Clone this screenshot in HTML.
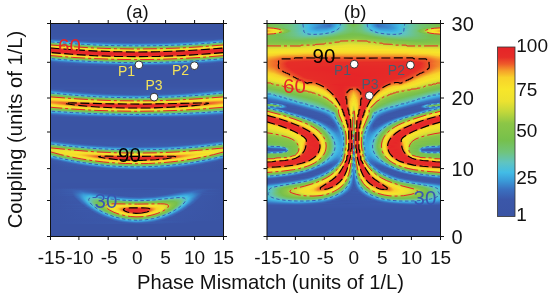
<!DOCTYPE html>
<html><head><meta charset="utf-8"><title>Coupling vs phase mismatch</title>
<style>
html,body{margin:0;padding:0;background:#fff}
body{width:550px;height:298px;position:relative;overflow:hidden;font-family:"Liberation Sans",Arial,sans-serif}
.hm{position:absolute}
.hm i{display:block;height:1px}
svg{position:absolute;left:0;top:0}
svg text{font-family:"Liberation Sans",Arial,sans-serif}
.fr{fill:none;stroke:#111;stroke-width:1}
.tk{fill:none;stroke:#111;stroke-width:1}
.tl text{font-size:20px;fill:#111}
.tl text.tlx{font-size:19px}
.ttl{font-size:18.5px;fill:#111;text-anchor:middle}
.ax{font-size:20.2px;fill:#111;text-anchor:middle}
.lb{font-size:20.5px;text-anchor:middle}
.pl{font-size:14px;text-anchor:middle}
.pa{fill:#f2e25a}
.pb{fill:#4d5a6c}
.pt{fill:#fff;stroke:#222;stroke-width:0.9}
.c9{fill:none;stroke:#000;stroke-width:1.15;stroke-dasharray:9 3.5}
.c6{fill:none;stroke:#e62328;stroke-width:1.0;stroke-dasharray:14 3 3 3}
.c3{fill:none;stroke:#3a5cb4;stroke-width:1.0;stroke-dasharray:3.5 2.5}
</style></head><body>
<div class="hm" style="left:51px;top:24px;width:172px;height:212px"><i style="background:linear-gradient(90deg,#3a54a4 0px,#3a54a4 172px)"></i><i style="background:linear-gradient(90deg,#3a54a4 0px,#3a54a4 172px)"></i><i style="background:linear-gradient(90deg,#3a54a4 0px,#3a54a4 172px)"></i><i style="background:linear-gradient(90deg,#3a54a4 0px,#3a54a4 172px)"></i><i style="background:linear-gradient(90deg,#3a54a4 0px,#3a54a4 172px)"></i><i style="background:linear-gradient(90deg,#3a54a4 0px,#3a54a4 172px)"></i><i style="background:linear-gradient(90deg,#3a54a4 0px,#3a54a4 172px)"></i><i style="background:linear-gradient(90deg,#3a54a4 0px,#3a54a4 172px)"></i><i style="background:linear-gradient(90deg,#3a54a4 0px,#3a54a4 172px)"></i><i style="background:linear-gradient(90deg,#3a54a5 0px,#3a54a5 172px)"></i><i style="background:linear-gradient(90deg,#3a55a5 0px,#3a55a5 172px)"></i><i style="background:linear-gradient(90deg,#3a55a5 0px,#3a55a5 172px)"></i><i style="background:linear-gradient(90deg,#3a55a6 0px,#3a55a6 172px)"></i><i style="background:linear-gradient(90deg,#3b56a7 0px,#3b56a7 172px)"></i><i style="background:linear-gradient(90deg,#3b57a9 0px,#3b57a9 172px)"></i><i style="background:linear-gradient(90deg,#3a68b9 0px,#3b57a8 16.5px,#3b59ab 162.5px,#3a68b8 172px)"></i><i style="background:linear-gradient(90deg,#3a8ed1 0px,#3a6cbd 9.5px,#3b57a9 29.5px,#3b5bac 150.5px,#3a77c4 166.5px,#3a8dd0 172px)"></i><i style="background:linear-gradient(90deg,#44bde3 0px,#3a76c3 18.5px,#3b57a9 43.5px,#3b5cae 135.5px,#3a78c5 154.5px,#43bce4 172px)"></i><i style="background:linear-gradient(90deg,#67c4a2 0px,#5ac2c8 5.5px,#41b9e5 13.5px,#3a70c0 36.5px,#3b58aa 76.5px,#3b62b3 121.5px,#3a79c5 139.5px,#42bce6 159.5px,#62c4b6 169.5px,#67c4a4 172px)"></i><i style="background:linear-gradient(90deg,#75c052 0px,#6cc48d 9.5px,#5bc3c6 17.5px,#41b9e5 27.5px,#3a77c4 55.5px,#3a69b9 85.5px,#3a76c3 115.5px,#40b3e2 142.5px,#44bde3 146.5px,#62c4b7 157.5px,#71c371 166.5px,#75c153 172px)"></i><i style="background:linear-gradient(90deg,#8bc646 0px,#76c04f 11.5px,#6bc492 23.5px,#5cc3c6 32.5px,#41b9e5 46.5px,#3a94d5 73.5px,#3a95d5 99.5px,#44bde3 128.5px,#61c4ba 142.5px,#72c36a 155.5px,#78c14b 162.5px,#8bc646 172px)"></i><i style="background:linear-gradient(90deg,#dbde34 0px,#8ac646 12.5px,#75c050 25.5px,#69c49b 42.5px,#5cc3c5 53.5px,#46bde1 79.5px,#4ebfd7 106.5px,#62c4b7 123.5px,#76c04d 147.5px,#92c845 161.5px,#dadd35 172px)"></i><i style="background:linear-gradient(90deg,#f7e32a 0px,#e4e032 10.5px,#8cc646 25.5px,#75c051 43.5px,#6ac497 74.5px,#69c49b 93.5px,#72c36d 118.5px,#79c14b 132.5px,#8fc745 147.5px,#ede230 163.5px,#f7e32a 172px)"></i><i style="background:linear-gradient(90deg,#f5a32a 0px,#f8d32a 5.5px,#f4e52b 15.5px,#e6e131 23.5px,#8bc646 43.5px,#76c04f 81.5px,#83c448 120.5px,#91c845 130.5px,#ede230 150.5px,#f7e22a 160.5px,#f8cf2a 167.5px,#f5a52a 172px)"></i><i style="background:linear-gradient(90deg,#e73328 0px,#ef612a 6.5px,#f6b02a 13.5px,#f8d22a 17.5px,#f5e52b 29.5px,#e3e032 41.5px,#9ecc42 66.5px,#8cc646 86.5px,#9fcc42 106.5px,#eee32f 135.5px,#f7e12a 147.5px,#f8cc2a 155.5px,#f3872a 162.5px,#ec512a 167.5px,#e73428 172px)"></i><i style="background:linear-gradient(90deg,#e62628 0px,#e62f28 11.5px,#ef642a 19.5px,#f6af2a 27.5px,#f8d42a 33.5px,#f5e52b 49.5px,#dedf33 89.5px,#f7e12a 129.5px,#f8cd2a 140.5px,#f38f2a 148.5px,#ec4f2a 155.5px,#e62d28 161.5px,#e62628 172px)"></i><i style="background:linear-gradient(90deg,#e62328 0px,#e73128 25.5px,#ef662a 35.5px,#f6ab2a 45.5px,#f8d32a 55.5px,#f7e12a 91.5px,#f8d12a 118.5px,#f4952a 130.5px,#ec4f2a 140.5px,#e62c28 148.5px,#e62328 172px)"></i><i style="background:linear-gradient(90deg,#e62828 0px,#e62828 32.5px,#e73528 44.5px,#f4922a 73.5px,#f59e2a 88.5px,#f2862a 103.5px,#e62c28 131.5px,#e62628 168.5px,#e62828 172px)"></i><i style="background:linear-gradient(90deg,#ec4c29 0px,#e62d28 5.5px,#e62428 39.5px,#e62d28 96.5px,#e62628 157.5px,#e62f28 167.5px,#eb4b29 172px)"></i><i style="background:linear-gradient(90deg,#f7c82a 0px,#ed572a 10.5px,#e62d28 17.5px,#e62428 61.5px,#e62928 149.5px,#e73028 155.5px,#ee5e2a 162.5px,#f7c62a 172px)"></i><i style="background:linear-gradient(90deg,#f3e52c 0px,#f8d32a 10.5px,#f38b2a 18.5px,#ed542a 24.5px,#e62c28 33.5px,#e62428 105.5px,#e73028 140.5px,#ef612a 149.5px,#f8cc2a 160.5px,#f5e52b 170.5px,#f4e52c 172px)"></i><i style="background:linear-gradient(90deg,#c3d83a 0px,#ede22f 7.5px,#f7e22a 16.5px,#f8cb2a 25.5px,#ed562a 41.5px,#e62c28 55.5px,#e62d28 117.5px,#ee592a 131.5px,#f8d42a 148.5px,#f4e52c 159.5px,#e5e032 166.5px,#c5d83a 172px)"></i><i style="background:linear-gradient(90deg,#83c448 0px,#93c844 5.5px,#e2df33 17.5px,#f0e32e 22.5px,#f7e02a 32.5px,#f8cb2a 43.5px,#f06c2a 64.5px,#ed542a 76.5px,#ed542a 96.5px,#f06e2a 108.5px,#f8d42a 131.5px,#f4e52b 145.5px,#e8e131 153.5px,#9ccb43 165.5px,#88c547 169.5px,#84c448 172px)"></i><i style="background:linear-gradient(90deg,#73c268 0px,#77c04c 5.5px,#91c745 17.5px,#d9dd35 30.5px,#eee32f 37.5px,#f7e02a 54.5px,#f8ce2a 90.5px,#f3e52c 128.5px,#e6e131 138.5px,#a5ce41 151.5px,#8ac547 156.5px,#76c04e 167.5px,#73c267 172px)"></i><i style="background:linear-gradient(90deg,#5fc4c1 0px,#71c376 9.5px,#78c04c 18.5px,#90c745 32.5px,#d2db37 48.5px,#ede22f 61.5px,#efe32f 107.5px,#e3e032 117.5px,#add13f 133.5px,#8bc646 141.5px,#76c050 155.5px,#6dc48b 165.5px,#60c4c0 172px)"></i><i style="background:linear-gradient(90deg,#3faee0 0px,#45bde2 4.5px,#62c4b7 13.5px,#71c372 23.5px,#77c04c 33.5px,#94c944 55.5px,#bbd53c 75.5px,#bcd53c 95.5px,#97ca44 115.5px,#85c448 126.5px,#76c04f 140.5px,#6dc488 152.5px,#5ac2c7 161.5px,#41b8e5 169.5px,#3fafe1 172px)"></i><i style="background:linear-gradient(90deg,#3a7dc8 0px,#42bce6 15.5px,#63c4b2 28.5px,#71c376 39.5px,#77c04c 55.5px,#81c349 95.5px,#76c050 119.5px,#6dc487 136.5px,#59c2c9 148.5px,#41b9e5 157.5px,#3a7ec8 172px)"></i><i style="background:linear-gradient(90deg,#3b62b3 0px,#3a7bc6 11.5px,#43bce5 30.5px,#64c4af 48.5px,#70c479 65.5px,#72c36b 88.5px,#6fc47f 109.5px,#57c2cc 132.5px,#41b7e4 143.5px,#3a6bbb 166.5px,#3b62b3 172px)"></i><i style="background:linear-gradient(90deg,#3b57a8 0px,#3a73c2 22.5px,#40b4e3 46.5px,#46bde0 53.5px,#5dc3c4 80.5px,#54c1cf 106.5px,#41b9e5 123.5px,#3a7ac6 147.5px,#3b57a9 169.5px,#3b57a8 172px)"></i><i style="background:linear-gradient(90deg,#3b56a7 0px,#3b5eaf 22.5px,#3a7fc8 44.5px,#3da5dc 68.5px,#3eaadf 95.5px,#3a8ed1 120.5px,#3a66b7 142.5px,#3b56a8 162.5px,#3b56a7 172px)"></i><i style="background:linear-gradient(90deg,#3a55a6 0px,#3b5dae 38.5px,#3a7cc7 87.5px,#3b56a8 149.5px,#3a55a6 172px)"></i><i style="background:linear-gradient(90deg,#3a55a5 0px,#3b5eb0 69.5px,#3b59ab 115.5px,#3a55a5 172px)"></i><i style="background:linear-gradient(90deg,#3a54a5 0px,#3a54a5 172px)"></i><i style="background:linear-gradient(90deg,#3a54a4 0px,#3a54a4 172px)"></i><i style="background:linear-gradient(90deg,#3a54a4 0px,#3a54a4 172px)"></i><i style="background:linear-gradient(90deg,#3a54a4 0px,#3a54a4 172px)"></i><i style="background:linear-gradient(90deg,#3a54a4 0px,#3a54a4 172px)"></i><i style="background:linear-gradient(90deg,#3a54a4 0px,#3a54a4 172px)"></i><i style="background:linear-gradient(90deg,#3a54a4 0px,#3a54a4 172px)"></i><i style="background:linear-gradient(90deg,#3a54a4 0px,#3a54a4 172px)"></i><i style="background:linear-gradient(90deg,#3a54a4 0px,#3a54a4 172px)"></i><i style="background:linear-gradient(90deg,#3a54a4 0px,#3a54a4 172px)"></i><i style="background:linear-gradient(90deg,#3a54a4 0px,#3a54a4 172px)"></i><i style="background:linear-gradient(90deg,#3a54a4 0px,#3a54a4 172px)"></i><i style="background:linear-gradient(90deg,#3a54a4 0px,#3a54a4 172px)"></i><i style="background:linear-gradient(90deg,#3a54a4 0px,#3a54a4 172px)"></i><i style="background:linear-gradient(90deg,#3a54a4 0px,#3a54a4 172px)"></i><i style="background:linear-gradient(90deg,#3a54a4 0px,#3a54a4 172px)"></i><i style="background:linear-gradient(90deg,#3a54a4 0px,#3a54a4 172px)"></i><i style="background:linear-gradient(90deg,#3a54a5 0px,#3a54a5 172px)"></i><i style="background:linear-gradient(90deg,#3a55a5 0px,#3a55a5 172px)"></i><i style="background:linear-gradient(90deg,#3a55a6 0px,#3a55a5 172px)"></i><i style="background:linear-gradient(90deg,#3a55a6 0px,#3a55a6 172px)"></i><i style="background:linear-gradient(90deg,#3b56a7 0px,#3b56a7 172px)"></i><i style="background:linear-gradient(90deg,#3b57a8 0px,#3b57a8 172px)"></i><i style="background:linear-gradient(90deg,#3b5fb0 0px,#3b56a7 15.5px,#3b59ab 168.5px,#3b5eb0 172px)"></i><i style="background:linear-gradient(90deg,#3a6fbf 0px,#3b57a8 17.5px,#3b59ab 159.5px,#3a6fbf 172px)"></i><i style="background:linear-gradient(90deg,#3a97d6 0px,#3a6dbd 10.5px,#3b57a8 27.5px,#3b5aac 150.5px,#3a7ac5 165.5px,#3a96d6 172px)"></i><i style="background:linear-gradient(90deg,#44bde3 0px,#3a75c3 17.5px,#3b57a9 38.5px,#3b5bac 139.5px,#3a78c5 155.5px,#44bce4 172px)"></i><i style="background:linear-gradient(90deg,#63c4b4 0px,#42bce5 10.5px,#3a6ebe 31.5px,#3b57a9 56.5px,#3b5cae 126.5px,#3a79c5 144.5px,#42bce6 161.5px,#62c4b6 172px)"></i><i style="background:linear-gradient(90deg,#72c36b 0px,#6ac494 6.5px,#5bc3c7 13.5px,#41b8e4 22.5px,#3a6fbf 45.5px,#3b59ab 81.5px,#3a67b8 119.5px,#3a7bc6 131.5px,#44bde3 151.5px,#62c4b7 161.5px,#71c372 170.5px,#72c36c 172px)"></i><i style="background:linear-gradient(90deg,#7ec24a 0px,#76c050 5.5px,#6cc48e 16.5px,#5cc3c5 24.5px,#41b8e4 35.5px,#3a78c4 62.5px,#3a6bbc 87.5px,#3a78c4 109.5px,#41b8e4 136.5px,#53c1d0 144.5px,#63c4b5 150.5px,#72c370 160.5px,#78c14b 168.5px,#7dc24a 172px)"></i><i style="background:linear-gradient(90deg,#99ca43 0px,#89c547 4.5px,#76c04e 16.5px,#6dc48a 28.5px,#5dc3c4 38.5px,#42bae5 52.5px,#3a99d8 76.5px,#3a9cd9 99.5px,#45bde2 122.5px,#62c4b7 136.5px,#72c370 148.5px,#78c14b 157.5px,#92c845 170.5px,#98ca43 172px)"></i><i style="background:linear-gradient(90deg,#d6dc36 0px,#8ac547 15.5px,#75c051 30.5px,#69c499 47.5px,#5cc3c5 59.5px,#4abedc 83.5px,#56c1cd 107.5px,#63c4b4 118.5px,#73c262 137.5px,#78c14b 144.5px,#8fc745 158.5px,#d5dc36 172px)"></i><i style="background:linear-gradient(90deg,#f3e42c 0px,#e4e032 9.5px,#8ac547 29.5px,#75c153 48.5px,#6bc48f 77.5px,#6bc490 94.5px,#75c153 123.5px,#83c448 137.5px,#93c845 145.5px,#ece230 164.5px,#f2e42d 172px)"></i><i style="background:linear-gradient(90deg,#f8dc2a 0px,#f2e42d 14.5px,#e5e032 23.5px,#8ac646 47.5px,#77c04c 86.5px,#8bc646 125.5px,#ede22f 151.5px,#f7e12a 167.5px,#f8dc2a 172px)"></i><i style="background:linear-gradient(90deg,#f7bf2a 0px,#f8d62a 11.5px,#f4e52c 28.5px,#e5e032 41.5px,#9fcc42 69.5px,#92c845 89.5px,#acd03f 109.5px,#eee32f 135.5px,#f7e12a 151.5px,#f8ca2a 167.5px,#f7bf2a 172px)"></i><i style="background:linear-gradient(90deg,#f4982a 0px,#f5a02a 10.5px,#f8d42a 28.5px,#f4e52b 49.5px,#e2df33 91.5px,#f7e12a 131.5px,#f8cc2a 147.5px,#f59c2a 163.5px,#f4982a 172px)"></i><i style="background:linear-gradient(90deg,#f4922a 0px,#f0702a 9.5px,#f0712a 20.5px,#f8d42a 52.5px,#f7e12a 92.5px,#f8cc2a 123.5px,#f0722a 151.5px,#f0702a 162.5px,#f3902a 172px)"></i><i style="background:linear-gradient(90deg,#f6b22a 0px,#ee5f2a 13.5px,#eb4a29 25.5px,#ee592a 44.5px,#f59f2a 74.5px,#f5a12a 95.5px,#f1732a 117.5px,#ec512a 133.5px,#ec4d29 150.5px,#ef622a 159.5px,#f6b12a 172px)"></i><i style="background:linear-gradient(90deg,#f8d72a 0px,#f7c92a 4.5px,#ed562a 20.5px,#e73328 34.5px,#e73028 57.5px,#e93c29 93.5px,#e62e28 132.5px,#eb4829 147.5px,#ef662a 154.5px,#f8d32a 169.5px,#f8d72a 172px)"></i><i style="background:linear-gradient(90deg,#f6e52b 0px,#f8cf2a 12.5px,#ee572a 28.5px,#e62d28 41.5px,#e62d28 130.5px,#ee5b2a 144.5px,#f8d32a 160.5px,#f6e62b 172px)"></i><i style="background:linear-gradient(90deg,#e4e032 0px,#f6e62b 10.5px,#f8d22a 22.5px,#ed562a 40.5px,#e62d28 54.5px,#e62d28 118.5px,#ee5f2a 133.5px,#f8d02a 149.5px,#f5e52b 162.5px,#e5e032 172px)"></i><i style="background:linear-gradient(90deg,#abd03f 0px,#ede230 13.5px,#f7e02a 26.5px,#f8cd2a 36.5px,#ee582a 57.5px,#e73528 76.5px,#e83628 96.5px,#ee5b2a 115.5px,#f8d32a 137.5px,#f4e52c 152.5px,#e7e131 160.5px,#acd03f 172px)"></i><i style="background:linear-gradient(90deg,#82c349 0px,#92c845 7.5px,#e3e032 23.5px,#f2e42d 32.5px,#f8dc2a 45.5px,#f8ca2a 56.5px,#f4962a 75.5px,#f38c2a 89.5px,#f6af2a 107.5px,#f8d42a 119.5px,#f3e52c 138.5px,#e8e131 147.5px,#99ca43 163.5px,#88c547 168.5px,#83c349 172px)"></i><i style="background:linear-gradient(90deg,#74c15c 0px,#79c14b 6.5px,#91c845 20.5px,#dbde34 37.5px,#eee32f 45.5px,#f7e02a 70.5px,#f7e22a 105.5px,#e9e131 130.5px,#a6ce40 147.5px,#89c547 154.5px,#76c04e 168.5px,#74c15c 172px)"></i><i style="background:linear-gradient(90deg,#68c49e 0px,#71c371 8.5px,#77c04c 18.5px,#92c845 37.5px,#d0db37 57.5px,#ece230 79.5px,#e5e032 102.5px,#b9d53c 123.5px,#89c547 138.5px,#76c050 155.5px,#6dc489 168.5px,#68c49c 172px)"></i><i style="background:linear-gradient(90deg,#4dbfd8 0px,#63c4b4 10.5px,#71c375 22.5px,#77c04c 36.5px,#99ca43 71.5px,#a1cd42 92.5px,#76c04d 137.5px,#6ec485 153.5px,#5cc3c5 165.5px,#4dbfd8 172px)"></i><i style="background:linear-gradient(90deg,#3ca2db 0px,#45bde2 11.5px,#63c4b2 27.5px,#71c375 42.5px,#77c04c 65.5px,#76c04f 110.5px,#6fc481 133.5px,#5ac2c7 150.5px,#41b8e4 163.5px,#3ca2db 172px)"></i><i style="background:linear-gradient(90deg,#3a79c5 0px,#42bbe6 27.5px,#65c4ac 54.5px,#6ec484 76.5px,#6ec485 96.5px,#64c4ae 118.5px,#42bce6 144.5px,#3a79c5 172px)"></i><i style="background:linear-gradient(90deg,#3b63b4 0px,#3a7ec8 19.5px,#41b9e5 52.5px,#51c0d3 89.5px,#41b7e4 121.5px,#3a7ac6 154.5px,#3b63b4 172px)"></i><i style="background:linear-gradient(90deg,#3b57a9 0px,#3a7bc6 41.5px,#3b9ed9 75.5px,#3a97d6 107.5px,#3a64b5 152.5px,#3b57a9 172px)"></i><i style="background:linear-gradient(90deg,#3b56a7 0px,#3b60b1 38.5px,#3a6fbf 93.5px,#3b56a8 164.5px,#3b56a7 172px)"></i><i style="background:linear-gradient(90deg,#3a55a6 0px,#3b58aa 114.5px,#3a55a6 172px)"></i><i style="background:linear-gradient(90deg,#3a55a6 0px,#3a55a6 172px)"></i><i style="background:linear-gradient(90deg,#3a55a5 0px,#3a55a5 172px)"></i><i style="background:linear-gradient(90deg,#3a54a5 0px,#3a54a5 172px)"></i><i style="background:linear-gradient(90deg,#3a54a4 0px,#3a54a4 172px)"></i><i style="background:linear-gradient(90deg,#3a54a4 0px,#3a54a4 172px)"></i><i style="background:linear-gradient(90deg,#3a54a4 0px,#3a54a4 172px)"></i><i style="background:linear-gradient(90deg,#3a54a4 0px,#3a54a4 172px)"></i><i style="background:linear-gradient(90deg,#3a54a4 0px,#3a54a4 172px)"></i><i style="background:linear-gradient(90deg,#3a54a4 0px,#3a54a4 172px)"></i><i style="background:linear-gradient(90deg,#3a54a4 0px,#3a54a4 172px)"></i><i style="background:linear-gradient(90deg,#3a54a4 0px,#3a54a4 172px)"></i><i style="background:linear-gradient(90deg,#3a54a4 0px,#3a54a4 172px)"></i><i style="background:linear-gradient(90deg,#3a54a4 0px,#3a54a4 172px)"></i><i style="background:linear-gradient(90deg,#3a54a4 0px,#3a54a4 172px)"></i><i style="background:linear-gradient(90deg,#3a54a4 0px,#3a54a4 172px)"></i><i style="background:linear-gradient(90deg,#3a54a4 0px,#3a54a4 172px)"></i><i style="background:linear-gradient(90deg,#3a54a4 0px,#3a54a4 172px)"></i><i style="background:linear-gradient(90deg,#3a54a4 0px,#3a54a4 172px)"></i><i style="background:linear-gradient(90deg,#3a54a5 0px,#3a54a5 172px)"></i><i style="background:linear-gradient(90deg,#3a55a5 0px,#3a55a5 172px)"></i><i style="background:linear-gradient(90deg,#3a55a6 0px,#3a55a6 172px)"></i><i style="background:linear-gradient(90deg,#3b56a7 0px,#3b56a7 172px)"></i><i style="background:linear-gradient(90deg,#3b57a9 0px,#3b57a9 172px)"></i><i style="background:linear-gradient(90deg,#3a68b9 0px,#3b57a8 10.5px,#3b57a9 164.5px,#3a68b8 172px)"></i><i style="background:linear-gradient(90deg,#3a8ed1 0px,#3a6cbd 6.5px,#3b57a9 18.5px,#3b58aa 156.5px,#3a79c5 168.5px,#3a8dd0 172px)"></i><i style="background:linear-gradient(90deg,#43bce5 0px,#3a6fbf 13.5px,#3b57a9 28.5px,#3b5aac 148.5px,#3a78c5 160.5px,#42bce6 172px)"></i><i style="background:linear-gradient(90deg,#64c4ad 0px,#53c1d0 4.5px,#42bae5 8.5px,#3a6dbd 23.5px,#3b57a9 40.5px,#3b5cad 138.5px,#3a77c4 151.5px,#44bde3 164.5px,#61c4bc 170.5px,#64c4b0 172px)"></i><i style="background:linear-gradient(90deg,#73c263 0px,#6cc48f 5.5px,#5dc3c4 10.5px,#42bce6 16.5px,#3a6fbf 33.5px,#3b57a9 56.5px,#3b5cae 125.5px,#3a78c5 141.5px,#42bbe6 155.5px,#60c4bf 162.5px,#71c373 169.5px,#73c264 172px)"></i><i style="background:linear-gradient(90deg,#80c349 0px,#76c04f 5.5px,#6cc48d 13.5px,#5bc3c6 19.5px,#42bae5 26.5px,#3a70c0 46.5px,#3b59ab 79.5px,#3a65b6 116.5px,#3a7ac6 129.5px,#43bce4 146.5px,#62c4b9 154.5px,#71c373 161.5px,#77c04c 167.5px,#80c349 172px)"></i><i style="background:linear-gradient(90deg,#9ccb43 0px,#87c547 5.5px,#76c04c 13.5px,#6cc48b 22.5px,#5cc3c5 29.5px,#41b8e5 38.5px,#3a7ac5 61.5px,#3a6bbb 81.5px,#3a76c3 108.5px,#3fb1e1 131.5px,#44bde3 135.5px,#61c4bb 144.5px,#72c36e 153.5px,#78c04c 159.5px,#95c944 170.5px,#9bcb43 172px)"></i><i style="background:linear-gradient(90deg,#c9d939 0px,#9dcb42 9.5px,#87c547 14.5px,#76c04f 23.5px,#6cc48d 33.5px,#5dc3c4 41.5px,#42bae5 53.5px,#3a97d6 75.5px,#3a98d7 97.5px,#44bde3 120.5px,#61c4bb 132.5px,#72c36d 143.5px,#79c14b 150.5px,#8ec746 160.5px,#c6d83a 170.5px,#c8d939 172px)"></i><i style="background:linear-gradient(90deg,#e0df33 0px,#d6dc36 8.5px,#a9cf40 17.5px,#8bc646 22.5px,#76c04e 34.5px,#6ac494 48.5px,#5ec3c3 58.5px,#47bddf 79.5px,#4ebfd7 102.5px,#62c4b9 116.5px,#76c04f 137.5px,#94c844 151.5px,#d2db37 162.5px,#e1df33 170.5px,#e0df33 172px)"></i><i style="background:linear-gradient(90deg,#e1df33 0px,#ede22f 4.5px,#e8e131 15.5px,#afd13f 27.5px,#8ac547 34.5px,#75c050 49.5px,#69c499 76.5px,#68c49d 92.5px,#71c370 112.5px,#78c14b 125.5px,#8fc745 139.5px,#dcde34 153.5px,#ede22f 160.5px,#e8e131 170.5px,#e3e032 172px)"></i><i style="background:linear-gradient(90deg,#cdda38 0px,#ece230 4.5px,#f1e42e 21.5px,#e3e032 29.5px,#8bc646 48.5px,#75c052 80.5px,#7fc349 112.5px,#91c845 125.5px,#ece230 145.5px,#f1e42e 164.5px,#e8e131 168.5px,#cfdb37 172px)"></i><i style="background:linear-gradient(90deg,#a4ce41 0px,#dfdf33 5.5px,#efe32e 8.5px,#f7e52a 25.5px,#e6e032 43.5px,#96c944 68.5px,#8ac547 82.5px,#92c845 101.5px,#d3dc36 123.5px,#eee32f 132.5px,#f7e62a 157.5px,#eae131 165.5px,#b5d33d 170.5px,#a7cf40 172px)"></i><i style="background:linear-gradient(90deg,#83c448 0px,#8cc646 2.5px,#dade34 8.5px,#efe32f 11.5px,#f7e12a 18.5px,#f8db2a 33.5px,#f3e42c 51.5px,#e2df33 68.5px,#d3dc36 88.5px,#f4e52c 122.5px,#f8db2a 149.5px,#f1e42d 159.5px,#e6e131 162.5px,#acd03f 167.5px,#8ec746 169.5px,#84c448 172px)"></i><i style="background:linear-gradient(90deg,#74c15a 0px,#76c04c 1.5px,#8dc646 6.5px,#dcde34 12.5px,#efe32e 15.5px,#f7e02a 21.5px,#f7c22a 36.5px,#f7dc2a 59.5px,#f6e62b 90.5px,#f8d02a 126.5px,#f7c22a 136.5px,#f4e52c 154.5px,#e9e131 158.5px,#9fcc42 164.5px,#89c547 166.5px,#77c04c 170.5px,#75c157 172px)"></i><i style="background:linear-gradient(90deg,#68c49f 0px,#73c268 3.5px,#76c04c 5.5px,#8cc646 10.5px,#dbde34 16.5px,#efe32e 19.5px,#f7df2a 25.5px,#f8d02a 30.5px,#f5a12a 37.5px,#f38b2a 45.5px,#f49b2a 57.5px,#f7c02a 80.5px,#f7b92a 98.5px,#f38b2a 125.5px,#f59c2a 133.5px,#f7c62a 140.5px,#f8d82a 144.5px,#f4e52c 150.5px,#e8e131 154.5px,#9ccb42 160.5px,#88c547 162.5px,#77c04c 166.5px,#6ec484 170.5px,#69c49b 172px)"></i><i style="background:linear-gradient(90deg,#48bede 0px,#62c4b7 3.5px,#71c478 6.5px,#76c050 9.5px,#93c844 15.5px,#e0df33 21.5px,#f0e42e 24.5px,#f7e02a 29.5px,#f8cd2a 34.5px,#f06f2a 44.5px,#ed552a 50.5px,#ec4d29 66.5px,#ec502a 98.5px,#ec512a 119.5px,#ef672a 126.5px,#f7c02a 136.5px,#f8d62a 139.5px,#f5e52b 145.5px,#ece230 149.5px,#a5ce41 155.5px,#8bc646 157.5px,#76c04d 162.5px,#6dc487 166.5px,#5dc3c4 169.5px,#4abedc 172px)"></i><i style="background:linear-gradient(90deg,#3a96d6 0px,#41b8e4 3.5px,#61c4bb 7.5px,#70c47d 10.5px,#77c04c 14.5px,#8bc646 19.5px,#ebe230 27.5px,#f7e32a 33.5px,#f8cc2a 39.5px,#ee5d2a 49.5px,#e73228 59.5px,#e62b28 97.5px,#e73228 112.5px,#ee5b2a 122.5px,#f8d32a 133.5px,#f5e52b 140.5px,#ece230 144.5px,#a7cf40 150.5px,#8cc646 152.5px,#78c04c 157.5px,#70c47a 161.5px,#5bc3c7 165.5px,#42bae5 168.5px,#3a99d7 172px)"></i><i style="background:linear-gradient(90deg,#3a6cbc 0px,#40b5e3 7.5px,#4dbfd8 9.5px,#64c4b1 12.5px,#70c478 15.5px,#78c04c 19.5px,#8bc646 24.5px,#e6e032 32.5px,#f7e22a 39.5px,#f8cb2a 45.5px,#ed542a 56.5px,#e62d28 65.5px,#e62d28 107.5px,#ee592a 116.5px,#f8d32a 127.5px,#f4e52c 135.5px,#e8e131 139.5px,#8bc646 147.5px,#75c051 153.5px,#6ec485 157.5px,#60c4c0 160.5px,#47bde0 163.5px,#3eace0 165.5px,#3a6dbd 172px)"></i><i style="background:linear-gradient(90deg,#3b59ab 0px,#3a7bc6 6.5px,#42bae5 12.5px,#60c4c0 16.5px,#71c478 20.5px,#77c04c 24.5px,#8cc646 30.5px,#e4e032 38.5px,#f2e42d 42.5px,#f7dc2a 48.5px,#f8d12a 52.5px,#ee5b2a 64.5px,#e73128 75.5px,#e62f28 95.5px,#ee5a2a 107.5px,#f8d42a 120.5px,#f4e52b 128.5px,#e6e032 133.5px,#9bcb43 140.5px,#89c547 142.5px,#77c04c 147.5px,#6ec484 152.5px,#5ac2c8 156.5px,#42bce6 159.5px,#3a6cbc 167.5px,#3b5aac 172px)"></i><i style="background:linear-gradient(90deg,#3b56a8 0px,#3b61b2 6.5px,#3a76c4 10.5px,#42bce6 17.5px,#60c4c1 21.5px,#70c47c 25.5px,#78c04c 30.5px,#8bc646 36.5px,#e2e032 45.5px,#f2e42d 50.5px,#f7de2a 56.5px,#f7c92a 63.5px,#f17a2a 76.5px,#ef662a 85.5px,#f1762a 94.5px,#f7c12a 107.5px,#f8d52a 111.5px,#f4e52b 120.5px,#ebe230 125.5px,#a2cd41 133.5px,#8cc646 135.5px,#76c04f 142.5px,#6dc489 147.5px,#61c4bd 150.5px,#44bce4 154.5px,#3a78c5 161.5px,#3b57a9 168.5px,#3b56a8 172px)"></i><i style="background:linear-gradient(90deg,#3a55a6 0px,#3b5bad 9.5px,#3a79c5 15.5px,#42bbe5 22.5px,#62c4b9 27.5px,#71c371 32.5px,#76c04c 36.5px,#92c845 44.5px,#ddde34 53.5px,#eee32f 57.5px,#f7e02a 68.5px,#f8d42a 89.5px,#f2e42d 111.5px,#e4e032 117.5px,#a7cf40 125.5px,#89c547 129.5px,#75c152 136.5px,#6ec486 141.5px,#5dc3c3 145.5px,#42bce6 149.5px,#3a6cbd 158.5px,#3b57a8 165.5px,#3a55a6 172px)"></i><i style="background:linear-gradient(90deg,#3a55a5 0px,#3b5dae 14.5px,#3a79c5 20.5px,#43bce4 28.5px,#61c4bb 33.5px,#71c477 38.5px,#76c04d 43.5px,#93c845 53.5px,#d3dc36 63.5px,#ede32f 71.5px,#eee32f 99.5px,#e1df33 105.5px,#abd03f 115.5px,#8ac547 120.5px,#76c04c 128.5px,#6fc47f 134.5px,#5dc3c3 139.5px,#44bde3 143.5px,#3a84cb 150.5px,#3a69b9 154.5px,#3b56a8 161.5px,#3a55a5 172px)"></i><i style="background:linear-gradient(90deg,#3a55a5 0px,#3b5dae 19.5px,#3a76c3 25.5px,#42bce6 34.5px,#61c4ba 40.5px,#71c375 46.5px,#76c04c 52.5px,#95c944 66.5px,#bdd63b 78.5px,#c2d73a 90.5px,#a3cd41 102.5px,#89c547 109.5px,#75c051 120.5px,#6ec486 127.5px,#59c2c9 133.5px,#43bce5 137.5px,#3a77c4 146.5px,#3b57a9 155.5px,#3a55a5 172px)"></i><i style="background:linear-gradient(90deg,#3a54a5 0px,#3b5cad 24.5px,#3a76c4 31.5px,#42bbe6 41.5px,#63c4b1 49.5px,#71c373 56.5px,#77c04c 65.5px,#85c448 89.5px,#76c050 108.5px,#6dc488 118.5px,#5ac2c8 125.5px,#42bce5 130.5px,#3a6dbd 142.5px,#3b57a8 151.5px,#3a54a5 172px)"></i><i style="background:linear-gradient(90deg,#3a54a4 0px,#3b5cae 30.5px,#3a79c5 38.5px,#41b9e5 49.5px,#62c4b8 59.5px,#70c47a 69.5px,#73c261 83.5px,#72c36d 97.5px,#6dc488 105.5px,#57c2cc 116.5px,#42bae5 122.5px,#3a6cbc 136.5px,#3b57a8 145.5px,#3a54a4 172px)"></i><i style="background:linear-gradient(90deg,#3a54a4 0px,#3b5bad 36.5px,#3a7ac6 46.5px,#41b9e5 60.5px,#62c4b9 79.5px,#62c4b6 90.5px,#4dbfd8 106.5px,#41b7e4 112.5px,#3a76c3 126.5px,#3b57a8 139.5px,#3a54a4 172px)"></i><i style="background:linear-gradient(90deg,#3a54a4 0px,#3b5aac 43.5px,#3a7bc6 56.5px,#3ea9de 71.5px,#41b7e4 88.5px,#3b9eda 105.5px,#3a67b8 122.5px,#3b57a8 133.5px,#3a54a4 172px)"></i><i style="background:linear-gradient(90deg,#3a54a4 0px,#3b5cae 53.5px,#3a88ce 83.5px,#3a7ac6 100.5px,#3b57a8 125.5px,#3a54a4 172px)"></i><i style="background:linear-gradient(90deg,#3a54a5 0px,#3b5cae 66.5px,#3a65b6 93.5px,#3b56a7 122.5px,#3a54a5 172px)"></i><i style="background:linear-gradient(90deg,#3a54a5 0px,#3a54a5 172px)"></i><i style="background:linear-gradient(90deg,#3a54a5 0px,#3a54a5 172px)"></i><i style="background:linear-gradient(90deg,#3a55a5 0px,#3a55a5 172px)"></i><i style="background:linear-gradient(90deg,#3a55a5 0px,#3a55a5 172px)"></i><i style="background:linear-gradient(90deg,#3a55a5 0px,#3a55a5 172px)"></i><i style="background:linear-gradient(90deg,#3a55a5 0px,#3a55a5 172px)"></i><i style="background:linear-gradient(90deg,#3a55a5 0px,#3a55a5 172px)"></i><i style="background:linear-gradient(90deg,#3a55a5 0px,#3a55a5 172px)"></i><i style="background:linear-gradient(90deg,#3a55a5 0px,#3a55a5 172px)"></i><i style="background:linear-gradient(90deg,#3a55a5 0px,#3a55a5 172px)"></i><i style="background:linear-gradient(90deg,#3a55a5 0px,#3a55a5 172px)"></i><i style="background:linear-gradient(90deg,#3a55a5 0px,#3a55a5 172px)"></i><i style="background:linear-gradient(90deg,#3a55a5 0px,#3a55a5 172px)"></i><i style="background:linear-gradient(90deg,#3a54a5 0px,#3a54a5 172px)"></i><i style="background:linear-gradient(90deg,#3a54a5 0px,#3a54a5 172px)"></i><i style="background:linear-gradient(90deg,#3a54a5 0px,#3a54a5 172px)"></i><i style="background:linear-gradient(90deg,#3a54a4 0px,#3a54a4 172px)"></i><i style="background:linear-gradient(90deg,#3a54a4 0px,#3a54a4 172px)"></i><i style="background:linear-gradient(90deg,#3a54a4 0px,#3b57a9 29.5px,#3b57a9 142.5px,#3a54a4 172px)"></i><i style="background:linear-gradient(90deg,#3a54a4 0px,#3b5dae 21.5px,#3b5bad 31.5px,#3a54a4 95.5px,#3b5bad 140.5px,#3b5daf 150.5px,#3a54a4 172px)"></i><i style="background:linear-gradient(90deg,#3a54a4 0px,#3b5cad 20.5px,#3a66b7 29.5px,#3b56a8 43.5px,#3b58aa 134.5px,#3a66b6 146.5px,#3b56a7 157.5px,#3a54a4 172px)"></i><i style="background:linear-gradient(90deg,#3a54a4 0px,#3b5cad 20.5px,#3a6dbe 29.5px,#3b56a8 46.5px,#3b57a9 129.5px,#3a6dbe 142.5px,#3b56a7 156.5px,#3a54a4 172px)"></i><i style="background:linear-gradient(90deg,#3a54a4 0px,#3b5aac 20.5px,#3a7ac6 31.5px,#3b57a8 49.5px,#3b58aa 125.5px,#3a7ac6 140.5px,#3b5bad 151.5px,#3a54a4 172px)"></i><i style="background:linear-gradient(90deg,#3a54a4 0px,#3b5dae 21.5px,#3a8acf 32.5px,#3a7ec8 39.5px,#3b57a9 52.5px,#3b58aa 120.5px,#3a81ca 133.5px,#3a89ce 140.5px,#3b57a9 152.5px,#3a54a4 172px)"></i><i style="background:linear-gradient(90deg,#3a54a4 0px,#3b5aab 21.5px,#3a98d7 32.5px,#3a98d7 39.5px,#3a66b7 51.5px,#3b57a8 60.5px,#3b59ab 115.5px,#3a77c4 125.5px,#3a9cd9 134.5px,#3a95d5 140.5px,#3b5bac 150.5px,#3a54a4 172px)"></i><i style="background:linear-gradient(90deg,#3a54a4 0px,#3b5bad 22.5px,#3a7bc6 27.5px,#3ca1db 32.5px,#3faee0 38.5px,#3a99d7 46.5px,#3a6bbc 55.5px,#3b57a8 67.5px,#3b5bac 109.5px,#3a76c3 119.5px,#3da7dd 129.5px,#3eacdf 136.5px,#3a8fd2 142.5px,#3a67b8 147.5px,#3b57a8 151.5px,#3a54a4 172px)"></i><i style="background:linear-gradient(90deg,#3a54a4 0px,#3b57a9 22.5px,#3a76c4 27.5px,#3da6dd 32.5px,#43bce4 37.5px,#40b5e3 46.5px,#3a6bbb 62.5px,#3b57a9 78.5px,#3b5daf 102.5px,#3a78c5 113.5px,#41b8e4 126.5px,#42bbe6 135.5px,#3a99d7 141.5px,#3a69b9 146.5px,#3b57a8 150.5px,#3a54a4 172px)"></i><i style="background:linear-gradient(90deg,#3a54a4 0px,#3b58aa 23.5px,#3a7cc7 28.5px,#3fb0e1 33.5px,#49bede 36.5px,#56c1cd 43.5px,#41b8e4 53.5px,#3a6fbf 69.5px,#3b61b2 88.5px,#3a74c2 104.5px,#42bce6 119.5px,#56c1cd 128.5px,#49bedd 135.5px,#40b2e2 138.5px,#3a6bbb 145.5px,#3b57a9 149.5px,#3a54a4 172px)"></i><i style="background:linear-gradient(90deg,#3a54a4 0px,#3b58aa 24.5px,#3a73c2 28.5px,#3fb0e1 33.5px,#47bde0 35.5px,#61c4bb 41.5px,#64c4b0 46.5px,#53c1d0 55.5px,#41b8e4 61.5px,#3a7fc9 77.5px,#3a78c4 89.5px,#3a93d4 101.5px,#45bde2 112.5px,#63c4b5 123.5px,#63c4b2 128.5px,#54c1d0 134.5px,#42bbe6 137.5px,#3a75c3 143.5px,#3b57a9 148.5px,#3a54a4 172px)"></i><i style="background:linear-gradient(90deg,#3a54a4 0px,#3b58aa 25.5px,#3a75c3 29.5px,#41b7e4 34.5px,#61c4bb 39.5px,#6cc48d 44.5px,#6ec484 49.5px,#67c4a2 56.5px,#57c2cb 63.5px,#41bae5 71.5px,#3ca3dc 84.5px,#3fb1e1 97.5px,#45bde2 102.5px,#62c4b9 112.5px,#6dc489 120.5px,#6ec485 125.5px,#67c4a2 130.5px,#50c0d5 135.5px,#41b9e5 137.5px,#3a6dbd 143.5px,#3b57a9 147.5px,#3a54a4 172px)"></i><i style="background:linear-gradient(90deg,#3a54a4 0px,#3b58aa 26.5px,#3a77c4 30.5px,#43bce5 35.5px,#62c4b6 39.5px,#70c47c 43.5px,#73c263 49.5px,#72c36d 57.5px,#6cc48f 64.5px,#5ec3c3 73.5px,#50c0d4 86.5px,#60c4c1 99.5px,#71c374 112.5px,#73c262 121.5px,#71c374 127.5px,#6bc493 130.5px,#56c1cd 134.5px,#44bde3 136.5px,#3a89ce 140.5px,#3a66b7 143.5px,#3b57a9 146.5px,#3a54a4 172px)"></i><i style="background:linear-gradient(90deg,#3a54a4 0px,#3b57a9 27.5px,#3a77c4 31.5px,#40b3e2 35.5px,#46bde1 36.5px,#62c4b9 39.5px,#6fc47f 42.5px,#76c04f 48.5px,#76c04f 62.5px,#6cc48c 83.5px,#6ec485 92.5px,#78c04c 112.5px,#76c04e 123.5px,#70c47c 129.5px,#5bc3c6 133.5px,#41b6e4 136.5px,#3a6dbe 141.5px,#3b57a8 145.5px,#3a54a4 172px)"></i><i style="background:linear-gradient(90deg,#3a54a4 0px,#3b57a9 28.5px,#3a76c4 32.5px,#40b5e3 36.5px,#53c0d1 38.5px,#64c4ae 40.5px,#6fc481 42.5px,#75c051 46.5px,#86c448 58.5px,#77c04c 91.5px,#84c448 117.5px,#76c04f 125.5px,#70c47d 129.5px,#5fc4c1 132.5px,#41b8e4 135.5px,#3a6dbd 140.5px,#3b57a8 144.5px,#3a54a4 172px)"></i><i style="background:linear-gradient(90deg,#3a54a4 0px,#3b57a9 29.5px,#3a74c2 33.5px,#41b6e3 37.5px,#54c1cf 39.5px,#60c4c0 40.5px,#71c478 43.5px,#76c04e 46.5px,#a7cf40 61.5px,#91c845 75.5px,#8dc646 94.5px,#a7cf40 110.5px,#90c745 117.5px,#76c04c 125.5px,#6dc488 129.5px,#61c4bb 131.5px,#41b9e5 134.5px,#3a6cbc 139.5px,#3b57a8 143.5px,#3a54a4 172px)"></i><i style="background:linear-gradient(90deg,#3a54a4 0px,#3b5aac 31.5px,#3a71c1 34.5px,#40b5e3 38.5px,#48bede 39.5px,#60c4be 41.5px,#71c373 44.5px,#75c153 46.5px,#85c448 50.5px,#9acb43 53.5px,#c5d83a 58.5px,#d9dd35 66.5px,#d0db37 91.5px,#d8dd35 107.5px,#c0d73b 114.5px,#8ac547 120.5px,#75c050 125.5px,#6fc482 128.5px,#62c4b9 130.5px,#4bbedb 132.5px,#41b8e4 133.5px,#3a74c2 137.5px,#3b57a9 141.5px,#3a54a4 172px)"></i><i style="background:linear-gradient(90deg,#3a54a4 0px,#3b58aa 32.5px,#3a6ebe 35.5px,#40b2e2 39.5px,#47bde0 40.5px,#60c4c0 42.5px,#6ec486 44.5px,#76c04e 47.5px,#93c845 52.5px,#d2db37 57.5px,#ede230 61.5px,#f3e52c 100.5px,#eae230 111.5px,#c0d73b 116.5px,#8ac646 120.5px,#76c04c 124.5px,#6fc480 127.5px,#61c4ba 129.5px,#49bedd 131.5px,#40b5e3 132.5px,#3a70c0 136.5px,#3b57a9 140.5px,#3a54a4 172px)"></i><i style="background:linear-gradient(90deg,#3a54a4 0px,#3b57a9 33.5px,#3a78c5 37.5px,#43bce4 41.5px,#5dc3c3 43.5px,#71c371 46.5px,#76c04d 48.5px,#8cc646 52.5px,#ceda38 56.5px,#ede22f 59.5px,#f7e22a 66.5px,#f8d42a 85.5px,#f7df2a 104.5px,#f0e32e 111.5px,#dcde34 114.5px,#a1cd41 118.5px,#8fc745 119.5px,#77c04c 123.5px,#6ec483 126.5px,#60c4c0 128.5px,#46bde1 130.5px,#3ba0da 132.5px,#3a6dbe 135.5px,#3b57a9 138.5px,#3a54a4 172px)"></i><i style="background:linear-gradient(90deg,#3a54a4 0px,#3b5aac 35.5px,#3a71c1 38.5px,#41b8e4 42.5px,#59c2c9 44.5px,#71c376 47.5px,#76c04f 49.5px,#8fc745 53.5px,#d8dd35 57.5px,#eee32f 59.5px,#f7e32a 63.5px,#f8d22a 68.5px,#f4952a 75.5px,#f1762a 82.5px,#f1782a 90.5px,#f59b2a 97.5px,#f8d42a 104.5px,#f4e52c 110.5px,#e9e131 113.5px,#a7cf40 117.5px,#88c547 119.5px,#76c04c 122.5px,#6dc48b 125.5px,#5cc3c5 127.5px,#42bbe6 129.5px,#3a75c3 133.5px,#3b57a9 137.5px,#3a54a4 172px)"></i><i style="background:linear-gradient(90deg,#3a54a4 0px,#3b57a9 36.5px,#3a6dbd 39.5px,#3fb0e1 43.5px,#46bde1 44.5px,#61c4bd 46.5px,#70c47d 48.5px,#75c155 50.5px,#80c349 52.5px,#8cc646 54.5px,#dbde34 58.5px,#ebe230 59.5px,#f7e22a 63.5px,#f8d42a 66.5px,#ed572a 74.5px,#e73128 81.5px,#e73028 90.5px,#ed552a 97.5px,#f3912a 101.5px,#f8d32a 105.5px,#f3e52c 110.5px,#ede230 112.5px,#a7cf40 116.5px,#91c845 117.5px,#75c051 121.5px,#70c479 123.5px,#62c4b7 125.5px,#49bedd 127.5px,#40b4e3 128.5px,#3a6ebf 132.5px,#3b57a8 136.5px,#3a54a4 172px)"></i><i style="background:linear-gradient(90deg,#3a54a4 0px,#3b5aac 38.5px,#3a71c1 41.5px,#41b8e4 45.5px,#5ac2c8 47.5px,#71c373 50.5px,#76c04c 52.5px,#8ac547 55.5px,#e9e131 60.5px,#f7e62a 63.5px,#f7c92a 67.5px,#ee592a 72.5px,#e62d28 76.5px,#e62a28 93.5px,#e73428 96.5px,#ed562a 99.5px,#f7c52a 104.5px,#f8d42a 105.5px,#f4e52c 109.5px,#ece230 111.5px,#8bc646 116.5px,#78c04c 119.5px,#6dc488 122.5px,#5cc3c5 124.5px,#42bce6 126.5px,#3a75c3 130.5px,#3b57a9 134.5px,#3a54a4 172px)"></i><i style="background:linear-gradient(90deg,#3a54a4 0px,#3b57a9 39.5px,#3a78c5 43.5px,#44bce4 47.5px,#5ec4c2 49.5px,#6ec483 51.5px,#74c158 53.5px,#79c14b 54.5px,#8dc646 57.5px,#e1df33 61.5px,#f1e42d 63.5px,#f7dc2a 66.5px,#f8cb2a 68.5px,#ec522a 73.5px,#e62d28 76.5px,#e62728 91.5px,#e73328 96.5px,#ef602a 99.5px,#f7c62a 103.5px,#f8db2a 105.5px,#f2e42d 108.5px,#e4e032 110.5px,#91c845 114.5px,#7ac14b 117.5px,#75c154 118.5px,#70c47d 120.5px,#61c4bd 122.5px,#46bde1 124.5px,#3ba0da 126.5px,#3a6dbd 129.5px,#3b57a8 133.5px,#3a54a4 172px)"></i><i style="background:linear-gradient(90deg,#3a54a4 0px,#3b58aa 41.5px,#3a6ebe 44.5px,#3fb1e1 48.5px,#47bde0 49.5px,#61c4bd 51.5px,#70c47d 53.5px,#75c155 55.5px,#80c349 57.5px,#90c745 59.5px,#e3e032 63.5px,#f6e62b 66.5px,#f8d52a 69.5px,#f6b02a 71.5px,#ef622a 74.5px,#e73528 77.5px,#e62a28 80.5px,#e62c28 93.5px,#ec4d29 96.5px,#f1772a 98.5px,#f7c32a 101.5px,#f8d42a 102.5px,#f6e62a 105.5px,#e6e131 108.5px,#94c944 112.5px,#75c051 116.5px,#70c479 118.5px,#62c4b7 120.5px,#49bedd 122.5px,#40b4e3 123.5px,#3a70c0 127.5px,#3b57a9 131.5px,#3a54a4 172px)"></i><i style="background:linear-gradient(90deg,#3a54a4 0px,#3b57a9 42.5px,#3a70c0 46.5px,#40b3e2 50.5px,#48bedf 51.5px,#61c4bc 53.5px,#70c47d 55.5px,#75c156 57.5px,#80c349 59.5px,#8dc646 61.5px,#dedf33 65.5px,#ede230 66.5px,#f7e42a 69.5px,#f8d32a 72.5px,#ee572a 78.5px,#e63028 83.5px,#e62f28 88.5px,#ed552a 93.5px,#f8d22a 99.5px,#f5e52b 103.5px,#eee32f 105.5px,#bdd63b 108.5px,#91c845 110.5px,#75c052 114.5px,#70c479 116.5px,#62c4b5 118.5px,#4abedb 120.5px,#41b6e4 121.5px,#3a73c1 125.5px,#3b57a9 129.5px,#3a54a4 172px)"></i><i style="background:linear-gradient(90deg,#3a54a4 0px,#3b57a9 44.5px,#3a71c0 48.5px,#40b3e2 52.5px,#47bde0 53.5px,#60c4bf 55.5px,#6ec483 57.5px,#77c04c 60.5px,#89c547 63.5px,#e2e032 68.5px,#f1e42d 70.5px,#f7e02a 73.5px,#f8d32a 76.5px,#f2842a 82.5px,#f1732a 85.5px,#f17a2a 88.5px,#f6b32a 93.5px,#f8d12a 95.5px,#f5e52b 100.5px,#e5e032 103.5px,#8bc646 108.5px,#79c14b 111.5px,#70c47d 114.5px,#62c4b9 116.5px,#4abedc 118.5px,#41b6e3 119.5px,#3a74c2 123.5px,#3b57a9 127.5px,#3a54a4 172px)"></i><i style="background:linear-gradient(90deg,#3a54a4 0px,#3b57a9 46.5px,#3a70c0 50.5px,#3fb0e1 54.5px,#44bde3 55.5px,#5cc3c5 57.5px,#71c476 60.5px,#75c153 62.5px,#8ac547 66.5px,#e8e131 72.5px,#f7e12a 78.5px,#f8d52a 87.5px,#f1e42d 97.5px,#ebe230 99.5px,#afd13e 103.5px,#8bc646 105.5px,#76c04f 109.5px,#6dc489 112.5px,#5fc4c1 114.5px,#47bde0 116.5px,#3ca4dc 118.5px,#3a73c2 121.5px,#3b57a9 125.5px,#3a54a4 172px)"></i><i style="background:linear-gradient(90deg,#3a54a4 0px,#3b57a9 48.5px,#3a6fbf 52.5px,#41b9e5 57.5px,#61c4bd 60.5px,#71c373 63.5px,#75c152 65.5px,#8ec746 70.5px,#d3dc36 75.5px,#ece230 78.5px,#f1e42d 90.5px,#e8e131 94.5px,#b0d23e 99.5px,#89c547 102.5px,#76c04f 106.5px,#6fc482 109.5px,#62c4b7 111.5px,#42bce6 114.5px,#3a70c0 119.5px,#3b57a8 124.5px,#3a54a4 172px)"></i><i style="background:linear-gradient(90deg,#3a54a4 0px,#3b57a9 50.5px,#3a76c4 55.5px,#43bce5 60.5px,#61c4bb 63.5px,#71c476 66.5px,#76c04c 69.5px,#8fc745 75.5px,#c3d83a 81.5px,#cdda38 87.5px,#b8d43d 92.5px,#8ac646 97.5px,#77c04c 102.5px,#6ec486 106.5px,#5ac2c8 109.5px,#45bde2 111.5px,#3a88ce 115.5px,#3a67b8 118.5px,#3b57a8 122.5px,#3a54a4 172px)"></i><i style="background:linear-gradient(90deg,#3a54a4 0px,#3b58aa 53.5px,#3a6fbf 57.5px,#42bce5 63.5px,#5ec4c2 66.5px,#71c476 70.5px,#76c04c 74.5px,#8ac547 86.5px,#77c04c 97.5px,#6fc482 102.5px,#60c4c0 105.5px,#44bde3 108.5px,#3a8cd0 112.5px,#3a6abb 115.5px,#3b57a9 119.5px,#3a54a4 172px)"></i><i style="background:linear-gradient(90deg,#3a54a4 0px,#3b57a9 55.5px,#3a70c0 60.5px,#41b6e4 66.5px,#55c1cd 69.5px,#70c47a 75.5px,#75c152 82.5px,#76c04f 88.5px,#71c371 95.5px,#6bc493 98.5px,#57c2cb 102.5px,#41b9e5 105.5px,#3a6bbc 112.5px,#3b57a8 117.5px,#3a54a4 172px)"></i><i style="background:linear-gradient(90deg,#3a54a4 0px,#3b57a9 58.5px,#3a78c5 64.5px,#42bce6 71.5px,#64c4b1 78.5px,#6bc492 83.5px,#6bc492 88.5px,#64c4af 93.5px,#43bce4 100.5px,#3a85cc 106.5px,#3a6abb 109.5px,#3b57a9 114.5px,#3a54a4 172px)"></i><i style="background:linear-gradient(90deg,#3a54a4 0px,#3b57a9 61.5px,#3a78c5 68.5px,#3faee0 75.5px,#46bde1 79.5px,#50c0d5 87.5px,#41bae5 94.5px,#3a83cb 102.5px,#3a68b8 106.5px,#3b57a9 111.5px,#3a54a4 172px)"></i><i style="background:linear-gradient(90deg,#3a54a4 0px,#3b58a9 65.5px,#3a7dc7 74.5px,#3b9fda 82.5px,#3b9dd9 90.5px,#3b5cad 105.5px,#3a54a4 145.5px,#3a54a4 172px)"></i><i style="background:linear-gradient(90deg,#3a54a4 0px,#3b59ab 70.5px,#3a76c3 85.5px,#3b5cae 100.5px,#3a54a4 142.5px,#3a54a4 172px)"></i><i style="background:linear-gradient(90deg,#3a54a4 0px,#3b5aab 77.5px,#3b5eaf 91.5px,#3a54a5 118.5px,#3a54a4 172px)"></i><i style="background:linear-gradient(90deg,#3a54a4 0px,#3a54a4 172px)"></i><i style="background:linear-gradient(90deg,#3a54a4 0px,#3a54a4 172px)"></i><i style="background:linear-gradient(90deg,#3a54a4 0px,#3a54a4 172px)"></i><i style="background:linear-gradient(90deg,#3a54a4 0px,#3a54a4 172px)"></i><i style="background:linear-gradient(90deg,#3a54a4 0px,#3a54a4 172px)"></i><i style="background:linear-gradient(90deg,#3a54a4 0px,#3a54a4 172px)"></i><i style="background:linear-gradient(90deg,#3a54a4 0px,#3a54a4 172px)"></i><i style="background:linear-gradient(90deg,#3a54a4 0px,#3a54a4 172px)"></i><i style="background:linear-gradient(90deg,#3a54a4 0px,#3a54a4 172px)"></i><i style="background:linear-gradient(90deg,#3a54a4 0px,#3a54a4 172px)"></i><i style="background:linear-gradient(90deg,#3a54a4 0px,#3a54a4 172px)"></i><i style="background:linear-gradient(90deg,#3a54a4 0px,#3a54a4 172px)"></i></div>
<div class="hm" style="left:267px;top:24px;width:174px;height:212px"><i style="background:linear-gradient(90deg,#77c04c 0px,#72c36b 16.5px,#6dc48a 24.5px,#58c2cb 35.5px,#42bce6 41.5px,#3a80c9 56.5px,#3a78c4 63.5px,#42bce6 70.5px,#65c4ab 76.5px,#71c372 81.5px,#76c04f 86.5px,#70c47c 93.5px,#5bc3c6 99.5px,#41b8e4 103.5px,#3a75c3 110.5px,#3a91d3 122.5px,#44bce4 132.5px,#63c4b3 142.5px,#71c476 153.5px,#76c04c 171.5px,#77c04c 174px)"></i><i style="background:linear-gradient(90deg,#78c04c 0px,#73c265 14.5px,#6dc489 24.5px,#54c1cf 36.5px,#42bce6 41.5px,#3a80c9 55.5px,#3a6ebe 62.5px,#3a8cd0 65.5px,#42bce6 70.5px,#65c4ab 76.5px,#71c372 81.5px,#76c04f 86.5px,#70c47c 93.5px,#5bc3c6 99.5px,#41b9e5 103.5px,#3a6fbf 110.5px,#3a8ed1 122.5px,#44bce4 132.5px,#63c4b2 142.5px,#71c375 153.5px,#77c04c 171.5px,#78c04c 174px)"></i><i style="background:linear-gradient(90deg,#78c04c 0px,#74c25f 12.5px,#6dc487 24.5px,#55c1ce 36.5px,#42bce6 41.5px,#3a83cb 53.5px,#3a72c1 62.5px,#41b8e4 69.5px,#5ec3c2 74.5px,#71c375 81.5px,#74c15a 86.5px,#71c478 92.5px,#56c1cd 100.5px,#43bce5 103.5px,#3a84cc 109.5px,#3a72c1 111.5px,#3a8acf 122.5px,#43bce4 132.5px,#65c4aa 143.5px,#71c374 153.5px,#77c04c 171.5px,#78c14b 174px)"></i><i style="background:linear-gradient(90deg,#8dc646 0px,#77c04c 10.5px,#73c261 13.5px,#6ec486 24.5px,#55c1cd 36.5px,#42bbe6 41.5px,#3a8acf 50.5px,#3a81ca 58.5px,#3a85cc 62.5px,#44bce4 69.5px,#63c4b4 75.5px,#71c477 81.5px,#73c261 86.5px,#70c479 92.5px,#58c2ca 100.5px,#42bbe6 104.5px,#3a84cb 111.5px,#3a84cb 119.5px,#3a9ad8 126.5px,#43bce4 132.5px,#66c4a8 143.5px,#71c477 152.5px,#74c159 161.5px,#78c14b 163.5px,#8ec746 174px)"></i><i style="background:linear-gradient(90deg,#ede22f 0px,#dbde34 4.5px,#a7cf40 9.5px,#8cc646 11.5px,#77c04c 16.5px,#71c371 19.5px,#6ac496 27.5px,#52c0d2 37.5px,#42bbe6 41.5px,#3a91d3 49.5px,#3a8ed1 59.5px,#3ca2db 64.5px,#44bde3 68.5px,#62c4b8 74.5px,#71c476 81.5px,#73c265 87.5px,#6fc47e 93.5px,#57c2cb 101.5px,#42bce6 105.5px,#3a91d3 112.5px,#3a8ed1 120.5px,#3a9bd8 126.5px,#43bce4 132.5px,#65c4ad 142.5px,#71c376 152.5px,#72c36d 154.5px,#79c14b 157.5px,#91c845 162.5px,#ceda38 167.5px,#ede230 172.5px,#eee32f 174px)"></i><i style="background:linear-gradient(90deg,#f8d82a 0px,#f4e52c 6.5px,#eae131 9.5px,#9dcc42 14.5px,#8cc646 15.5px,#77c04c 19.5px,#71c476 22.5px,#57c2cc 36.5px,#42bbe6 41.5px,#3b9dd9 48.5px,#3b9dd9 59.5px,#40b5e3 65.5px,#46bde0 67.5px,#62c4b8 73.5px,#70c478 80.5px,#73c265 87.5px,#6fc481 94.5px,#58c2ca 102.5px,#41b9e5 107.5px,#3b9eda 113.5px,#3a9cd9 124.5px,#41b7e4 131.5px,#62c4b9 140.5px,#72c370 151.5px,#75c051 153.5px,#93c845 158.5px,#e2e032 163.5px,#f0e32e 165.5px,#f7e22a 169.5px,#f8d82a 174px)"></i><i style="background:linear-gradient(90deg,#f5a22a 0px,#f8d32a 4.5px,#f4e52c 9.5px,#ede230 11.5px,#add13f 15.5px,#8ac547 17.5px,#75c051 21.5px,#6fc480 24.5px,#57c2cb 36.5px,#43bce5 41.5px,#3ca4dc 50.5px,#3eade0 60.5px,#43bce5 64.5px,#63c4b3 72.5px,#71c478 79.5px,#73c263 86.5px,#70c479 94.5px,#5bc3c7 103.5px,#42bbe5 109.5px,#3da5dd 117.5px,#3eabdf 127.5px,#45bde3 132.5px,#66c4a8 142.5px,#70c47b 149.5px,#77c04c 152.5px,#8dc646 156.5px,#e7e131 161.5px,#f7e42a 165.5px,#f8d02a 169.5px,#f59e2a 174px)"></i><i style="background:linear-gradient(90deg,#f5a22a 0px,#f8d32a 4.5px,#f4e52c 9.5px,#ede230 11.5px,#add13f 15.5px,#8ac547 17.5px,#75c051 21.5px,#6fc47e 24.5px,#58c2ca 36.5px,#42bae5 43.5px,#3fb0e1 53.5px,#44bde4 61.5px,#61c4bd 69.5px,#70c479 77.5px,#74c15e 86.5px,#71c476 95.5px,#5bc3c6 105.5px,#42bae5 113.5px,#3fb0e1 124.5px,#44bde3 131.5px,#61c4ba 139.5px,#70c47b 149.5px,#77c04c 152.5px,#8dc646 156.5px,#e7e131 161.5px,#f7e42a 165.5px,#f8d02a 169.5px,#f59e2a 174px)"></i><i style="background:linear-gradient(90deg,#f8d82a 0px,#f4e52c 6.5px,#eae131 9.5px,#9dcc42 14.5px,#8cc646 15.5px,#77c04c 19.5px,#71c376 22.5px,#63c4b2 33.5px,#53c1d0 38.5px,#43bce5 48.5px,#4dbfd8 60.5px,#62c4b8 67.5px,#71c478 75.5px,#75c158 85.5px,#73c265 93.5px,#6dc488 100.5px,#5bc3c7 108.5px,#44bde4 119.5px,#48bede 130.5px,#60c4c0 138.5px,#6ec485 147.5px,#72c370 151.5px,#75c051 153.5px,#93c845 158.5px,#e2e032 163.5px,#f0e32e 165.5px,#f7e22a 169.5px,#f8d82a 174px)"></i><i style="background:linear-gradient(90deg,#ede22f 0px,#dbde34 4.5px,#a7cf40 9.5px,#8cc646 11.5px,#77c04c 16.5px,#72c36b 19.5px,#6bc490 28.5px,#5ac2c8 37.5px,#4cbfd9 48.5px,#5ac2c8 60.5px,#64c4ae 65.5px,#71c374 73.5px,#76c050 84.5px,#75c157 92.5px,#6fc481 102.5px,#5ec3c3 111.5px,#4dbfd9 123.5px,#56c1cc 134.5px,#63c4b5 139.5px,#71c476 150.5px,#72c269 154.5px,#79c14b 157.5px,#91c845 162.5px,#ceda38 167.5px,#ede230 172.5px,#eee32f 174px)"></i><i style="background:linear-gradient(90deg,#8dc646 0px,#77c04c 10.5px,#6ec484 26.5px,#5ec3c3 38.5px,#58c2ca 50.5px,#61c4ba 58.5px,#72c36e 71.5px,#76c04c 81.5px,#75c051 94.5px,#6ec485 106.5px,#60c4c0 116.5px,#57c2cb 129.5px,#61c4ba 137.5px,#71c375 150.5px,#7bc14b 164.5px,#8ec746 174px)"></i><i style="background:linear-gradient(90deg,#7cc24a 0px,#75c052 11.5px,#6ec483 26.5px,#62c4b6 39.5px,#62c4b8 49.5px,#6ac496 59.5px,#75c155 73.5px,#7ac14b 80.5px,#76c04f 98.5px,#6cc48e 112.5px,#63c4b5 122.5px,#62c4b9 132.5px,#6ac494 143.5px,#73c260 156.5px,#78c04c 166.5px,#7cc24a 174px)"></i><i style="background:linear-gradient(90deg,#7dc24a 0px,#75c153 12.5px,#68c4a0 38.5px,#68c49c 48.5px,#77c04c 72.5px,#7fc24a 92.5px,#75c051 103.5px,#68c49d 125.5px,#68c49f 135.5px,#77c04c 164.5px,#7dc24a 174px)"></i><i style="background:linear-gradient(90deg,#7ec24a 0px,#75c153 12.5px,#6ec484 34.5px,#6ec484 45.5px,#75c156 63.5px,#7ac14b 69.5px,#85c448 91.5px,#75c050 108.5px,#6fc47e 125.5px,#6dc487 136.5px,#74c25f 156.5px,#78c14b 166.5px,#7ec24a 174px)"></i><i style="background:linear-gradient(90deg,#7ec24a 0px,#75c152 12.5px,#71c372 30.5px,#72c36b 47.5px,#78c14b 62.5px,#8cc646 88.5px,#76c04f 114.5px,#71c371 131.5px,#72c36a 149.5px,#78c14b 166.5px,#7ec24a 174px)"></i><i style="background:linear-gradient(90deg,#7dc24a 0px,#75c052 14.5px,#73c264 32.5px,#75c152 49.5px,#9acb43 83.5px,#a5ce41 87.5px,#94c944 95.5px,#75c153 124.5px,#73c264 142.5px,#76c04f 160.5px,#7dc24a 174px)"></i><i style="background:linear-gradient(90deg,#7ec24a 0px,#75c051 33.5px,#8cc646 67.5px,#98ca43 71.5px,#a7cf40 74.5px,#b0d23e 88.5px,#a5ce41 100.5px,#8fc745 104.5px,#76c04e 136.5px,#75c051 152.5px,#7ec24a 174px)"></i><i style="background:linear-gradient(90deg,#80c349 0px,#7cc24a 36.5px,#90c745 62.5px,#a3cd41 66.5px,#b2d23e 72.5px,#bdd63b 78.5px,#b9d53c 99.5px,#a5ce41 105.5px,#99ca43 109.5px,#8bc646 114.5px,#79c14b 150.5px,#81c349 174px)"></i><i style="background:linear-gradient(90deg,#84c448 0px,#83c448 36.5px,#91c845 55.5px,#a4ce41 59.5px,#afd13f 64.5px,#cada38 79.5px,#c5d83a 99.5px,#b2d23e 108.5px,#a5ce41 113.5px,#9bcb43 116.5px,#8cc646 120.5px,#7fc349 157.5px,#84c448 174px)"></i><i style="background:linear-gradient(90deg,#89c547 0px,#8ac646 35.5px,#90c745 45.5px,#a2cd41 49.5px,#abd03f 56.5px,#bbd53c 60.5px,#c2d73a 65.5px,#d7dd35 81.5px,#d2db37 99.5px,#b5d33d 115.5px,#a6ce41 119.5px,#a0cc42 125.5px,#8dc646 129.5px,#87c547 164.5px,#89c547 174px)"></i><i style="background:linear-gradient(90deg,#93c844 0px,#8fc745 30.5px,#a4ce41 35.5px,#a9cf40 46.5px,#bbd53c 51.5px,#c5d83a 58.5px,#e4e032 81.5px,#dbde34 101.5px,#c3d83a 115.5px,#b3d23e 125.5px,#a6ce40 129.5px,#a2cd41 139.5px,#90c745 142.5px,#92c845 169.5px,#93c844 174px)"></i><i style="background:linear-gradient(90deg,#aad040 0px,#aad03f 32.5px,#bdd63c 36.5px,#bfd63b 47.5px,#ceda38 52.5px,#ede230 79.5px,#e6e032 104.5px,#c8d939 124.5px,#bed63b 128.5px,#bad53c 138.5px,#a8cf40 142.5px,#aad040 174px)"></i><i style="background:linear-gradient(90deg,#bfd63b 0px,#c1d73b 33.5px,#d2db37 38.5px,#dbde34 49.5px,#eee32f 69.5px,#e9e131 113.5px,#d3dc36 131.5px,#cbda38 138.5px,#c0d73b 142.5px,#bfd63b 174px)"></i><i style="background:linear-gradient(90deg,#cedb37 0px,#d9dd35 33.5px,#e6e032 42.5px,#f2e42c 96.5px,#e3e032 136.5px,#d4dc36 146.5px,#ceda38 174px)"></i><i style="background:linear-gradient(90deg,#ddde34 0px,#f5e52b 71.5px,#e9e131 143.5px,#ddde34 174px)"></i><i style="background:linear-gradient(90deg,#ece230 0px,#f6e62a 112.5px,#ece230 174px)"></i><i style="background:linear-gradient(90deg,#f0e32e 0px,#f7e22a 117.5px,#f0e32e 174px)"></i><i style="background:linear-gradient(90deg,#f3e52c 0px,#f8db2a 114.5px,#f3e52c 174px)"></i><i style="background:linear-gradient(90deg,#f7e62a 0px,#f8d62a 50.5px,#f8db2a 143.5px,#f7e62a 174px)"></i><i style="background:linear-gradient(90deg,#f7e02a 0px,#f8d42a 27.5px,#f8cd2a 33.5px,#f7c92a 50.5px,#f8ca2a 139.5px,#f8d52a 144.5px,#f7de2a 170.5px,#f7e02a 174px)"></i><i style="background:linear-gradient(90deg,#f8da2a 0px,#f8d02a 11.5px,#f7c32a 16.5px,#f7c22a 32.5px,#f6b22a 36.5px,#f6b42a 138.5px,#f7c22a 142.5px,#f7c72a 160.5px,#f8d42a 164.5px,#f8da2a 174px)"></i><i style="background:linear-gradient(90deg,#f8d52a 0px,#f8ca2a 7.5px,#f6ae2a 15.5px,#f5a12a 34.5px,#f59d2a 65.5px,#f59f2a 138.5px,#f6ac2a 152.5px,#f6b62a 161.5px,#f8d32a 169.5px,#f8d52a 174px)"></i><i style="background:linear-gradient(90deg,#f7c92a 0px,#f4942a 16.5px,#f38f2a 26.5px,#f27f2a 42.5px,#f2842a 139.5px,#f4942a 153.5px,#f59d2a 160.5px,#f8ca2a 174px)"></i><i style="background:linear-gradient(90deg,#f6b72a 0px,#f4992a 9.5px,#f17b2a 15.5px,#f1742a 26.5px,#ef672a 29.5px,#ef682a 145.5px,#f17a2a 149.5px,#f27f2a 159.5px,#f6ab2a 168.5px,#f6b82a 174px)"></i><i style="background:linear-gradient(90deg,#f5a82a 0px,#f38a2a 8.5px,#ef632a 15.5px,#ee5e2a 26.5px,#ed522a 31.5px,#ed562a 145.5px,#ef632a 151.5px,#ef692a 159.5px,#f5a22a 170.5px,#f6a92a 174px)"></i><i style="background:linear-gradient(90deg,#f49b2a 0px,#f1752a 9.5px,#ee5d2a 13.5px,#ec502a 22.5px,#ea4329 36.5px,#eb4a29 83.5px,#eb4629 144.5px,#ee5b2a 159.5px,#ef682a 162.5px,#f38f2a 169.5px,#f59c2a 174px)"></i><i style="background:linear-gradient(90deg,#f3902a 0px,#f06b2a 9.5px,#ed562a 13.5px,#e93e29 24.5px,#e83728 39.5px,#ea4129 78.5px,#e93f29 89.5px,#e93c29 125.5px,#e83829 144.5px,#ec4d29 157.5px,#ef602a 162.5px,#f3882a 170.5px,#f3912a 174px)"></i><i style="background:linear-gradient(90deg,#f38a2a 0px,#ef612a 10.5px,#e73528 21.5px,#e62d28 39.5px,#e83929 76.5px,#e83628 90.5px,#e73328 123.5px,#e63028 148.5px,#eb4629 157.5px,#f2852a 171.5px,#f38b2a 174px)"></i><i style="background:linear-gradient(90deg,#f38a2a 0px,#ef622a 10.5px,#e62e28 20.5px,#e62c28 130.5px,#e62f28 153.5px,#f17a2a 168.5px,#f38b2a 174px)"></i><i style="background:linear-gradient(90deg,#f38b2a 0px,#ef632a 10.5px,#e62d28 19.5px,#e62e28 154.5px,#f1742a 166.5px,#f38c2a 174px)"></i><i style="background:linear-gradient(90deg,#f38b2a 0px,#ef612a 10.5px,#e62d28 19.5px,#e62c28 153.5px,#f27f2a 169.5px,#f38c2a 174px)"></i><i style="background:linear-gradient(90deg,#f38e2a 0px,#ef602a 10.5px,#e62c28 20.5px,#e62b28 152.5px,#ea4129 157.5px,#f3892a 171.5px,#f38f2a 174px)"></i><i style="background:linear-gradient(90deg,#f4932a 0px,#ef672a 9.5px,#e62d28 20.5px,#e62928 60.5px,#e62b28 151.5px,#e83828 155.5px,#f4912a 172.5px,#f4942a 174px)"></i><i style="background:linear-gradient(90deg,#f59b2a 0px,#f0722a 8.5px,#ed522a 13.5px,#e62d28 21.5px,#e62828 55.5px,#e62b28 149.5px,#e73128 153.5px,#ef642a 163.5px,#f3912a 170.5px,#f59c2a 174px)"></i><i style="background:linear-gradient(90deg,#f5a42a 0px,#f2802a 7.5px,#ee592a 12.5px,#e62c28 23.5px,#e62728 56.5px,#e62a28 147.5px,#e73128 152.5px,#ef682a 163.5px,#f49b2a 170.5px,#f5a52a 174px)"></i><i style="background:linear-gradient(90deg,#f6ae2a 0px,#f4922a 6.5px,#ee592a 13.5px,#e62c28 24.5px,#e62728 55.5px,#e62a28 145.5px,#e73328 151.5px,#ef622a 161.5px,#f5a12a 169.5px,#f6af2a 174px)"></i><i style="background:linear-gradient(90deg,#f7ba2a 0px,#f4982a 7.5px,#ed572a 15.5px,#e62c28 25.5px,#e62628 59.5px,#e62a28 144.5px,#e73528 150.5px,#ef662a 160.5px,#f5a72a 168.5px,#f7bb2a 174px)"></i><i style="background:linear-gradient(90deg,#f7c72a 0px,#f5a02a 8.5px,#ef5f2a 15.5px,#e62c28 27.5px,#e62628 68.5px,#e62a28 143.5px,#e73228 148.5px,#f06a2a 159.5px,#f6a82a 166.5px,#f7c92a 174px)"></i><i style="background:linear-gradient(90deg,#f8d32a 0px,#f6b42a 7.5px,#f2832a 13.5px,#ee592a 18.5px,#e62d28 28.5px,#e62528 73.5px,#e62b28 142.5px,#e73528 147.5px,#f06a2a 157.5px,#f6b02a 165.5px,#f8d32a 172.5px,#f8d42a 174px)"></i><i style="background:linear-gradient(90deg,#f8d72a 0px,#f8cb2a 6.5px,#f38f2a 14.5px,#ee5b2a 20.5px,#e62c28 30.5px,#e62528 83.5px,#e62b28 141.5px,#e83929 146.5px,#f06c2a 155.5px,#f6b32a 163.5px,#f8d32a 169.5px,#f8d82a 174px)"></i><i style="background:linear-gradient(90deg,#f8dc2a 0px,#f8d02a 8.5px,#f3892a 17.5px,#ed552a 23.5px,#e62c28 32.5px,#e62528 89.5px,#e62d28 141.5px,#ef652a 152.5px,#f6b02a 160.5px,#f8d42a 166.5px,#f7dc2a 174px)"></i><i style="background:linear-gradient(90deg,#f7e12a 0px,#f8d02a 11.5px,#f38d2a 19.5px,#ee582a 24.5px,#e62c28 34.5px,#e62528 92.5px,#e62d28 139.5px,#ee5c2a 149.5px,#f6ad2a 157.5px,#f8d42a 163.5px,#f7e22a 174px)"></i><i style="background:linear-gradient(90deg,#f7e52a 0px,#f8cf2a 14.5px,#f3912a 21.5px,#ee572a 26.5px,#e62c28 36.5px,#e62528 93.5px,#e62d28 137.5px,#ee5b2a 147.5px,#f6a92a 154.5px,#f8d22a 159.5px,#f7e62a 174px)"></i><i style="background:linear-gradient(90deg,#f5e52b 0px,#f8d72a 14.5px,#f8cd2a 17.5px,#f4932a 23.5px,#ef612a 27.5px,#e62e28 37.5px,#e62528 80.5px,#e62c28 134.5px,#ed542a 144.5px,#f0712a 147.5px,#f6ad2a 152.5px,#f8d42a 157.5px,#f5e52b 172.5px,#f5e52b 174px)"></i><i style="background:linear-gradient(90deg,#f1e42d 0px,#f7df2a 13.5px,#f8d22a 19.5px,#f4962a 25.5px,#ee5d2a 29.5px,#e62d28 40.5px,#e62528 83.5px,#e62c28 131.5px,#eb4b29 140.5px,#ef612a 144.5px,#f5a72a 149.5px,#f8d32a 154.5px,#f6e52b 166.5px,#f1e42d 174px)"></i><i style="background:linear-gradient(90deg,#ede230 0px,#f7e22a 14.5px,#f8cf2a 22.5px,#f4982a 27.5px,#ef682a 30.5px,#eb4a29 35.5px,#e62c28 46.5px,#e62528 86.5px,#e62c28 126.5px,#eb4729 137.5px,#ef622a 142.5px,#f17b2a 144.5px,#f6aa2a 147.5px,#f8d22a 151.5px,#f5e52b 163.5px,#ece230 174px)"></i><i style="background:linear-gradient(90deg,#dcde34 0px,#eee32f 6.5px,#f7e02a 18.5px,#f8d32a 24.5px,#f4982a 29.5px,#f06c2a 32.5px,#ec4f2a 36.5px,#e62c28 50.5px,#e62628 87.5px,#e62b28 122.5px,#ec512a 137.5px,#f06e2a 141.5px,#f6b82a 146.5px,#f8d42a 149.5px,#f5e52b 159.5px,#e6e131 170.5px,#dade34 174px)"></i><i style="background:linear-gradient(90deg,#c9d939 0px,#ede22f 9.5px,#f7e32a 20.5px,#f8cf2a 27.5px,#f2842a 33.5px,#ee592a 36.5px,#eb4a29 43.5px,#e62b28 53.5px,#e62628 89.5px,#e62b28 120.5px,#e93d29 125.5px,#ed562a 136.5px,#f17a2a 139.5px,#f8d22a 146.5px,#f5e52b 156.5px,#e6e032 166.5px,#c5d83a 174px)"></i><i style="background:linear-gradient(90deg,#b9d43c 0px,#eee32f 14.5px,#f7e02a 24.5px,#f8d32a 29.5px,#f49b2a 34.5px,#f0692a 37.5px,#ed572a 39.5px,#ee582a 45.5px,#e62c28 54.5px,#e62628 79.5px,#e62a28 117.5px,#e83628 121.5px,#ee592a 128.5px,#ee582a 134.5px,#f06d2a 136.5px,#f6ad2a 140.5px,#f8d42a 144.5px,#f5e52b 153.5px,#e5e032 162.5px,#b6d33d 174px)"></i><i style="background:linear-gradient(90deg,#a8cf40 0px,#add13f 3.5px,#bfd63b 6.5px,#ede22f 17.5px,#f7e22a 26.5px,#f8d32a 32.5px,#f4912a 37.5px,#f06d2a 39.5px,#ee5f2a 40.5px,#f1782a 43.5px,#f06a2a 47.5px,#e62d28 55.5px,#e62628 76.5px,#e62a28 115.5px,#e83728 119.5px,#f1772a 128.5px,#f0702a 131.5px,#ef5f2a 132.5px,#f0712a 134.5px,#f5a82a 137.5px,#f8d42a 141.5px,#f4e52b 150.5px,#e5e032 158.5px,#bbd53c 168.5px,#aad040 171.5px,#a7cf40 174px)"></i><i style="background:linear-gradient(90deg,#90c745 0px,#acd03f 7.5px,#bed63b 10.5px,#d0db37 14.5px,#eee32f 21.5px,#f7e02a 30.5px,#f8d32a 35.5px,#f59e2a 39.5px,#f2872a 40.5px,#f59e2a 43.5px,#f38d2a 47.5px,#e73228 56.5px,#e62528 67.5px,#e62a28 114.5px,#e62d28 116.5px,#f0722a 123.5px,#f59c2a 128.5px,#f4962a 131.5px,#f2852a 132.5px,#f8cc2a 137.5px,#f5e52b 146.5px,#e8e131 154.5px,#bfd63b 162.5px,#bbd53c 164.5px,#a9cf40 167.5px,#8fc745 174px)"></i><i style="background:linear-gradient(90deg,#87c547 0px,#95c944 6.5px,#ede32f 24.5px,#f7e12a 33.5px,#f8d32a 38.5px,#f7c02a 40.5px,#f7ba2a 45.5px,#f59e2a 49.5px,#ec4d29 55.5px,#e62e28 58.5px,#e62528 73.5px,#e62828 94.5px,#e62a28 112.5px,#e73228 115.5px,#f06b2a 120.5px,#f5a22a 124.5px,#f7be2a 129.5px,#f7c42a 133.5px,#f8d72a 136.5px,#f5e52b 143.5px,#e5e032 151.5px,#a9cf40 163.5px,#8ac547 170.5px,#87c547 174px)"></i><i style="background:linear-gradient(90deg,#81c349 0px,#95c944 10.5px,#bfd63b 18.5px,#ede32f 28.5px,#f7e32a 36.5px,#f8ce2a 47.5px,#f4992a 52.5px,#eb4a29 57.5px,#e62c28 60.5px,#e62628 75.5px,#e73228 87.5px,#e62528 106.5px,#e62d28 113.5px,#ee5a2a 117.5px,#f6ab2a 122.5px,#f8d12a 126.5px,#f4e52c 140.5px,#e7e131 147.5px,#b1d23e 157.5px,#89c547 166.5px,#80c349 174px)"></i><i style="background:linear-gradient(90deg,#7ac14b 0px,#90c745 13.5px,#b7d43d 20.5px,#ede22f 32.5px,#f7e12a 42.5px,#f8d12a 50.5px,#f59b2a 54.5px,#ec502a 58.5px,#e62d28 61.5px,#e62628 75.5px,#e62d28 81.5px,#ea4629 86.5px,#e62a28 94.5px,#e62828 109.5px,#e62f28 112.5px,#ef672a 116.5px,#f6b02a 120.5px,#f8d32a 123.5px,#f4e52c 136.5px,#e3e032 143.5px,#bcd53c 152.5px,#a9cf40 155.5px,#89c547 162.5px,#7ac14b 174px)"></i><i style="background:linear-gradient(90deg,#75c152 0px,#90c745 17.5px,#c0d73b 26.5px,#ceda38 30.5px,#eee32f 37.5px,#f7e22a 47.5px,#f8d32a 52.5px,#f4982a 56.5px,#ed562a 59.5px,#e62d28 62.5px,#e62628 74.5px,#e62f28 80.5px,#ec4e29 83.5px,#ed542a 87.5px,#ec4d29 90.5px,#e62d28 93.5px,#e62728 107.5px,#e73128 111.5px,#ee5d2a 114.5px,#f5a12a 117.5px,#f8cf2a 120.5px,#f5e52b 129.5px,#eae230 137.5px,#c3d83a 145.5px,#b6d43d 149.5px,#8bc646 157.5px,#75c050 172.5px,#75c154 174px)"></i><i style="background:linear-gradient(90deg,#73c266 0px,#79c14b 8.5px,#92c845 21.5px,#a8cf40 25.5px,#b2d23e 29.5px,#c4d83a 33.5px,#c8d939 35.5px,#e3e032 39.5px,#f4e52b 47.5px,#f8d82a 53.5px,#f7c92a 55.5px,#f38f2a 58.5px,#ee5c2a 60.5px,#e62d28 63.5px,#e62628 74.5px,#e62e28 79.5px,#ee572a 82.5px,#f06d2a 86.5px,#ed542a 91.5px,#e62c28 94.5px,#e62728 106.5px,#e73228 110.5px,#ef662a 113.5px,#f6ad2a 116.5px,#f8d02a 118.5px,#f5e52b 125.5px,#e6e032 133.5px,#c5d83a 139.5px,#b7d43d 143.5px,#9ecc42 150.5px,#89c547 154.5px,#76c04f 167.5px,#73c268 174px)"></i><i style="background:linear-gradient(90deg,#70c47a 0px,#78c14b 12.5px,#97ca44 27.5px,#a9cf40 31.5px,#aed13f 35.5px,#c4d83a 38.5px,#d1db37 41.5px,#ede22f 46.5px,#f7e42a 52.5px,#f8d32a 56.5px,#f59b2a 59.5px,#ef622a 61.5px,#e62d28 64.5px,#e62628 74.5px,#e62c28 78.5px,#ee572a 81.5px,#f2862a 86.5px,#ed542a 92.5px,#e73328 94.5px,#e62528 100.5px,#e62c28 108.5px,#ea4329 110.5px,#f06d2a 112.5px,#f6b92a 115.5px,#f8cd2a 116.5px,#f5e52b 122.5px,#e7e131 128.5px,#c5d83a 134.5px,#bfd63b 136.5px,#add13f 138.5px,#a0cc42 144.5px,#87c547 152.5px,#75c050 163.5px,#70c47c 174px)"></i><i style="background:linear-gradient(90deg,#69c49a 0px,#72c36b 8.5px,#79c14b 16.5px,#98ca43 33.5px,#bbd53c 41.5px,#d0db37 45.5px,#efe32e 50.5px,#f7e02a 55.5px,#f8d12a 58.5px,#f5a42a 60.5px,#ec4e29 63.5px,#e62d28 65.5px,#e62628 74.5px,#e73128 78.5px,#ed572a 80.5px,#f2802a 84.5px,#f59f2a 86.5px,#ee5c2a 92.5px,#ed532a 93.5px,#e62c28 95.5px,#e62728 105.5px,#e73128 108.5px,#ed562a 110.5px,#f6ad2a 113.5px,#f8d42a 115.5px,#f4e52b 120.5px,#e4e032 125.5px,#c6d83a 129.5px,#abd03f 135.5px,#89c547 146.5px,#75c051 159.5px,#6cc48e 171.5px,#68c49d 174px)"></i><i style="background:linear-gradient(90deg,#61c4ba 0px,#71c375 10.5px,#77c04c 19.5px,#92c845 36.5px,#bbd53c 45.5px,#e0df33 50.5px,#f3e42c 54.5px,#f7df2a 57.5px,#f8d42a 59.5px,#f6ab2a 61.5px,#ec4e29 64.5px,#e62c28 66.5px,#e62728 75.5px,#e62b28 77.5px,#e83728 78.5px,#ec512a 79.5px,#f38f2a 84.5px,#f6ae2a 86.5px,#f4992a 88.5px,#ef622a 92.5px,#ee5b2a 93.5px,#e62e28 95.5px,#e62528 103.5px,#e62f28 107.5px,#ed572a 109.5px,#f6b52a 112.5px,#f8ce2a 113.5px,#f7e62a 117.5px,#e5e032 122.5px,#b0d23e 129.5px,#8ac547 140.5px,#76c04f 155.5px,#6bc490 167.5px,#60c4c0 174px)"></i><i style="background:linear-gradient(90deg,#59c2c9 0px,#61c4bb 4.5px,#72c36b 16.5px,#78c04c 23.5px,#92c845 40.5px,#c5d83a 50.5px,#ede22f 54.5px,#f7e32a 58.5px,#f8cc2a 61.5px,#f38f2a 63.5px,#ec4c29 65.5px,#e83728 66.5px,#e62928 68.5px,#e62928 76.5px,#e62c28 77.5px,#ef622a 80.5px,#f7bb2a 86.5px,#f5a62a 88.5px,#eb4b29 94.5px,#e73328 95.5px,#e62528 99.5px,#e62d28 106.5px,#ed562a 108.5px,#f59e2a 110.5px,#f8d32a 112.5px,#f4e52c 116.5px,#ece230 119.5px,#c4d83a 123.5px,#8bc646 134.5px,#76c04e 151.5px,#69c499 164.5px,#5dc3c4 170.5px,#57c2cb 174px)"></i><i style="background:linear-gradient(90deg,#4dbfd8 0px,#51c0d3 3.5px,#5cc3c5 6.5px,#69c49a 13.5px,#72c36e 19.5px,#78c04c 27.5px,#93c844 44.5px,#c3d83a 52.5px,#ede230 56.5px,#f7e62a 59.5px,#f8d22a 62.5px,#f38f2a 64.5px,#ef662a 65.5px,#e73228 67.5px,#e62528 72.5px,#e62c28 77.5px,#ee572a 79.5px,#f7c72a 86.5px,#f6b12a 88.5px,#ed532a 94.5px,#e83a29 95.5px,#e62b28 96.5px,#e62728 103.5px,#e62c28 105.5px,#ed532a 107.5px,#f5a02a 109.5px,#f8d52a 111.5px,#f5e52b 114.5px,#dfdf33 118.5px,#b0d23e 123.5px,#8ac646 131.5px,#76c04e 147.5px,#6ec483 157.5px,#64c4af 163.5px,#5dc3c4 166.5px,#54c1cf 169.5px,#4dbfd9 174px)"></i><i style="background:linear-gradient(90deg,#40b4e3 0px,#44bde3 3.5px,#5cc3c5 10.5px,#61c4ba 13.5px,#71c476 21.5px,#77c04c 31.5px,#92c845 47.5px,#c6d939 55.5px,#ede22f 58.5px,#f7e22a 61.5px,#f8d32a 63.5px,#f38d2a 65.5px,#ef612a 66.5px,#e62d28 68.5px,#e62728 75.5px,#e62d28 77.5px,#ec4e29 78.5px,#f38f2a 82.5px,#f8d22a 86.5px,#f8cc2a 87.5px,#ef642a 93.5px,#ee5b2a 94.5px,#e62b28 96.5px,#e62628 102.5px,#e62b28 104.5px,#e73528 105.5px,#ec4e29 106.5px,#f7c12a 109.5px,#f8d62a 110.5px,#f7e62a 112.5px,#eae131 115.5px,#c4d83a 118.5px,#8bc646 127.5px,#76c04e 143.5px,#6dc487 154.5px,#60c4c0 160.5px,#5ac2c7 164.5px,#43bce5 170.5px,#40b3e2 174px)"></i><i style="background:linear-gradient(90deg,#3ba0db 0px,#43bce5 7.5px,#61c4bc 16.5px,#71c375 25.5px,#77c04c 35.5px,#8dc646 49.5px,#add13f 54.5px,#c5d83a 57.5px,#efe32f 60.5px,#f7e42a 62.5px,#f8d32a 64.5px,#f3872a 66.5px,#ee592a 67.5px,#e93d29 68.5px,#e62c28 69.5px,#e62628 75.5px,#e62d28 77.5px,#ec4e29 78.5px,#f8cd2a 85.5px,#f8d32a 87.5px,#f38e2a 91.5px,#ee5d2a 94.5px,#e93e29 95.5px,#e62b28 96.5px,#e62728 102.5px,#e62e28 104.5px,#f06a2a 106.5px,#f49b2a 107.5px,#f7c12a 108.5px,#f8d62a 109.5px,#f6e62a 111.5px,#ede230 113.5px,#c2d73a 116.5px,#acd03f 119.5px,#8ac547 125.5px,#76c04f 139.5px,#6ec484 150.5px,#5cc3c5 158.5px,#42bbe6 166.5px,#3b9fda 174px)"></i><i style="background:linear-gradient(90deg,#3a8bd0 0px,#42bce6 11.5px,#61c4be 19.5px,#71c373 29.5px,#77c04c 39.5px,#90c745 52.5px,#bdd63c 58.5px,#dadd35 60.5px,#ede22f 61.5px,#f7e52a 63.5px,#f8d32a 65.5px,#f6ae2a 66.5px,#ec512a 68.5px,#e73428 69.5px,#e62628 72.5px,#e62c28 77.5px,#ec4d29 78.5px,#f8d42a 85.5px,#f8d62a 87.5px,#f8d12a 88.5px,#f06b2a 93.5px,#ee5d2a 94.5px,#e93c29 95.5px,#e62a28 96.5px,#e62928 102.5px,#e62c28 103.5px,#e93f29 104.5px,#ef602a 105.5px,#f7be2a 107.5px,#f8d72a 108.5px,#f5e52b 110.5px,#e8e131 112.5px,#d0db37 113.5px,#afd13e 116.5px,#8ac646 122.5px,#76c04f 135.5px,#6fc481 146.5px,#5cc3c5 155.5px,#42bae5 162.5px,#3a8acf 174px)"></i><i style="background:linear-gradient(90deg,#3a78c4 0px,#40b3e2 13.5px,#48bedf 15.5px,#5cc3c5 21.5px,#63c4b3 24.5px,#71c477 32.5px,#78c04c 43.5px,#8cc646 54.5px,#bfd73b 60.5px,#ece230 62.5px,#f7e62a 64.5px,#f8d22a 66.5px,#f5a82a 67.5px,#f0712a 68.5px,#eb4729 69.5px,#e62c28 70.5px,#e62528 75.5px,#e62c28 77.5px,#eb4b29 78.5px,#f38a2a 81.5px,#f8ce2a 84.5px,#f8dc2a 86.5px,#f8d42a 88.5px,#f49a2a 91.5px,#ef662a 93.5px,#ee5c2a 94.5px,#e83929 95.5px,#e62a28 96.5px,#e62728 101.5px,#e73528 103.5px,#ed542a 104.5px,#f6b92a 106.5px,#f8d62a 107.5px,#f5e52b 109.5px,#e4e032 111.5px,#b9d43c 113.5px,#8bc646 119.5px,#75c052 132.5px,#6ec485 143.5px,#5cc3c5 151.5px,#4bbeda 157.5px,#41b7e4 159.5px,#3a79c5 172.5px,#3a76c4 174px)"></i><i style="background:linear-gradient(90deg,#3a6bbc 0px,#3a82ca 8.5px,#41b7e4 17.5px,#60c4be 26.5px,#71c476 36.5px,#77c04c 46.5px,#8bc646 56.5px,#bed63b 61.5px,#e8e131 63.5px,#f6e62a 65.5px,#f8cc2a 67.5px,#f59d2a 68.5px,#ef602a 69.5px,#e83b29 70.5px,#e62b28 71.5px,#e62728 76.5px,#e62a28 77.5px,#f06e2a 80.5px,#f7bf2a 83.5px,#f8d32a 84.5px,#f7df2a 86.5px,#f8ce2a 89.5px,#f2802a 92.5px,#ef632a 93.5px,#ec512a 94.5px,#e73028 95.5px,#e62528 99.5px,#e62c28 102.5px,#eb4829 103.5px,#f6b02a 105.5px,#f8d52a 106.5px,#f4e52c 108.5px,#e0df33 110.5px,#b8d43d 112.5px,#8ac646 117.5px,#76c04f 128.5px,#6dc48a 140.5px,#5cc3c5 148.5px,#43bce5 155.5px,#3a7cc7 166.5px,#3a6bbb 174px)"></i><i style="background:linear-gradient(90deg,#3a64b5 0px,#3a75c3 10.5px,#41b7e4 21.5px,#62c4b6 30.5px,#71c370 41.5px,#77c04c 49.5px,#8cc646 58.5px,#c8d939 63.5px,#f0e32e 65.5px,#f7e62a 66.5px,#f8da2a 67.5px,#f7c22a 68.5px,#ec502a 70.5px,#e62d28 71.5px,#e62628 76.5px,#e73228 78.5px,#f7c62a 83.5px,#f7dc2a 85.5px,#f7e02a 87.5px,#f8d32a 89.5px,#f5a22a 91.5px,#e62c28 95.5px,#e62728 100.5px,#e62a28 101.5px,#e83a29 102.5px,#ef632a 103.5px,#f5a42a 104.5px,#f8d32a 105.5px,#f4e52c 107.5px,#ede22f 108.5px,#d3dc36 109.5px,#a9cf40 112.5px,#8bc646 115.5px,#76c04f 125.5px,#6bc48f 137.5px,#5cc3c5 145.5px,#43bce5 151.5px,#3a73c2 163.5px,#3a64b5 174px)"></i><i style="background:linear-gradient(90deg,#3b5eb0 0px,#3a72c1 14.5px,#40b5e3 24.5px,#4ebfd7 27.5px,#64c4ae 35.5px,#72c36d 45.5px,#78c04c 52.5px,#8fc745 60.5px,#c2d73a 64.5px,#f0e32e 66.5px,#f7e52a 67.5px,#f8d82a 68.5px,#f6b42a 69.5px,#f0732a 70.5px,#e94029 71.5px,#e62b28 72.5px,#e62828 77.5px,#e62d28 78.5px,#f6b12a 82.5px,#f8cd2a 83.5px,#f7e62a 86.5px,#f8d52a 89.5px,#f5a62a 91.5px,#e93f29 94.5px,#e62b28 95.5px,#e62828 100.5px,#e62d28 101.5px,#ec502a 102.5px,#f8ca2a 104.5px,#f7dd2a 105.5px,#f5e52b 106.5px,#ede22f 107.5px,#bad53c 109.5px,#8cc646 113.5px,#76c04f 122.5px,#6ac495 134.5px,#5bc3c6 142.5px,#49bedd 147.5px,#42bbe6 148.5px,#3a70c0 159.5px,#3b5eaf 174px)"></i><i style="background:linear-gradient(90deg,#3a6fbf 0px,#3b5cad 4.5px,#3a70c0 18.5px,#40b3e2 27.5px,#49bedd 29.5px,#5bc3c7 34.5px,#66c4a5 40.5px,#72c36e 48.5px,#79c14b 55.5px,#8bc646 61.5px,#c2d73a 65.5px,#dfdf33 66.5px,#f1e42d 67.5px,#f7e32a 68.5px,#f8d52a 69.5px,#f5a22a 70.5px,#ee582a 71.5px,#e62e28 72.5px,#e62528 76.5px,#e62c28 78.5px,#f8d22a 83.5px,#f5e52b 86.5px,#f7df2a 88.5px,#f7c72a 90.5px,#ef642a 93.5px,#e83b29 94.5px,#e62a28 95.5px,#e62628 99.5px,#e62a28 100.5px,#e93e29 101.5px,#f1742a 102.5px,#f7b92a 103.5px,#f8da2a 104.5px,#f6e52b 105.5px,#eee32f 106.5px,#bad53c 108.5px,#90c745 111.5px,#75c153 120.5px,#6bc491 130.5px,#5bc3c6 138.5px,#59c2c9 140.5px,#41b9e5 145.5px,#3a73c2 154.5px,#3b5cae 167.5px,#3b61b2 170.5px,#3a74c2 174px)"></i><i style="background:linear-gradient(90deg,#60c4bf 0px,#46bde1 3.5px,#3ea9de 5.5px,#3a70c0 9.5px,#3b5bad 12.5px,#3a74c3 23.5px,#40b4e3 31.5px,#4abedc 33.5px,#5bc3c6 38.5px,#64c4af 42.5px,#73c262 53.5px,#78c14b 57.5px,#93c845 63.5px,#c2d73a 66.5px,#e1df33 67.5px,#f2e42d 68.5px,#f7e02a 69.5px,#f8cb2a 70.5px,#ea4429 72.5px,#e62a28 73.5px,#e62728 77.5px,#e62b28 78.5px,#f6b72a 82.5px,#f8d42a 83.5px,#f7e62a 85.5px,#f7e22a 88.5px,#f8cc2a 90.5px,#ef632a 93.5px,#e83728 94.5px,#e62928 95.5px,#e62828 99.5px,#e62d28 100.5px,#ed562a 101.5px,#f5a52a 102.5px,#f8d62a 103.5px,#f7e62a 104.5px,#eee32f 105.5px,#bad53c 107.5px,#8cc646 110.5px,#76c050 117.5px,#67c4a2 129.5px,#5cc3c6 134.5px,#50c0d4 138.5px,#42bae5 141.5px,#3a6dbe 151.5px,#3b5dae 161.5px,#3a76c3 164.5px,#42bae5 169.5px,#62c4b7 174px)"></i><i style="background:linear-gradient(90deg,#76c04f 0px,#71c375 5.5px,#64c4b0 8.5px,#43bce5 11.5px,#3a7cc7 14.5px,#3b5eaf 16.5px,#3b5eaf 20.5px,#3a77c4 27.5px,#43bce4 35.5px,#63c4b2 45.5px,#76c04e 58.5px,#90c745 64.5px,#c3d83a 67.5px,#e4e032 68.5px,#f3e52c 69.5px,#f8dc2a 70.5px,#f6b42a 71.5px,#ef602a 72.5px,#e62d28 73.5px,#e62628 77.5px,#e62a28 78.5px,#f06d2a 80.5px,#f6b92a 82.5px,#f8d52a 83.5px,#f5e52b 85.5px,#f2e42d 87.5px,#f7e52a 88.5px,#f8d02a 90.5px,#ef622a 93.5px,#e73228 94.5px,#e62528 96.5px,#e62a28 99.5px,#e93f29 100.5px,#f8d02a 102.5px,#f7e22a 103.5px,#f0e32e 104.5px,#bad53c 106.5px,#8bc646 109.5px,#75c052 115.5px,#5ec3c3 130.5px,#41b8e4 138.5px,#3a6ebe 147.5px,#3b58aa 156.5px,#3a6ebe 158.5px,#40b1e2 161.5px,#48bede 162.5px,#60c4bf 164.5px,#70c47c 167.5px,#75c052 172.5px,#76c04d 174px)"></i><i style="background:linear-gradient(90deg,#74c15d 0px,#76c04d 5.5px,#73c263 9.5px,#6fc480 11.5px,#5fc4c2 13.5px,#4cbfd9 14.5px,#3fb0e1 15.5px,#3a73c2 17.5px,#3b57a9 19.5px,#3a65b6 27.5px,#3a78c5 31.5px,#40b2e2 38.5px,#49bedd 40.5px,#5bc3c6 45.5px,#64c4ae 49.5px,#76c04d 60.5px,#8dc646 65.5px,#c4d83a 68.5px,#e8e131 69.5px,#f5e52b 70.5px,#f8d62a 71.5px,#f4932a 72.5px,#ea4429 73.5px,#e62a28 74.5px,#e62928 78.5px,#e83b29 79.5px,#ee5b2a 80.5px,#f6b82a 82.5px,#f8d62a 83.5px,#f3e52c 85.5px,#efe32e 87.5px,#f6e62b 88.5px,#f8d22a 90.5px,#f1752a 92.5px,#e62c28 94.5px,#e62728 98.5px,#e62c28 99.5px,#ee5a2a 100.5px,#f6b52a 101.5px,#f7de2a 102.5px,#f1e42d 103.5px,#bbd53c 105.5px,#8ac646 108.5px,#75c051 113.5px,#5fc4c2 126.5px,#50c0d4 131.5px,#41b9e5 134.5px,#3a6ebf 143.5px,#3b57a9 152.5px,#3b5bad 154.5px,#3a80c9 156.5px,#42bae5 158.5px,#63c4b4 160.5px,#71c478 162.5px,#75c157 165.5px,#76c04e 169.5px,#74c260 174px)"></i><i style="background:linear-gradient(90deg,#4bbedb 0px,#65c4a9 4.5px,#6ec483 7.5px,#70c47c 10.5px,#6ac494 12.5px,#5bc3c6 14.5px,#4bbeda 15.5px,#3fafe1 16.5px,#3a75c3 18.5px,#3b57a9 20.5px,#3b5cae 28.5px,#3a73c2 34.5px,#43bce5 42.5px,#62c4b6 51.5px,#73c260 60.5px,#77c04c 62.5px,#8cc646 66.5px,#c6d83a 69.5px,#ede230 70.5px,#f7e32a 71.5px,#f7c32a 72.5px,#ef642a 73.5px,#e62d28 74.5px,#e62528 77.5px,#e62d28 79.5px,#ec4f29 80.5px,#f6b72a 82.5px,#f8d72a 83.5px,#f7e32a 84.5px,#e2e032 86.5px,#f4e52b 88.5px,#f8d22a 90.5px,#f5a52a 91.5px,#f06b2a 92.5px,#e94029 93.5px,#e62a28 94.5px,#e62928 98.5px,#e93e29 99.5px,#f8d72a 101.5px,#f4e52c 102.5px,#bcd53c 104.5px,#89c547 107.5px,#76c04d 111.5px,#63c4b2 121.5px,#5bc3c6 124.5px,#41b7e4 131.5px,#3a6cbc 140.5px,#3b57a9 148.5px,#3b5cae 153.5px,#3a6aba 154.5px,#41bae5 157.5px,#61c4bd 159.5px,#6cc48d 161.5px,#70c47b 163.5px,#6dc487 166.5px,#58c2ca 171.5px,#47bddf 174px)"></i><i style="background:linear-gradient(90deg,#40b4e3 0px,#3a7fc9 4.5px,#3fafe0 9.5px,#41b7e4 12.5px,#3ba0db 15.5px,#3a6abb 18.5px,#3b57a9 20.5px,#3b5cae 32.5px,#3a75c3 38.5px,#40b2e2 45.5px,#49bedd 47.5px,#61c4bc 54.5px,#6bc491 58.5px,#76c04e 63.5px,#8bc646 67.5px,#c9d939 70.5px,#f0e42e 71.5px,#f8da2a 72.5px,#f4982a 73.5px,#ea4129 74.5px,#e62928 75.5px,#e62728 78.5px,#e62b28 79.5px,#eb4b29 80.5px,#f6b52a 82.5px,#f8d72a 83.5px,#f7e52a 84.5px,#efe32e 85.5px,#d6dc36 86.5px,#f3e42c 88.5px,#f8d22a 90.5px,#e83929 93.5px,#e62928 94.5px,#e62628 97.5px,#e62b28 98.5px,#ee592a 99.5px,#f7bc2a 100.5px,#f7e32a 101.5px,#e4e032 102.5px,#bdd63b 103.5px,#89c547 106.5px,#78c14b 109.5px,#65c4ac 117.5px,#5cc3c5 120.5px,#59c2c9 122.5px,#4abedc 125.5px,#41b9e5 127.5px,#3a6dbd 136.5px,#3b57a8 144.5px,#3b59ab 153.5px,#3a6fbf 155.5px,#3da5dd 158.5px,#41b7e4 161.5px,#3ca4dc 165.5px,#3a85cc 168.5px,#3a83cb 169.5px,#41b9e5 174px)"></i><i style="background:linear-gradient(90deg,#64c4ae 0px,#54c1d0 2.5px,#42bbe5 4.5px,#3a76c3 9.5px,#3b60b1 12.5px,#3b56a7 25.5px,#3b5daf 36.5px,#3a7ac5 42.5px,#40b3e2 49.5px,#49bedd 51.5px,#5fc4c2 57.5px,#75c155 64.5px,#7ec24a 66.5px,#8bc646 68.5px,#b0d23e 70.5px,#e0df33 71.5px,#f7e52a 72.5px,#f7c42a 73.5px,#ef612a 74.5px,#e62c28 75.5px,#e62628 78.5px,#e62a28 79.5px,#eb4929 80.5px,#f6b12a 82.5px,#f8d82a 83.5px,#f7e62a 84.5px,#eee32f 85.5px,#cad939 86.5px,#f1e42d 88.5px,#f7e02a 89.5px,#f8d22a 90.5px,#e73428 93.5px,#e62528 95.5px,#e62828 97.5px,#e83b29 98.5px,#f8d72a 100.5px,#f2e42d 101.5px,#c9d939 102.5px,#97ca44 104.5px,#82c349 106.5px,#76c04c 108.5px,#65c4aa 114.5px,#61c4bc 115.5px,#52c0d2 119.5px,#41bae5 123.5px,#3a6abb 133.5px,#3b57a9 140.5px,#3b59ab 156.5px,#3b60b2 161.5px,#3a86cd 165.5px,#40b3e2 168.5px,#45bde3 169.5px,#61c4bb 172.5px,#66c4a5 174px)"></i><i style="background:linear-gradient(90deg,#74c15a 0px,#6cc48b 3.5px,#58c2ca 6.5px,#43bce5 8.5px,#3a95d5 11.5px,#3a72c1 13.5px,#3b57a9 16.5px,#3b5bac 39.5px,#3a74c2 45.5px,#41b6e3 53.5px,#59c2c8 58.5px,#62c4b6 60.5px,#72c36c 64.5px,#77c04c 66.5px,#8cc646 69.5px,#c5d83a 71.5px,#f1e42d 72.5px,#f8d82a 73.5px,#f4972a 74.5px,#eb4c29 75.5px,#e62928 76.5px,#e62928 79.5px,#ef672a 81.5px,#f5a52a 82.5px,#f8d72a 83.5px,#f6e62b 84.5px,#ebe230 85.5px,#bdd63c 86.5px,#d0db37 87.5px,#f0e32e 88.5px,#f7e12a 89.5px,#f8cd2a 90.5px,#f2852a 91.5px,#ef602a 92.5px,#e62f28 93.5px,#e62628 96.5px,#e62c28 97.5px,#ef612a 98.5px,#f6b92a 99.5px,#f7e22a 100.5px,#e3e032 101.5px,#b7d43d 102.5px,#89c547 104.5px,#75c051 107.5px,#65c4aa 112.5px,#60c4be 113.5px,#42bce6 119.5px,#3a6cbc 129.5px,#3b57a9 136.5px,#3b57a8 156.5px,#3a78c4 160.5px,#3ea9de 163.5px,#47bde0 165.5px,#64c4b0 168.5px,#71c371 171.5px,#75c155 174px)"></i><i style="background:linear-gradient(90deg,#86c448 0px,#78c14b 3.5px,#71c372 6.5px,#5ac2c8 10.5px,#43bce5 12.5px,#3a8dd0 15.5px,#3a6bbc 17.5px,#3b56a8 20.5px,#3b5cae 43.5px,#3a78c4 49.5px,#41b6e4 56.5px,#5dc3c4 61.5px,#76c04d 67.5px,#87c547 69.5px,#99ca43 70.5px,#b7d43d 71.5px,#ede22f 72.5px,#f7e02a 73.5px,#f7b92a 74.5px,#e62c28 76.5px,#e62528 78.5px,#e62828 79.5px,#e83628 80.5px,#ed542a 81.5px,#f49b2a 82.5px,#f8d72a 83.5px,#f5e52b 84.5px,#e4e032 85.5px,#aed13f 86.5px,#c6d83a 87.5px,#efe32f 88.5px,#f7e22a 89.5px,#f7c82a 90.5px,#f1752a 91.5px,#e62b28 93.5px,#e62728 96.5px,#ea4129 97.5px,#f8d32a 99.5px,#f6e52b 100.5px,#8cc646 103.5px,#7bc14b 105.5px,#70c47a 108.5px,#61c4bd 111.5px,#43bce5 116.5px,#3a74c2 124.5px,#3b57a9 132.5px,#3b57a9 153.5px,#3a6ebe 156.5px,#40b4e3 160.5px,#47bddf 161.5px,#5ec3c3 163.5px,#70c47c 166.5px,#76c04e 169.5px,#88c547 174px)"></i><i style="background:linear-gradient(90deg,#c0d73b 0px,#8dc646 3.5px,#75c153 8.5px,#6ec486 11.5px,#61c4bc 13.5px,#49bedd 15.5px,#40b5e3 16.5px,#3a6ebe 20.5px,#3b57a9 23.5px,#3b5bac 46.5px,#3a75c3 52.5px,#40b3e2 58.5px,#4bbedb 60.5px,#5ec3c3 63.5px,#73c268 67.5px,#77c04c 68.5px,#8fc745 70.5px,#ece230 72.5px,#f7e42a 73.5px,#f8cd2a 74.5px,#f1762a 75.5px,#ea4129 76.5px,#e62728 77.5px,#e62b28 80.5px,#ec4c29 81.5px,#f4992a 82.5px,#f8d72a 83.5px,#f5e52b 84.5px,#ddde34 85.5px,#a0cc42 86.5px,#bad53c 87.5px,#ede22f 88.5px,#f7e22a 89.5px,#f7c62a 90.5px,#f1742a 91.5px,#e93b29 92.5px,#e62928 93.5px,#e62528 95.5px,#e62b28 96.5px,#ec4f2a 97.5px,#f59e2a 98.5px,#f8d82a 99.5px,#f3e52c 100.5px,#d9dd35 101.5px,#aad040 102.5px,#88c547 103.5px,#75c156 105.5px,#61c4bb 109.5px,#4dbfd8 112.5px,#42bbe5 114.5px,#3a72c1 121.5px,#3b57a9 129.5px,#3b5aac 150.5px,#3a74c2 153.5px,#42bce6 157.5px,#63c4b2 160.5px,#70c47c 162.5px,#76c04d 165.5px,#94c944 170.5px,#c6d83a 174px)"></i><i style="background:linear-gradient(90deg,#efe32e 0px,#dfdf33 2.5px,#8ec746 7.5px,#78c14b 11.5px,#70c478 14.5px,#5bc3c7 17.5px,#42bce6 19.5px,#3a69ba 24.5px,#3b56a8 28.5px,#3b5aac 49.5px,#3a77c4 55.5px,#41b8e5 61.5px,#62c4b8 66.5px,#73c263 68.5px,#7cc24a 69.5px,#89c547 70.5px,#e5e032 72.5px,#f5e52b 73.5px,#f8d62a 74.5px,#f4922a 75.5px,#e62a28 77.5px,#e62628 79.5px,#e62a28 80.5px,#eb4829 81.5px,#f4952a 82.5px,#f8d62a 83.5px,#f4e52c 84.5px,#d6dd35 85.5px,#92c845 86.5px,#afd13e 87.5px,#ece230 88.5px,#f7e22a 89.5px,#f7c42a 90.5px,#f0722a 91.5px,#e73228 92.5px,#e62528 94.5px,#e62628 95.5px,#e93b29 96.5px,#f06c2a 97.5px,#f6b32a 98.5px,#f7dd2a 99.5px,#f1e42d 100.5px,#d2dc36 101.5px,#a0cc42 102.5px,#84c448 103.5px,#76c04c 104.5px,#71c372 105.5px,#66c4a5 106.5px,#61c4bd 107.5px,#45bde3 111.5px,#3a89ce 116.5px,#3a6cbd 119.5px,#3b57a8 126.5px,#3b58aa 146.5px,#3a6dbd 149.5px,#3fb1e2 153.5px,#47bde0 154.5px,#60c4c0 156.5px,#71c371 159.5px,#76c04f 161.5px,#8ac547 165.5px,#e5e032 171.5px,#f0e42e 174px)"></i><i style="background:linear-gradient(90deg,#f7de2a 0px,#efe32e 4.5px,#dfdf33 6.5px,#8cc646 11.5px,#76c04d 15.5px,#6dc487 18.5px,#5fc4c1 20.5px,#47bde0 22.5px,#3ca2db 24.5px,#3a70c0 27.5px,#3b57a9 31.5px,#3b5aab 52.5px,#3a72c1 57.5px,#41bae5 63.5px,#5fc4c1 67.5px,#70c47d 68.5px,#76c04d 69.5px,#85c448 70.5px,#a7cf40 71.5px,#dadd35 72.5px,#f3e42c 73.5px,#f8db2a 74.5px,#f6b22a 75.5px,#e62c28 77.5px,#e62528 79.5px,#e62928 80.5px,#ea4429 81.5px,#f8d42a 83.5px,#f4e52c 84.5px,#d2db37 85.5px,#8ac646 86.5px,#a6ce40 87.5px,#ebe230 88.5px,#f7e12a 89.5px,#f7ba2a 90.5px,#e62d28 92.5px,#e62728 95.5px,#ea4229 96.5px,#f8ce2a 98.5px,#f7e32a 99.5px,#eee32f 100.5px,#c7d939 101.5px,#91c845 102.5px,#7fc24a 103.5px,#74c25f 104.5px,#68c49f 105.5px,#5ac2c8 106.5px,#40b5e3 110.5px,#3a6fbf 116.5px,#3b57a9 122.5px,#3b57a9 142.5px,#3a76c3 146.5px,#41b8e4 150.5px,#58c2cb 152.5px,#69c499 154.5px,#70c47b 155.5px,#78c14b 158.5px,#92c845 162.5px,#e5e032 167.5px,#f7e62a 171.5px,#f7dc2a 174px)"></i><i style="background:linear-gradient(90deg,#f6b32a 0px,#f8d42a 2.5px,#f5e52b 6.5px,#eae230 9.5px,#89c547 15.5px,#78c04c 18.5px,#70c47d 21.5px,#62c4b7 23.5px,#41b9e5 26.5px,#3a6cbd 31.5px,#3b57a8 35.5px,#3b5bad 55.5px,#3a70c0 59.5px,#40b4e3 64.5px,#46bde1 65.5px,#59c2c9 67.5px,#74c15b 69.5px,#80c349 70.5px,#96c944 71.5px,#ccda38 72.5px,#efe32e 73.5px,#f7e12a 74.5px,#f7c72a 75.5px,#f1752a 76.5px,#ea4129 77.5px,#e62628 78.5px,#e62728 80.5px,#e73328 81.5px,#ef642a 82.5px,#f7c82a 83.5px,#f5e52b 84.5px,#cfdb37 85.5px,#88c547 86.5px,#9fcc42 87.5px,#ebe230 88.5px,#f7df2a 89.5px,#f59f2a 90.5px,#ec512a 91.5px,#e62b28 92.5px,#e62528 94.5px,#e62a28 95.5px,#ec4f2a 96.5px,#f49a2a 97.5px,#f8d62a 98.5px,#f6e52b 99.5px,#e8e131 100.5px,#89c547 102.5px,#7ac14b 103.5px,#72c36d 104.5px,#63c4b4 105.5px,#55c1cd 106.5px,#42bce6 108.5px,#3a6dbe 114.5px,#3b57a9 119.5px,#3b5aac 139.5px,#3a70c0 142.5px,#3fb0e1 146.5px,#44bde3 147.5px,#5cc3c5 149.5px,#71c376 152.5px,#75c052 154.5px,#8bc646 158.5px,#e2df33 163.5px,#f0e42e 165.5px,#f7e12a 168.5px,#f8d22a 171.5px,#f6ac2a 174px)"></i><i style="background:linear-gradient(90deg,#ee5c2a 0px,#f8ca2a 5.5px,#f7e52a 9.5px,#e4e032 13.5px,#8bc646 18.5px,#79c14b 21.5px,#73c266 23.5px,#6bc491 25.5px,#5cc3c5 27.5px,#45bde3 29.5px,#3a81ca 33.5px,#3b61b2 36.5px,#3b56a7 40.5px,#3b59ab 57.5px,#3a73c2 61.5px,#40b3e2 65.5px,#49bede 66.5px,#59c2c9 67.5px,#73c267 69.5px,#7bc14b 70.5px,#8ac547 71.5px,#ebe230 73.5px,#f6e62a 74.5px,#f8d52a 75.5px,#f4922a 76.5px,#e62828 78.5px,#e62b28 81.5px,#eb4b29 82.5px,#f6b82a 83.5px,#f6e62b 84.5px,#ccda38 85.5px,#85c448 86.5px,#98ca44 87.5px,#eae230 88.5px,#f7dd2a 89.5px,#f2842a 90.5px,#e83a29 91.5px,#e62928 92.5px,#e62528 94.5px,#e73028 95.5px,#f06c2a 96.5px,#f6b32a 97.5px,#f7dc2a 98.5px,#f2e42d 99.5px,#d9dd35 100.5px,#a6ce41 101.5px,#84c448 102.5px,#76c04d 103.5px,#71c477 104.5px,#63c4b3 105.5px,#52c0d2 106.5px,#43bce5 107.5px,#3a6ebf 112.5px,#3b57a9 117.5px,#3b58aa 135.5px,#3a78c4 139.5px,#41b6e4 143.5px,#55c1ce 145.5px,#60c4be 146.5px,#71c371 149.5px,#76c04d 151.5px,#8fc745 155.5px,#eae230 160.5px,#f7e32a 164.5px,#f8d32a 167.5px,#f2802a 171.5px,#ed562a 174px)"></i><i style="background:linear-gradient(90deg,#e62e28 0px,#ef612a 4.5px,#f8d02a 9.5px,#f6e62b 13.5px,#e9e131 16.5px,#8cc646 21.5px,#75c050 25.5px,#6dc48a 28.5px,#60c4c1 30.5px,#48bede 32.5px,#40b6e3 33.5px,#3a6dbd 38.5px,#3b57a9 42.5px,#3b5aab 59.5px,#3a6ebe 62.5px,#41b9e5 66.5px,#52c0d2 67.5px,#65c4ac 68.5px,#71c374 69.5px,#77c04c 70.5px,#85c448 71.5px,#a8cf40 72.5px,#dade34 73.5px,#f2e42d 74.5px,#f7dc2a 75.5px,#f6b62a 76.5px,#e62b28 78.5px,#e62628 80.5px,#e62a28 81.5px,#eb4829 82.5px,#f6b52a 83.5px,#f6e62b 84.5px,#cad939 85.5px,#83c349 86.5px,#90c745 87.5px,#e9e131 88.5px,#f8dc2a 89.5px,#f2822a 90.5px,#e73228 91.5px,#e62528 93.5px,#e62728 94.5px,#e93f29 95.5px,#f8d22a 97.5px,#f7e32a 98.5px,#eee32f 99.5px,#c8d939 100.5px,#92c845 101.5px,#7fc24a 102.5px,#74c15b 103.5px,#6dc488 104.5px,#5fc4c1 105.5px,#4abedc 106.5px,#3fb0e1 107.5px,#3a76c4 110.5px,#3b57a9 114.5px,#3b5aac 132.5px,#3a70c0 135.5px,#42bbe6 140.5px,#62c4b6 143.5px,#6fc47f 145.5px,#77c04c 148.5px,#93c844 152.5px,#dfdf33 156.5px,#ede230 157.5px,#f7e52a 160.5px,#f8d52a 163.5px,#f5a12a 166.5px,#ee592a 169.5px,#e62d28 174px)"></i><i style="background:linear-gradient(90deg,#e62928 0px,#e73228 4.5px,#ed562a 7.5px,#f7c52a 12.5px,#f8da2a 14.5px,#f3e52c 17.5px,#ebe230 19.5px,#8dc646 24.5px,#76c04e 28.5px,#6ec485 31.5px,#61c4bc 33.5px,#41b9e5 36.5px,#3a6fbf 41.5px,#3b57a9 45.5px,#3b57a9 60.5px,#3a6dbd 63.5px,#3eaadf 66.5px,#48bede 67.5px,#5ec4c2 68.5px,#6dc488 69.5px,#74c15b 70.5px,#7fc24a 71.5px,#92c845 72.5px,#c8d939 73.5px,#eee32f 74.5px,#f7e32a 75.5px,#f8d22a 76.5px,#ea4529 78.5px,#e62628 79.5px,#e62928 81.5px,#ea4529 82.5px,#f6b12a 83.5px,#f7e62a 84.5px,#c8d939 85.5px,#80c349 86.5px,#8bc646 87.5px,#e9e131 88.5px,#f8da2a 89.5px,#e62d28 91.5px,#e62528 93.5px,#e62a28 94.5px,#ee592a 95.5px,#f6aa2a 96.5px,#f8d92a 97.5px,#f4e52b 98.5px,#e4e032 99.5px,#88c547 101.5px,#79c14b 102.5px,#72c36c 103.5px,#55c1ce 105.5px,#41b9e5 106.5px,#3a75c3 109.5px,#3b57a9 113.5px,#3b57a9 128.5px,#3a73c2 132.5px,#3fb0e1 136.5px,#44bde3 137.5px,#64c4b1 140.5px,#70c47b 142.5px,#78c04c 145.5px,#89c547 148.5px,#aad040 150.5px,#ede22f 154.5px,#f7e42a 157.5px,#f8d22a 160.5px,#ef602a 165.5px,#e62e28 169.5px,#e62928 174px)"></i><i style="background:linear-gradient(90deg,#e62828 0px,#e62d28 7.5px,#ee5a2a 11.5px,#f7c02a 15.5px,#f8d32a 16.5px,#f7e62a 19.5px,#ece230 22.5px,#8ec746 27.5px,#76c04d 31.5px,#6ec483 34.5px,#62c4b9 36.5px,#42bae5 39.5px,#3a6ebf 44.5px,#3b57a8 48.5px,#3b5bad 62.5px,#3a6dbd 64.5px,#40b4e3 67.5px,#52c0d1 68.5px,#66c4a5 69.5px,#72c36e 70.5px,#79c14b 71.5px,#87c547 72.5px,#e3e032 74.5px,#f4e52b 75.5px,#f8d92a 76.5px,#f6ae2a 77.5px,#e62828 79.5px,#e62828 81.5px,#ea4229 82.5px,#f5a62a 83.5px,#f7e42a 84.5px,#c8d939 85.5px,#7ec24a 86.5px,#8ac547 87.5px,#ece230 88.5px,#f8d72a 89.5px,#f17a2a 90.5px,#e62c28 91.5px,#e62528 93.5px,#e73228 94.5px,#f2852a 95.5px,#f7c82a 96.5px,#f7e02a 97.5px,#f0e42e 98.5px,#d1db37 99.5px,#9ccb43 100.5px,#82c349 101.5px,#75c155 102.5px,#6fc47f 103.5px,#61c4bd 104.5px,#49bedd 105.5px,#3ea9de 106.5px,#3a77c4 108.5px,#3b58aa 111.5px,#3b57a9 125.5px,#3a73c2 129.5px,#40b2e2 133.5px,#45bde2 134.5px,#5cc3c5 136.5px,#70c479 139.5px,#78c14b 142.5px,#89c547 145.5px,#abd03f 147.5px,#ede32f 151.5px,#f7e32a 154.5px,#f8ce2a 157.5px,#ed542a 162.5px,#e73128 165.5px,#e62828 174px)"></i><i style="background:linear-gradient(90deg,#e62828 0px,#e62d28 11.5px,#ed562a 14.5px,#f7c02a 18.5px,#f8d32a 19.5px,#f7e62a 22.5px,#ebe230 25.5px,#8cc646 30.5px,#76c04e 34.5px,#6ec485 37.5px,#61c4bc 39.5px,#41b8e5 42.5px,#3a6cbc 47.5px,#3b57a8 51.5px,#3b5bad 63.5px,#3a6ebe 65.5px,#3ca3dc 67.5px,#45bde2 68.5px,#5ec3c3 69.5px,#6ec486 70.5px,#75c158 71.5px,#81c349 72.5px,#9acb43 73.5px,#d0db37 74.5px,#f0e32e 75.5px,#f7e02a 76.5px,#f7c42a 77.5px,#e62c28 79.5px,#e62728 81.5px,#e62f28 82.5px,#f06e2a 83.5px,#f7dc2a 84.5px,#ccda38 85.5px,#7bc14b 86.5px,#89c547 87.5px,#eee32f 88.5px,#f7bc2a 89.5px,#ed522a 90.5px,#e62a28 91.5px,#e62728 93.5px,#e94129 94.5px,#f4982a 95.5px,#f8d52a 96.5px,#f6e62a 97.5px,#ebe230 98.5px,#8ac547 100.5px,#7bc14b 101.5px,#72c269 102.5px,#53c1d0 104.5px,#40b4e3 105.5px,#3a7cc7 107.5px,#3b60b1 109.5px,#3b56a8 112.5px,#3b59ab 123.5px,#3a6fbf 126.5px,#3fafe1 130.5px,#44bce4 131.5px,#64c4b1 134.5px,#70c47b 136.5px,#78c04c 139.5px,#95c944 143.5px,#e1df33 147.5px,#f1e42d 149.5px,#f7dd2a 152.5px,#f8ce2a 154.5px,#f2812a 157.5px,#ec502a 159.5px,#e62c28 162.5px,#e62828 174px)"></i><i style="background:linear-gradient(90deg,#e62b28 0px,#e62d28 14.5px,#ed572a 17.5px,#f7c22a 21.5px,#f8d42a 22.5px,#f6e62a 25.5px,#e8e131 28.5px,#8bc646 33.5px,#75c051 37.5px,#6cc48c 40.5px,#5ec3c2 42.5px,#46bde1 44.5px,#3ca2db 46.5px,#3a70c0 49.5px,#3b57a9 53.5px,#3b5cad 64.5px,#3a72c1 66.5px,#3fade0 68.5px,#4fc0d5 69.5px,#66c4a9 70.5px,#72c36e 71.5px,#7ac14b 72.5px,#89c547 73.5px,#eae230 75.5px,#f6e62a 76.5px,#f8d52a 77.5px,#ea4629 79.5px,#e62628 80.5px,#e62a28 82.5px,#eb4a29 83.5px,#f8d72a 84.5px,#cedb37 85.5px,#79c14b 86.5px,#88c547 87.5px,#f0e32e 88.5px,#f59c2a 89.5px,#e83628 90.5px,#e62828 91.5px,#e62a28 93.5px,#ee5b2a 94.5px,#f6b12a 95.5px,#f8dc2a 96.5px,#f2e42d 97.5px,#d8dd35 98.5px,#a3cd41 99.5px,#83c349 100.5px,#75c153 101.5px,#6fc480 102.5px,#5fc4c1 103.5px,#45bde2 104.5px,#3a83cb 106.5px,#3a6cbc 107.5px,#3b58aa 109.5px,#3b57a9 120.5px,#3a77c4 124.5px,#41b8e4 128.5px,#62c4b9 131.5px,#6fc481 133.5px,#77c04c 136.5px,#91c845 140.5px,#dede34 144.5px,#ede230 145.5px,#f7e42a 148.5px,#f8d12a 151.5px,#f2822a 154.5px,#ec512a 156.5px,#e73328 158.5px,#e62728 164.5px,#e62b28 174px)"></i><i style="background:linear-gradient(90deg,#ea4129 0px,#e62c28 2.5px,#e62b28 16.5px,#e62d28 17.5px,#ee592a 20.5px,#f7c72a 24.5px,#f8dc2a 26.5px,#f2e42d 29.5px,#e3e032 31.5px,#89c547 36.5px,#78c04c 39.5px,#70c47d 42.5px,#62c4b8 44.5px,#4bbedb 46.5px,#41b8e4 47.5px,#3a6bbb 52.5px,#3b57a8 56.5px,#3b57a9 64.5px,#3a68b8 66.5px,#3a7ac6 67.5px,#41bae5 69.5px,#5bc3c7 70.5px,#6dc489 71.5px,#75c158 72.5px,#81c349 73.5px,#a0cc42 74.5px,#d6dd35 75.5px,#f2e42d 76.5px,#f8dc2a 77.5px,#f6b22a 78.5px,#e62728 80.5px,#e62828 82.5px,#ea4429 83.5px,#f8d72a 84.5px,#ccda38 85.5px,#76c04c 86.5px,#86c448 87.5px,#f0e32e 88.5px,#f59c2a 89.5px,#e62d28 90.5px,#e62628 92.5px,#e62d28 93.5px,#f3882a 94.5px,#f8ce2a 95.5px,#f7e32a 96.5px,#eee32f 97.5px,#c3d83a 98.5px,#8bc646 99.5px,#7bc14b 100.5px,#72c26a 101.5px,#66c4a5 102.5px,#50c0d5 103.5px,#3eade0 104.5px,#3a6fbf 106.5px,#3b59ab 108.5px,#3b59ab 118.5px,#3a6ebe 121.5px,#43bce4 126.5px,#5cc3c5 128.5px,#71c376 131.5px,#75c052 133.5px,#8cc646 137.5px,#eae131 142.5px,#f7e62a 145.5px,#f8d32a 148.5px,#f3872a 151.5px,#ed522a 153.5px,#e73428 155.5px,#e62828 159.5px,#e62d28 171.5px,#ea4629 174px)"></i><i style="background:linear-gradient(90deg,#f3872a 0px,#ed542a 2.5px,#e62e28 5.5px,#e62828 17.5px,#e62e28 20.5px,#ef5f2a 23.5px,#f6b62a 26.5px,#f8d02a 27.5px,#f4e52c 31.5px,#ece230 33.5px,#a2cd41 37.5px,#8dc646 38.5px,#75c052 42.5px,#71c477 44.5px,#5ac2c8 47.5px,#42bbe5 49.5px,#3a6cbd 54.5px,#3b57a8 58.5px,#3b57a9 65.5px,#3a6bbc 67.5px,#3da6dd 69.5px,#4bbedb 70.5px,#64c4af 71.5px,#72c370 72.5px,#7ac14b 73.5px,#8ac547 74.5px,#c1d73b 75.5px,#eee32f 76.5px,#f7e22a 77.5px,#f7c62a 78.5px,#e62928 80.5px,#e62828 82.5px,#ea4129 83.5px,#f8d72a 84.5px,#c7d939 85.5px,#75c154 86.5px,#83c448 87.5px,#efe32e 88.5px,#f59d2a 89.5px,#e62c28 90.5px,#e62628 92.5px,#e83628 93.5px,#f4992a 94.5px,#f8d72a 95.5px,#f5e52b 96.5px,#e0df33 97.5px,#a9cf40 98.5px,#83c448 99.5px,#75c154 100.5px,#6ec485 101.5px,#5cc3c6 102.5px,#42bae5 103.5px,#3a78c5 105.5px,#3b5bad 107.5px,#3b57a9 115.5px,#3a6fbf 119.5px,#3fb1e1 123.5px,#46bde1 124.5px,#5fc4c1 126.5px,#72c370 129.5px,#77c04c 131.5px,#89c547 134.5px,#abd03f 136.5px,#e3e032 139.5px,#f6e52b 142.5px,#f8d52a 145.5px,#f6ac2a 147.5px,#ed562a 150.5px,#e62c28 153.5px,#e62928 165.5px,#e73228 168.5px,#ee5b2a 171.5px,#f4942a 174px)"></i><i style="background:linear-gradient(90deg,#f8d52a 0px,#f4912a 3.5px,#ee5c2a 5.5px,#e63028 8.5px,#e62628 18.5px,#e73128 23.5px,#ed522a 25.5px,#f7c22a 29.5px,#f8d42a 30.5px,#f6e62b 33.5px,#e4e032 36.5px,#94c944 40.5px,#76c04e 44.5px,#71c375 46.5px,#5ac3c7 49.5px,#42bbe6 51.5px,#3a6cbc 56.5px,#3b57a8 60.5px,#3b58aa 66.5px,#3a71c0 68.5px,#40b4e3 70.5px,#57c2cc 71.5px,#6bc48f 72.5px,#74c159 73.5px,#82c349 74.5px,#a6ce40 75.5px,#e0df33 76.5px,#f5e52b 77.5px,#f8d42a 78.5px,#f17b2a 79.5px,#e93e29 80.5px,#e62728 81.5px,#e62728 82.5px,#e94029 83.5px,#f8d72a 84.5px,#c2d73a 85.5px,#74c15e 86.5px,#81c349 87.5px,#eee32f 88.5px,#f59e2a 89.5px,#e62c28 90.5px,#e62a28 92.5px,#ec4e29 93.5px,#f5a72a 94.5px,#f7dc2a 95.5px,#f1e42e 96.5px,#cbda38 97.5px,#8dc646 98.5px,#7bc14b 99.5px,#72c36c 100.5px,#65c4ac 101.5px,#4cbfda 102.5px,#3da6dd 103.5px,#3a6bbb 105.5px,#3b57a9 107.5px,#3b5aac 114.5px,#3a6fbf 117.5px,#3fb1e2 121.5px,#46bde1 122.5px,#60c4c0 124.5px,#6ec484 126.5px,#78c04c 129.5px,#8ac646 132.5px,#ebe230 137.5px,#f7e52a 140.5px,#f8d22a 143.5px,#f27e2a 146.5px,#ee5f2a 147.5px,#e62d28 150.5px,#e62828 161.5px,#e62c28 164.5px,#ed522a 167.5px,#f27f2a 169.5px,#f6b42a 171.5px,#f8d92a 174px)"></i><i style="background:linear-gradient(90deg,#f7e52a 0px,#f8d62a 3.5px,#f5a22a 6.5px,#ef652a 8.5px,#e73128 11.5px,#e62628 19.5px,#e62d28 25.5px,#ee5e2a 28.5px,#f6b72a 31.5px,#f8d02a 32.5px,#f7e52a 35.5px,#eae131 38.5px,#97ca44 42.5px,#82c349 44.5px,#76c04f 46.5px,#71c476 48.5px,#59c2c9 51.5px,#41b8e5 53.5px,#3a75c3 57.5px,#3b57a9 61.5px,#3b5dae 67.5px,#3a68b9 68.5px,#3a7ec8 69.5px,#3ca1db 70.5px,#47bde0 71.5px,#62c4b7 72.5px,#71c373 73.5px,#7ac14b 74.5px,#8bc646 75.5px,#cbda38 76.5px,#f1e42d 77.5px,#f8da2a 78.5px,#e62728 81.5px,#e62728 82.5px,#e93d29 83.5px,#f8d82a 84.5px,#bed63b 85.5px,#73c266 86.5px,#7fc24a 87.5px,#eee32f 88.5px,#f59f2a 89.5px,#e62b28 90.5px,#e62628 91.5px,#e62d28 92.5px,#f0702a 93.5px,#f7bf2a 94.5px,#f7e32a 95.5px,#ece230 96.5px,#b1d23e 97.5px,#84c448 98.5px,#75c156 99.5px,#6cc48c 100.5px,#58c2ca 101.5px,#40b5e3 102.5px,#3a71c1 104.5px,#3b59ab 106.5px,#3b59ab 112.5px,#3a6ebe 115.5px,#3fafe0 119.5px,#44bde3 120.5px,#5ec4c2 122.5px,#72c36e 125.5px,#78c04c 127.5px,#8bc646 130.5px,#dfdf33 134.5px,#ede22f 135.5px,#f7e22a 138.5px,#f8d52a 140.5px,#f6ad2a 142.5px,#ed552a 145.5px,#e73328 147.5px,#e62628 153.5px,#e62c28 161.5px,#ed572a 164.5px,#f6a92a 167.5px,#f8d02a 169.5px,#f6e62a 174px)"></i><i style="background:linear-gradient(90deg,#f4e52c 0px,#f7dc2a 6.5px,#f8d42a 7.5px,#f4922a 10.5px,#ed532a 12.5px,#e62e28 14.5px,#e62628 23.5px,#e62c28 27.5px,#ea4429 29.5px,#f0712a 31.5px,#f7c72a 34.5px,#f7dc2a 36.5px,#f0e42e 39.5px,#ece230 40.5px,#96c944 44.5px,#7bc14b 47.5px,#75c152 48.5px,#70c47b 50.5px,#61c4ba 52.5px,#48bede 54.5px,#40b3e2 55.5px,#3a70c0 59.5px,#3b57a8 64.5px,#3b59ab 67.5px,#3a6fbf 69.5px,#3fafe1 71.5px,#53c1d1 72.5px,#69c49a 73.5px,#74c15d 74.5px,#83c349 75.5px,#b0d23e 76.5px,#ece230 77.5px,#f7e22a 78.5px,#f7bf2a 79.5px,#e62828 81.5px,#e62628 82.5px,#e73428 83.5px,#f8d72a 84.5px,#bfd63b 85.5px,#72c36d 86.5px,#7ec24a 87.5px,#eee32f 88.5px,#f59d2a 89.5px,#e62928 90.5px,#e62d28 92.5px,#f3902a 93.5px,#f8d52a 94.5px,#f4e52c 95.5px,#d6dd35 96.5px,#94c944 97.5px,#7bc14b 98.5px,#71c372 99.5px,#62c4b6 100.5px,#48bede 101.5px,#3ca2db 102.5px,#3a80c9 103.5px,#3a6aba 104.5px,#3b57a9 106.5px,#3b5eaf 111.5px,#3a76c4 114.5px,#41bae5 118.5px,#5ac2c7 120.5px,#71c373 123.5px,#77c04c 125.5px,#8bc646 128.5px,#e0df33 132.5px,#f2e42d 134.5px,#f7e02a 136.5px,#f8d32a 138.5px,#f5a32a 140.5px,#ef652a 142.5px,#e62e28 145.5px,#e62628 155.5px,#e62c28 158.5px,#eb4729 160.5px,#ee5c2a 161.5px,#f59d2a 163.5px,#f8d82a 166.5px,#f4e52c 172.5px,#f4e52c 174px)"></i><i style="background:linear-gradient(90deg,#f1e42d 0px,#f7df2a 8.5px,#f8d22a 11.5px,#f4932a 13.5px,#ec4d29 15.5px,#e62c28 17.5px,#e62828 27.5px,#e62f28 30.5px,#ef672a 33.5px,#f7c02a 36.5px,#f8d42a 37.5px,#f5e52b 40.5px,#eae230 42.5px,#90c745 46.5px,#79c14b 49.5px,#72c36e 51.5px,#5dc3c4 54.5px,#42bce6 56.5px,#3a6dbd 61.5px,#3b57a9 66.5px,#3a69ba 69.5px,#3a7ec8 70.5px,#43bce4 72.5px,#5bc3c6 73.5px,#70c47b 74.5px,#7ac14b 75.5px,#94c844 76.5px,#d9dd35 77.5px,#f5e52b 78.5px,#f8d32a 79.5px,#f1782a 80.5px,#e62a28 81.5px,#e62d28 83.5px,#f8d22a 84.5px,#cad939 85.5px,#71c370 86.5px,#7ec24a 87.5px,#f2e42d 88.5px,#f4942a 89.5px,#e62728 90.5px,#e62728 91.5px,#e83828 92.5px,#f5a22a 93.5px,#f8db2a 94.5px,#f0e32e 95.5px,#86c448 97.5px,#75c158 98.5px,#67c4a0 99.5px,#52c0d2 100.5px,#3fb1e2 101.5px,#3a72c1 103.5px,#3b58aa 106.5px,#3b5dae 109.5px,#3a70c0 112.5px,#40b2e2 116.5px,#47bddf 117.5px,#61c4bb 119.5px,#70c47b 121.5px,#75c051 123.5px,#89c547 126.5px,#dfdf33 130.5px,#ede32f 131.5px,#f6e62a 133.5px,#f8d12a 136.5px,#ee5b2a 140.5px,#e62c28 143.5px,#e62728 153.5px,#e62d28 156.5px,#ed562a 158.5px,#f5a02a 160.5px,#f8d62a 162.5px,#f4e52b 167.5px,#f1e42d 174px)"></i><i style="background:linear-gradient(90deg,#efe32f 0px,#f7e32a 11.5px,#f8cf2a 14.5px,#ee5f2a 17.5px,#e73128 19.5px,#e62528 25.5px,#e62d28 32.5px,#ef5f2a 35.5px,#f7bf2a 38.5px,#f8d52a 39.5px,#f4e52c 42.5px,#e6e032 44.5px,#8bc646 48.5px,#76c04e 51.5px,#70c479 53.5px,#61c4ba 55.5px,#47bddf 57.5px,#3ca2db 59.5px,#3a71c1 62.5px,#3b5dae 66.5px,#3a67b8 69.5px,#3a73c2 70.5px,#3fafe1 72.5px,#4fbfd6 73.5px,#67c4a1 74.5px,#74c159 75.5px,#86c448 76.5px,#c4d83a 77.5px,#f1e42d 78.5px,#f8d82a 79.5px,#f27f2a 80.5px,#e93e29 81.5px,#e62728 82.5px,#e62d28 83.5px,#f4942a 84.5px,#e9e131 85.5px,#71c371 86.5px,#82c349 87.5px,#f7dd2a 88.5px,#f1742a 89.5px,#e62828 90.5px,#e62a28 91.5px,#ec4e29 92.5px,#f6ae2a 93.5px,#f7e12a 94.5px,#eae131 95.5px,#a5ce41 96.5px,#7ec24a 97.5px,#71c372 98.5px,#60c4c0 99.5px,#46bde1 100.5px,#3ca3dc 101.5px,#3a6dbd 103.5px,#3b5dae 106.5px,#3a6dbd 110.5px,#41b9e5 115.5px,#5ac2c7 117.5px,#71c371 120.5px,#78c14b 122.5px,#91c845 125.5px,#d9dd35 128.5px,#ece230 129.5px,#f7e12a 132.5px,#f8d12a 134.5px,#ed552a 138.5px,#e73428 140.5px,#e62728 144.5px,#e62c28 153.5px,#ec4e29 155.5px,#f8d62a 159.5px,#f5e52b 163.5px,#eee32f 174px)"></i><i style="background:linear-gradient(90deg,#ece230 0px,#f7e22a 14.5px,#f8d92a 16.5px,#f7c92a 17.5px,#ed542a 20.5px,#e83a29 21.5px,#e62b28 22.5px,#e62728 31.5px,#e62c28 34.5px,#eb4829 36.5px,#ee5e2a 37.5px,#f7c42a 40.5px,#f8d62a 41.5px,#f7e62a 43.5px,#ede32f 45.5px,#aed13f 48.5px,#93c844 49.5px,#78c14b 52.5px,#71c372 54.5px,#59c2c9 57.5px,#41b7e4 59.5px,#3a6ebe 64.5px,#3a64b5 68.5px,#3a6fbf 70.5px,#3da6dd 72.5px,#4dbfd8 73.5px,#5fc4c1 74.5px,#71c375 75.5px,#7ec24a 76.5px,#aad040 77.5px,#ede230 78.5px,#f7de2a 79.5px,#e62828 82.5px,#e62b28 83.5px,#ec512a 84.5px,#f1e42d 85.5px,#71c373 86.5px,#84c448 87.5px,#f7c72a 88.5px,#ea4529 89.5px,#e62728 90.5px,#e62d28 91.5px,#f0712a 92.5px,#f7c82a 93.5px,#f6e62b 94.5px,#d6dc36 95.5px,#8bc646 96.5px,#76c04d 97.5px,#69c49b 98.5px,#5ac2c7 99.5px,#42bbe6 100.5px,#3a7cc7 102.5px,#3a6cbc 103.5px,#3b63b4 106.5px,#3a70c0 109.5px,#44bce4 114.5px,#5ec4c2 116.5px,#6fc480 118.5px,#75c153 120.5px,#8ac547 123.5px,#e6e032 127.5px,#f7e32a 130.5px,#f8d32a 132.5px,#f4982a 134.5px,#ed542a 136.5px,#e63028 138.5px,#e62528 148.5px,#e62d28 151.5px,#ef642a 153.5px,#f8d52a 156.5px,#f5e52b 160.5px,#ebe230 174px)"></i><i style="background:linear-gradient(90deg,#e0df33 0px,#f5e52b 15.5px,#f8d82a 19.5px,#f7c12a 20.5px,#f0692a 22.5px,#ea4629 23.5px,#e62d28 24.5px,#e62628 32.5px,#e62c28 36.5px,#eb4b29 38.5px,#ef652a 39.5px,#f8ce2a 42.5px,#f5e52b 45.5px,#e7e131 47.5px,#89c547 51.5px,#7ac14b 53.5px,#75c157 54.5px,#6dc487 56.5px,#5cc3c6 58.5px,#42bbe6 60.5px,#3a73c1 65.5px,#3a69b9 68.5px,#3a6fbf 70.5px,#3a80c9 71.5px,#44bde3 73.5px,#53c1d0 74.5px,#6bc492 75.5px,#77c04c 76.5px,#91c845 77.5px,#ddde34 78.5px,#f7e62a 79.5px,#f7c42a 80.5px,#e62828 82.5px,#e62828 83.5px,#ea4529 84.5px,#f1e42d 85.5px,#70c478 86.5px,#83c448 87.5px,#f7c72a 88.5px,#e62d28 89.5px,#e62728 90.5px,#e62d28 91.5px,#f4932a 92.5px,#f8d72a 93.5px,#f1e42d 94.5px,#c2d73b 95.5px,#84c448 96.5px,#73c263 97.5px,#61c4ba 98.5px,#50c0d4 99.5px,#3fb0e1 100.5px,#3a77c4 102.5px,#3a6aba 104.5px,#3a6ebe 107.5px,#3ca2db 111.5px,#46bde1 113.5px,#61c4bd 115.5px,#70c47a 117.5px,#76c04e 119.5px,#8cc646 122.5px,#dadd35 125.5px,#ede230 126.5px,#f7e62a 128.5px,#f8d62a 130.5px,#f7c12a 131.5px,#ee582a 134.5px,#e63028 136.5px,#e62528 145.5px,#e62b28 148.5px,#e73528 149.5px,#ed522a 150.5px,#f8d32a 153.5px,#f6e62b 157.5px,#e2df33 172.5px,#dfdf33 174px)"></i><i style="background:linear-gradient(90deg,#d4dc36 0px,#f0e42e 13.5px,#f7e02a 20.5px,#f8d72a 22.5px,#f6b52a 23.5px,#ec502a 25.5px,#e73428 26.5px,#e62628 29.5px,#e62c28 38.5px,#ed522a 40.5px,#f7bd2a 43.5px,#f8d52a 44.5px,#f7e62a 46.5px,#ede230 48.5px,#8bc646 52.5px,#75c153 55.5px,#6ec483 57.5px,#5dc3c4 59.5px,#43bce5 61.5px,#3a79c5 66.5px,#3a6fbf 69.5px,#3a7cc7 71.5px,#3fb0e1 73.5px,#4fc0d5 74.5px,#66c4a5 75.5px,#74c15c 76.5px,#87c547 77.5px,#cada38 78.5px,#f4e52c 79.5px,#f8d42a 80.5px,#f1782a 81.5px,#e62828 82.5px,#e62828 83.5px,#ea4229 84.5px,#f0e42e 85.5px,#6fc481 86.5px,#82c349 87.5px,#f7c82a 88.5px,#e62c28 89.5px,#e62728 90.5px,#e62d28 91.5px,#f5a32a 92.5px,#f7dd2a 93.5px,#eee32f 94.5px,#abd03f 95.5px,#7ec24a 96.5px,#71c375 97.5px,#5fc4c1 98.5px,#47bde0 99.5px,#3a88ce 101.5px,#3a77c4 102.5px,#3a6fbf 105.5px,#3a89ce 108.5px,#40b3e2 111.5px,#48bedf 112.5px,#61c4ba 114.5px,#71c478 116.5px,#77c04c 118.5px,#92c845 121.5px,#e1df33 124.5px,#f4e52c 126.5px,#f8d12a 129.5px,#ef632a 132.5px,#e73428 134.5px,#e62728 137.5px,#e62928 145.5px,#e62c28 146.5px,#e93f29 147.5px,#ee5f2a 148.5px,#f8ce2a 150.5px,#f6e62b 154.5px,#e5e032 166.5px,#d3dc36 174px)"></i><i style="background:linear-gradient(90deg,#c8d939 0px,#efe32e 15.5px,#f7e62a 22.5px,#f8d92a 24.5px,#f7bd2a 25.5px,#ed552a 27.5px,#e83628 28.5px,#e62828 30.5px,#e62b28 39.5px,#e73128 40.5px,#ee5f2a 42.5px,#f8d12a 45.5px,#f7e32a 47.5px,#eee32f 49.5px,#c4d83a 51.5px,#8bc646 53.5px,#75c153 56.5px,#6ec483 58.5px,#5dc3c3 60.5px,#43bce4 62.5px,#3a7fc9 67.5px,#3a77c4 69.5px,#3a7fc8 71.5px,#3a8ed1 72.5px,#3da8de 73.5px,#4ebfd7 74.5px,#5fc4c1 75.5px,#71c374 76.5px,#80c349 77.5px,#f1e42e 79.5px,#f8d72a 80.5px,#e62828 82.5px,#e62828 83.5px,#ea4129 84.5px,#f0e32e 85.5px,#6cc48c 86.5px,#80c349 87.5px,#f8ca2a 88.5px,#e62c28 89.5px,#e62728 90.5px,#e62d28 91.5px,#f6aa2a 92.5px,#f7e12a 93.5px,#e4e032 94.5px,#94c944 95.5px,#77c04c 96.5px,#69c49c 97.5px,#5ac2c7 98.5px,#42bce6 99.5px,#3a86cc 101.5px,#3a77c4 104.5px,#3a8dd0 107.5px,#40b5e3 110.5px,#48bede 111.5px,#62c4b9 113.5px,#71c477 115.5px,#77c04c 117.5px,#96c944 120.5px,#e6e131 123.5px,#f5e52b 125.5px,#f8d72a 127.5px,#f7c32a 128.5px,#ed532a 131.5px,#e62c28 133.5px,#e62728 142.5px,#e62c28 144.5px,#ea4229 145.5px,#ef682a 146.5px,#f8d32a 148.5px,#f6e62b 151.5px,#e6e131 162.5px,#c7d939 174px)"></i><i style="background:linear-gradient(90deg,#b9d43c 0px,#efe32e 18.5px,#f7e62a 24.5px,#f8d92a 26.5px,#f7bf2a 27.5px,#ed552a 29.5px,#e83628 30.5px,#e62828 32.5px,#e62a28 40.5px,#e62c28 41.5px,#ed532a 43.5px,#f7c62a 46.5px,#f7e12a 48.5px,#efe32f 50.5px,#c6d83a 52.5px,#8bc646 54.5px,#75c154 57.5px,#6ec485 59.5px,#5cc3c5 61.5px,#43bce4 63.5px,#3a85cc 68.5px,#3a83cb 71.5px,#3a8acf 72.5px,#46bde2 74.5px,#54c1d0 75.5px,#7ac14b 77.5px,#a4ce41 78.5px,#eee32f 79.5px,#f8da2a 80.5px,#e62828 82.5px,#e62828 83.5px,#e94029 84.5px,#efe32e 85.5px,#6ac495 86.5px,#7fc24a 87.5px,#f8cb2a 88.5px,#e62c28 89.5px,#e62728 90.5px,#e62e28 91.5px,#f6b02a 92.5px,#f7e52a 93.5px,#d6dd35 94.5px,#89c547 95.5px,#74c15d 96.5px,#62c4b9 97.5px,#51c0d4 98.5px,#40b2e2 99.5px,#3a97d6 100.5px,#3a86cc 101.5px,#3a82ca 104.5px,#3da7dd 108.5px,#48bedf 110.5px,#61c4bc 112.5px,#70c479 114.5px,#77c04c 116.5px,#96c944 119.5px,#e9e131 122.5px,#f6e62a 124.5px,#f8d42a 126.5px,#f4922a 128.5px,#ef662a 129.5px,#e73328 131.5px,#e62628 135.5px,#e62c28 142.5px,#ea4229 143.5px,#ef692a 144.5px,#f8d32a 146.5px,#f6e62a 149.5px,#e4e032 159.5px,#b8d43d 174px)"></i><i style="background:linear-gradient(90deg,#a9cf40 0px,#dbde34 15.5px,#efe32e 21.5px,#f7e62a 26.5px,#f8d92a 28.5px,#f7bf2a 29.5px,#ed542a 31.5px,#e73428 32.5px,#e62728 34.5px,#e62b28 42.5px,#e73428 43.5px,#f06b2a 45.5px,#f7bf2a 47.5px,#f8d72a 48.5px,#f5e52b 50.5px,#efe32f 51.5px,#c5d83a 53.5px,#8bc646 55.5px,#7ac14b 57.5px,#75c158 58.5px,#6dc48b 60.5px,#5bc3c7 62.5px,#42bce6 64.5px,#3a89ce 69.5px,#3a8bcf 72.5px,#40b4e3 74.5px,#50c0d4 75.5px,#67c4a1 76.5px,#75c052 77.5px,#91c845 78.5px,#e9e131 79.5px,#f8dc2a 80.5px,#e62828 82.5px,#e62828 83.5px,#e94029 84.5px,#efe32f 85.5px,#69c499 86.5px,#7ec24a 87.5px,#f8cc2a 88.5px,#e62c28 89.5px,#e62728 90.5px,#e62e28 91.5px,#f6b62a 92.5px,#f6e62b 93.5px,#cad939 94.5px,#83c448 95.5px,#72c36f 96.5px,#60c4c0 97.5px,#48bedf 98.5px,#3a93d4 100.5px,#3a87cd 102.5px,#3a93d4 105.5px,#40b4e3 108.5px,#47bde0 109.5px,#60c4c0 111.5px,#70c47c 113.5px,#76c04e 115.5px,#93c844 118.5px,#e9e131 121.5px,#f7e62a 123.5px,#f8d32a 125.5px,#f2862a 127.5px,#ee5a2a 128.5px,#e62d28 130.5px,#e62628 138.5px,#e62c28 140.5px,#e94029 141.5px,#ef682a 142.5px,#f8d32a 144.5px,#f6e62a 147.5px,#e8e131 155.5px,#acd03f 171.5px,#a8cf40 174px)"></i><i style="background:linear-gradient(90deg,#99ca43 0px,#bed63b 12.5px,#ede32f 22.5px,#f7e62a 28.5px,#f8d92a 30.5px,#f7be2a 31.5px,#ec4e29 33.5px,#e62d28 34.5px,#e62528 40.5px,#e62e28 44.5px,#ef632a 46.5px,#f7bc2a 48.5px,#f8d62a 49.5px,#f4e52b 51.5px,#eee32f 52.5px,#c0d73b 54.5px,#89c547 56.5px,#78c14b 58.5px,#71c374 60.5px,#63c4b4 62.5px,#4cbfda 64.5px,#42bae5 65.5px,#3a92d3 69.5px,#3a8dd0 72.5px,#3fade0 74.5px,#4ebfd6 75.5px,#5fc4c1 76.5px,#72c26a 77.5px,#88c547 78.5px,#dfdf33 79.5px,#f7de2a 80.5px,#e62828 82.5px,#e62728 83.5px,#e93d29 84.5px,#eee32f 85.5px,#68c49e 86.5px,#7dc24a 87.5px,#f8cd2a 88.5px,#e62b28 89.5px,#e62628 90.5px,#e62e28 91.5px,#f7ba2a 92.5px,#f4e52b 93.5px,#7dc24a 95.5px,#6ac494 96.5px,#5ac2c7 97.5px,#44bde3 98.5px,#3a92d3 100.5px,#3a8bcf 102.5px,#3da7dd 106.5px,#45bde2 108.5px,#5dc3c4 110.5px,#72c36b 113.5px,#75c153 114.5px,#8dc646 117.5px,#e6e032 120.5px,#f7e62a 122.5px,#f8d22a 124.5px,#ed542a 127.5px,#e83b29 128.5px,#e62c28 129.5px,#e62728 137.5px,#e62a28 138.5px,#e83829 139.5px,#ef602a 140.5px,#f8d32a 142.5px,#f6e62a 145.5px,#e3e032 153.5px,#a2cd41 168.5px,#98ca43 174px)"></i><i style="background:linear-gradient(90deg,#8bc646 0px,#9ccb42 8.5px,#cfdb37 19.5px,#efe32e 25.5px,#f7e62a 30.5px,#f8d92a 32.5px,#f6b52a 33.5px,#f06b2a 34.5px,#e93c29 35.5px,#e62a28 36.5px,#e62728 43.5px,#e62c28 45.5px,#ee5f2a 47.5px,#f7bc2a 49.5px,#f8d72a 50.5px,#f3e52c 52.5px,#ede22f 53.5px,#98ca43 56.5px,#7ec24a 58.5px,#76c04c 59.5px,#70c47b 61.5px,#61c4bd 63.5px,#49bedd 65.5px,#41b7e4 66.5px,#3a92d4 70.5px,#3a90d2 72.5px,#3a96d6 73.5px,#47bddf 75.5px,#54c1d0 76.5px,#70c47a 77.5px,#84c448 78.5px,#d7dd35 79.5px,#f7e02a 80.5px,#e62828 82.5px,#e62628 83.5px,#e73328 84.5px,#eee32f 85.5px,#67c4a3 86.5px,#7cc24a 87.5px,#f8cf2a 88.5px,#e62928 89.5px,#e62628 90.5px,#e62e28 91.5px,#f7be2a 92.5px,#f3e52c 93.5px,#b1d23e 94.5px,#78c14b 95.5px,#63c4b2 96.5px,#51c0d3 97.5px,#41b7e4 98.5px,#3a92d3 100.5px,#3a95d5 103.5px,#42bce5 107.5px,#59c2c8 109.5px,#6bc490 111.5px,#74c15b 113.5px,#79c14b 114.5px,#8ac547 116.5px,#e1df33 119.5px,#f6e62b 121.5px,#f8d32a 123.5px,#ec512a 126.5px,#e83728 127.5px,#e62928 129.5px,#e62828 136.5px,#e62c28 137.5px,#eb4b29 138.5px,#f8d12a 140.5px,#f6e62a 143.5px,#e6e131 150.5px,#a5ce41 162.5px,#8bc646 171.5px,#8bc646 174px)"></i><i style="background:linear-gradient(90deg,#86c448 0px,#93c844 11.5px,#bdd63c 19.5px,#ede22f 26.5px,#f7e62a 32.5px,#f7de2a 33.5px,#f7c92a 34.5px,#ec4e29 36.5px,#e62c28 37.5px,#e62628 43.5px,#e62c28 46.5px,#e94029 47.5px,#ef5f2a 48.5px,#f7c12a 50.5px,#f8d92a 51.5px,#f7e42a 52.5px,#e9e131 54.5px,#8dc646 57.5px,#7bc14b 59.5px,#75c155 60.5px,#6dc488 62.5px,#5cc3c5 64.5px,#45bde2 66.5px,#3a93d4 71.5px,#3a96d6 73.5px,#41b9e5 75.5px,#51c0d3 76.5px,#6fc47f 77.5px,#82c349 78.5px,#d2db37 79.5px,#f7e12a 80.5px,#e62928 82.5px,#e62d28 84.5px,#eee32f 85.5px,#66c4a7 86.5px,#7bc14b 87.5px,#f8d02a 88.5px,#e62728 89.5px,#e62728 90.5px,#e73528 91.5px,#f7c02a 92.5px,#f2e42d 93.5px,#aad040 94.5px,#77c04c 95.5px,#63c4b3 96.5px,#4abedc 97.5px,#3fafe1 98.5px,#3a94d5 100.5px,#3a9cd9 103.5px,#41b9e5 106.5px,#55c1ce 108.5px,#61c4bc 109.5px,#70c47a 111.5px,#76c04c 113.5px,#87c547 115.5px,#9aca43 116.5px,#d8dd35 118.5px,#eee32f 119.5px,#f7df2a 121.5px,#f8d42a 122.5px,#f6b02a 123.5px,#ec512a 125.5px,#e83628 126.5px,#e62828 128.5px,#e62a28 135.5px,#e83628 136.5px,#ef632a 137.5px,#f5a62a 138.5px,#f8d62a 139.5px,#f6e62a 141.5px,#e5e032 148.5px,#9ccb42 159.5px,#88c547 168.5px,#86c448 174px)"></i><i style="background:linear-gradient(90deg,#81c349 0px,#8ec746 15.5px,#d8dd35 25.5px,#eee32f 28.5px,#f6e62a 33.5px,#f8d92a 35.5px,#f6b22a 36.5px,#ee5c2a 37.5px,#e62d28 38.5px,#e62528 44.5px,#e62c28 47.5px,#ea4229 48.5px,#ef652a 49.5px,#f59e2a 50.5px,#f8cb2a 51.5px,#f6e62a 53.5px,#f0e32e 54.5px,#dfdf33 55.5px,#a0cc42 57.5px,#88c547 58.5px,#77c04c 60.5px,#71c477 62.5px,#62c4b7 64.5px,#42bce6 67.5px,#3a9ad8 71.5px,#3a99d7 73.5px,#40b4e3 75.5px,#50c0d4 76.5px,#6fc482 77.5px,#81c349 78.5px,#cfdb37 79.5px,#f7e22a 80.5px,#e62b28 82.5px,#e62728 83.5px,#e62d28 84.5px,#ede32f 85.5px,#65c4ac 86.5px,#7ac14b 87.5px,#f8d12a 88.5px,#e62728 89.5px,#e62828 90.5px,#e93f29 91.5px,#f7c22a 92.5px,#f2e42d 93.5px,#a6ce41 94.5px,#76c04d 95.5px,#63c4b4 96.5px,#48bddf 97.5px,#3b9dd9 99.5px,#3a9bd9 102.5px,#46bde1 106.5px,#5cc3c5 108.5px,#75c157 112.5px,#83c448 114.5px,#8cc646 115.5px,#eae230 118.5px,#f7e32a 120.5px,#f8d72a 121.5px,#f6b92a 122.5px,#ed542a 124.5px,#e83728 125.5px,#e62828 127.5px,#e62a28 134.5px,#e93e29 135.5px,#f27f2a 136.5px,#f8d02a 137.5px,#f7e42a 139.5px,#e7e131 146.5px,#98ca44 156.5px,#8ac547 160.5px,#81c349 174px)"></i><i style="background:linear-gradient(90deg,#7ec24a 0px,#8bc646 18.5px,#bcd53c 24.5px,#ede230 29.5px,#f7e62a 35.5px,#f7de2a 36.5px,#f7b92a 37.5px,#ee592a 38.5px,#e62c28 39.5px,#e62528 45.5px,#e62d28 48.5px,#eb4729 49.5px,#f0712a 50.5px,#f6ab2a 51.5px,#f8d42a 52.5px,#f4e52c 54.5px,#ede230 55.5px,#90c745 58.5px,#75c155 61.5px,#6ec486 63.5px,#5dc3c3 65.5px,#47bde0 67.5px,#3eacdf 69.5px,#3a9bd8 72.5px,#3ca1db 74.5px,#40b2e2 75.5px,#4fc0d5 76.5px,#6ec484 77.5px,#80c349 78.5px,#cdda38 79.5px,#f7e22a 80.5px,#e62c28 82.5px,#e62728 83.5px,#e62d28 84.5px,#ede22f 85.5px,#64c4b1 86.5px,#79c14b 87.5px,#f8d22a 88.5px,#e62728 89.5px,#e62828 90.5px,#ea4229 91.5px,#f7c32a 92.5px,#f1e42d 93.5px,#a3cd41 94.5px,#76c04f 95.5px,#63c4b4 96.5px,#46bde1 97.5px,#3b9dd9 99.5px,#3ba0da 102.5px,#42bbe6 105.5px,#61c4ba 108.5px,#70c47a 110.5px,#76c04c 112.5px,#88c547 114.5px,#9dcb42 115.5px,#ddde34 117.5px,#efe32e 118.5px,#f6e62a 119.5px,#f7c72a 121.5px,#ee5b2a 123.5px,#e83a29 124.5px,#e62b28 125.5px,#e62728 132.5px,#e62a28 133.5px,#e83929 134.5px,#f2802a 135.5px,#f8d42a 136.5px,#f7e22a 137.5px,#ece230 144.5px,#95c944 153.5px,#84c448 159.5px,#7ec24a 174px)"></i><i style="background:linear-gradient(90deg,#7cc24a 0px,#89c547 20.5px,#99ca43 23.5px,#ede230 30.5px,#f7e62a 36.5px,#f7de2a 37.5px,#f5a22a 38.5px,#ea4329 39.5px,#e62b28 40.5px,#e62728 47.5px,#e62f28 49.5px,#ec502a 50.5px,#f7bd2a 52.5px,#f8d92a 53.5px,#f7e62a 54.5px,#e0df33 56.5px,#9ecc42 58.5px,#88c547 59.5px,#77c04c 61.5px,#70c479 63.5px,#62c4b9 65.5px,#42bce6 68.5px,#3b9eda 72.5px,#3ca1db 74.5px,#3fb1e2 75.5px,#4fbfd5 76.5px,#6ec485 77.5px,#80c349 78.5px,#ccda38 79.5px,#f7e22a 80.5px,#e62c28 82.5px,#e62728 83.5px,#e62d28 84.5px,#ede230 85.5px,#62c4b6 86.5px,#79c14b 87.5px,#f8d22a 88.5px,#e62728 89.5px,#e62828 90.5px,#ea4329 91.5px,#f7c32a 92.5px,#f1e42d 93.5px,#a1cd41 94.5px,#75c050 95.5px,#63c4b4 96.5px,#46bde1 97.5px,#3b9fda 99.5px,#3ca4dc 102.5px,#46bde1 105.5px,#5cc3c6 107.5px,#74c159 111.5px,#7ac14b 112.5px,#8bc646 114.5px,#ece230 117.5px,#f7e12a 119.5px,#f8d42a 120.5px,#f6a92a 121.5px,#f06d2a 122.5px,#ea4229 123.5px,#e62c28 124.5px,#e62628 131.5px,#e62d28 133.5px,#ee5a2a 134.5px,#f8d02a 135.5px,#f7e22a 136.5px,#eae131 143.5px,#8cc646 151.5px,#7ec24a 166.5px,#7cc24a 174px)"></i><i style="background:linear-gradient(90deg,#79c14b 0px,#88c547 23.5px,#8cc646 24.5px,#ede22f 31.5px,#f7e12a 36.5px,#f7de2a 37.5px,#f6b12a 38.5px,#ed522a 39.5px,#e62d28 40.5px,#e62528 47.5px,#e62a28 49.5px,#e83929 50.5px,#ef612a 51.5px,#f5a32a 52.5px,#f8d32a 53.5px,#f3e52c 55.5px,#ece230 56.5px,#8bc646 59.5px,#7ac14b 61.5px,#71c371 63.5px,#5bc3c6 66.5px,#46bde1 68.5px,#3ca2db 72.5px,#3ca3dc 74.5px,#40b2e2 75.5px,#4fbfd5 76.5px,#6ec486 77.5px,#80c349 78.5px,#cbda38 79.5px,#f7e32a 80.5px,#e62c28 82.5px,#e62728 83.5px,#e62d28 84.5px,#ede230 85.5px,#62c4b9 86.5px,#78c14b 87.5px,#f8d22a 88.5px,#e62728 89.5px,#e62828 90.5px,#ea4329 91.5px,#f7c42a 92.5px,#f1e42d 93.5px,#a0cd42 94.5px,#75c051 95.5px,#63c4b5 96.5px,#46bde1 97.5px,#3eaadf 98.5px,#3ca1db 100.5px,#3fb1e1 103.5px,#42bbe5 104.5px,#60c4bf 107.5px,#6fc480 109.5px,#75c050 111.5px,#86c448 113.5px,#97c944 114.5px,#dadd35 116.5px,#efe32e 117.5px,#f6e62a 118.5px,#f8db2a 119.5px,#f7c22a 120.5px,#ec4f2a 122.5px,#e62d28 123.5px,#e62628 130.5px,#e62a28 132.5px,#e83828 133.5px,#f0722a 134.5px,#f8d42a 135.5px,#f7e22a 137.5px,#ebe230 142.5px,#8bc646 149.5px,#7cc24a 165.5px,#79c14b 174px)"></i><i style="background:linear-gradient(90deg,#77c04c 0px,#85c448 24.5px,#92c845 26.5px,#e8e131 31.5px,#f7e12a 35.5px,#f8d32a 37.5px,#f59d2a 38.5px,#ed552a 39.5px,#e73128 40.5px,#e62528 45.5px,#e62c28 50.5px,#eb4a29 51.5px,#f7c02a 53.5px,#f8db2a 54.5px,#f6e62b 55.5px,#eee32f 56.5px,#b7d43d 58.5px,#94c844 59.5px,#75c153 62.5px,#6ec483 64.5px,#5fc4c1 66.5px,#42bbe5 69.5px,#3da5dc 72.5px,#3ca5dc 74.5px,#40b2e2 75.5px,#4fbfd6 76.5px,#6ec486 77.5px,#80c349 78.5px,#cada38 79.5px,#f7e32a 80.5px,#e62c28 82.5px,#e62728 83.5px,#e62d28 84.5px,#ece230 85.5px,#61c4bb 86.5px,#78c04c 87.5px,#f8d22a 88.5px,#e62728 89.5px,#e62828 90.5px,#ea4329 91.5px,#f7c42a 92.5px,#f1e42d 93.5px,#a0cc42 94.5px,#75c052 95.5px,#63c4b5 96.5px,#45bde2 97.5px,#3eabdf 98.5px,#3ca3dc 100.5px,#44bde3 104.5px,#62c4b6 107.5px,#71c478 109.5px,#77c04c 111.5px,#88c547 113.5px,#a2cd41 114.5px,#e4e032 116.5px,#f7e32a 118.5px,#f8d62a 119.5px,#f6ab2a 120.5px,#ef682a 121.5px,#e83b29 122.5px,#e62a28 123.5px,#e62828 131.5px,#e62b28 132.5px,#e93e29 133.5px,#f06e2a 134.5px,#f6b62a 135.5px,#f8d62a 136.5px,#f5e52b 139.5px,#ede32f 141.5px,#8cc646 147.5px,#7fc24a 155.5px,#77c04c 174px)"></i><i style="background:linear-gradient(90deg,#75c050 0px,#83c448 25.5px,#8dc646 27.5px,#dfdf33 31.5px,#f2e42d 33.5px,#f7df2a 35.5px,#f8d62a 36.5px,#f7be2a 37.5px,#ed542a 39.5px,#e73528 40.5px,#e62828 42.5px,#e62a28 50.5px,#e83a29 51.5px,#ef692a 52.5px,#f6ad2a 53.5px,#f8d72a 54.5px,#f7e42a 55.5px,#f1e42e 56.5px,#e0df33 57.5px,#9ccb43 59.5px,#87c547 60.5px,#76c04d 62.5px,#70c47b 64.5px,#61c4ba 66.5px,#44bce4 69.5px,#3da5dc 73.5px,#3da6dd 74.5px,#3fb1e2 75.5px,#4fbfd6 76.5px,#6dc487 77.5px,#7fc349 78.5px,#cada38 79.5px,#f7e32a 80.5px,#e62c28 82.5px,#e62728 83.5px,#e62d28 84.5px,#ece230 85.5px,#61c4bc 86.5px,#77c04c 87.5px,#f8d22a 88.5px,#e62728 89.5px,#e62828 90.5px,#ea4329 91.5px,#f7c32a 92.5px,#f1e42d 93.5px,#9fcc42 94.5px,#75c152 95.5px,#62c4b6 96.5px,#45bde2 97.5px,#3eabdf 98.5px,#3da5dd 100.5px,#41b8e4 103.5px,#50c0d4 105.5px,#64c4af 107.5px,#74c15c 110.5px,#79c14b 111.5px,#8bc646 113.5px,#ece230 116.5px,#f7df2a 118.5px,#f8cf2a 119.5px,#ed522a 121.5px,#e62d28 122.5px,#e62528 128.5px,#e62c28 132.5px,#e94029 133.5px,#ef672a 134.5px,#f5a42a 135.5px,#f8ce2a 136.5px,#f5e52b 139.5px,#ebe230 141.5px,#97ca44 145.5px,#86c448 147.5px,#75c051 174px)"></i><i style="background:linear-gradient(90deg,#74c158 0px,#80c349 24.5px,#8ac646 28.5px,#ece230 32.5px,#f7e62a 34.5px,#f8d42a 36.5px,#f6b12a 37.5px,#ed522a 39.5px,#e83628 40.5px,#e62928 42.5px,#e62828 50.5px,#e62d28 51.5px,#ed562a 52.5px,#f59d2a 53.5px,#f8d32a 54.5px,#f7e12a 55.5px,#e6e131 57.5px,#a3cd41 59.5px,#89c547 60.5px,#77c04c 62.5px,#71c477 64.5px,#63c4b5 66.5px,#4fbfd6 68.5px,#41b7e4 70.5px,#3da6dd 73.5px,#3fafe1 75.5px,#4ebfd7 76.5px,#6dc487 77.5px,#7fc349 78.5px,#cbda38 79.5px,#f7e32a 80.5px,#e62c28 82.5px,#e62728 83.5px,#e62d28 84.5px,#ece230 85.5px,#61c4bd 86.5px,#77c04c 87.5px,#f8d32a 88.5px,#e62728 89.5px,#e62828 90.5px,#ea4329 91.5px,#f7c32a 92.5px,#f1e42d 93.5px,#a0cc42 94.5px,#75c152 95.5px,#62c4b6 96.5px,#43bce4 97.5px,#3da9de 98.5px,#3eabdf 101.5px,#42bbe6 103.5px,#5ec3c3 106.5px,#75c157 110.5px,#7ac14b 111.5px,#8ec746 113.5px,#d3dc36 115.5px,#eee32f 116.5px,#f5e52b 117.5px,#f8db2a 118.5px,#f7c02a 119.5px,#ea4429 121.5px,#e62b28 122.5px,#e62628 129.5px,#e62c28 132.5px,#e94029 133.5px,#ef612a 134.5px,#f4972a 135.5px,#f7c12a 136.5px,#f8d72a 137.5px,#f5e52b 139.5px,#e4e032 141.5px,#96c944 144.5px,#88c547 145.5px,#76c04f 164.5px,#74c159 174px)"></i><i style="background:linear-gradient(90deg,#73c262 0px,#74c158 4.5px,#81c349 27.5px,#8bc646 29.5px,#e8e131 32.5px,#f7e52a 34.5px,#f8d12a 36.5px,#ec4f2a 39.5px,#e83628 40.5px,#e62928 42.5px,#e62728 50.5px,#e62c28 51.5px,#eb4c29 52.5px,#f8cd2a 54.5px,#f7df2a 55.5px,#ebe230 57.5px,#8ac547 60.5px,#78c14b 62.5px,#71c375 64.5px,#64c4b1 66.5px,#50c0d4 68.5px,#41b9e5 70.5px,#3da8de 73.5px,#3faee0 75.5px,#4dbfd8 76.5px,#6dc487 77.5px,#80c349 78.5px,#ccda38 79.5px,#f7e22a 80.5px,#e62c28 82.5px,#e62728 83.5px,#e62d28 84.5px,#ece230 85.5px,#60c4bf 86.5px,#77c04c 87.5px,#f8d32a 88.5px,#e62728 89.5px,#e62828 90.5px,#ea4229 91.5px,#f7c22a 92.5px,#f1e42d 93.5px,#a2cd41 94.5px,#75c051 95.5px,#62c4b7 96.5px,#43bce5 97.5px,#3ea9de 98.5px,#3faee0 101.5px,#43bce5 103.5px,#5fc4c1 106.5px,#72c36c 109.5px,#75c154 110.5px,#92c845 113.5px,#d7dd35 115.5px,#efe32f 116.5px,#f6e62a 117.5px,#f8d92a 118.5px,#f6b52a 119.5px,#f06f2a 120.5px,#e83a29 121.5px,#e62a28 122.5px,#e62a28 131.5px,#e62c28 132.5px,#ee5b2a 134.5px,#f6b82a 136.5px,#f8d52a 137.5px,#f5e52b 139.5px,#efe32e 140.5px,#ddde34 141.5px,#9ccb42 143.5px,#88c547 144.5px,#75c153 160.5px,#74c15c 172.5px,#72c26a 174px)"></i><i style="background:linear-gradient(90deg,#69c498 0px,#6ec486 1.5px,#71c478 8.5px,#72c36c 13.5px,#75c155 15.5px,#80c349 27.5px,#84c448 29.5px,#96c944 30.5px,#e3e032 32.5px,#f7e52a 34.5px,#f7c92a 36.5px,#f06f2a 38.5px,#eb4c29 39.5px,#e73428 40.5px,#e62728 43.5px,#e62628 50.5px,#e62b28 51.5px,#ea4529 52.5px,#f7c62a 54.5px,#f7dd2a 55.5px,#f4e52c 56.5px,#ece230 57.5px,#8ac646 60.5px,#79c14b 62.5px,#71c373 64.5px,#5cc3c5 67.5px,#42bbe6 70.5px,#3eaade 74.5px,#3fb1e1 75.5px,#4ebfd7 76.5px,#6ec486 77.5px,#81c349 78.5px,#d0db37 79.5px,#f7e12a 80.5px,#e62c28 82.5px,#e62728 83.5px,#e62d28 84.5px,#ece230 85.5px,#60c4c0 86.5px,#77c04c 87.5px,#f8d32a 88.5px,#e62728 89.5px,#e62828 90.5px,#ea4229 91.5px,#f7c02a 92.5px,#f2e42d 93.5px,#a6ce40 94.5px,#76c04f 95.5px,#62c4b7 96.5px,#45bde2 97.5px,#3eabdf 98.5px,#3fafe1 101.5px,#44bde4 103.5px,#60c4bf 106.5px,#72c36b 109.5px,#75c153 110.5px,#94c944 113.5px,#dadd35 115.5px,#efe32e 116.5px,#f7e62a 117.5px,#f8d82a 118.5px,#f6af2a 119.5px,#ef652a 120.5px,#e73428 121.5px,#e62528 123.5px,#e62c28 132.5px,#ed562a 134.5px,#f6b12a 136.5px,#f8d42a 137.5px,#f5e52b 139.5px,#eee32f 140.5px,#d6dc36 141.5px,#8ac547 143.5px,#77c04c 152.5px,#75c156 158.5px,#72c36f 160.5px,#6fc482 171.5px,#6dc488 172.5px,#65c4a9 174px)"></i><i style="background:linear-gradient(90deg,#41b7e4 0px,#54c1cf 6.5px,#5ec3c3 12.5px,#63c4b3 13.5px,#6cc48e 14.5px,#70c47b 15.5px,#72c36e 17.5px,#74c15a 18.5px,#76c04c 22.5px,#81c349 29.5px,#8bc646 30.5px,#dedf33 32.5px,#f1e42d 33.5px,#f7e42a 34.5px,#f8d92a 35.5px,#f7c22a 36.5px,#ef672a 38.5px,#e73128 40.5px,#e62528 47.5px,#e62a28 51.5px,#ea4329 52.5px,#f7c52a 54.5px,#f7dd2a 55.5px,#f4e52c 56.5px,#ece230 57.5px,#8ac646 60.5px,#79c14b 62.5px,#71c373 64.5px,#5cc3c5 67.5px,#42bce6 70.5px,#3eabdf 74.5px,#41bae5 75.5px,#52c0d1 76.5px,#6fc481 77.5px,#83c448 78.5px,#d6dd35 79.5px,#f7df2a 80.5px,#e62b28 82.5px,#e62728 83.5px,#e62d28 84.5px,#ebe230 85.5px,#5fc4c1 86.5px,#76c04c 87.5px,#f8d32a 88.5px,#e62728 89.5px,#e62828 90.5px,#e93f29 91.5px,#f7bc2a 92.5px,#f3e52c 93.5px,#aed13f 94.5px,#77c04c 95.5px,#62c4b6 96.5px,#4ebfd6 97.5px,#3faee0 98.5px,#3fb0e1 101.5px,#44bde3 103.5px,#60c4bf 106.5px,#72c36b 109.5px,#75c153 110.5px,#94c944 113.5px,#dadd35 115.5px,#efe32e 116.5px,#f7e62a 117.5px,#f8d72a 118.5px,#f6ad2a 119.5px,#ef622a 120.5px,#e73128 121.5px,#e62528 124.5px,#e62c28 132.5px,#e83a29 133.5px,#ec522a 134.5px,#f8d22a 137.5px,#f5e52b 139.5px,#eee32f 140.5px,#d0db37 141.5px,#a5ce41 142.5px,#86c448 143.5px,#75c052 154.5px,#71c372 156.5px,#6fc47e 158.5px,#61c4bc 160.5px,#57c2cb 163.5px,#4abedc 171.5px,#40b2e2 174px)"></i><i style="background:linear-gradient(90deg,#3a70c0 0px,#3a92d3 3.5px,#3ea9de 12.5px,#42bce6 14.5px,#5dc3c4 17.5px,#6ac494 18.5px,#71c374 19.5px,#75c052 22.5px,#81c349 29.5px,#89c547 30.5px,#dbde34 32.5px,#f1e42d 33.5px,#f7e32a 34.5px,#f8d72a 35.5px,#f7b92a 36.5px,#ee5c2a 38.5px,#e62d28 40.5px,#e62628 50.5px,#e62b28 51.5px,#ea4629 52.5px,#f7c82a 54.5px,#f7de2a 55.5px,#ebe230 57.5px,#8ac547 60.5px,#78c14b 62.5px,#71c375 64.5px,#5bc3c6 67.5px,#42bce6 70.5px,#3eace0 73.5px,#3eade0 74.5px,#47bde0 75.5px,#5fc4c1 76.5px,#72c36e 77.5px,#88c547 78.5px,#e2df33 79.5px,#f7dc2a 80.5px,#e62928 82.5px,#e62d28 84.5px,#e7e131 85.5px,#5ec4c2 86.5px,#76c04f 87.5px,#f8d32a 88.5px,#e62728 89.5px,#e62728 90.5px,#e73528 91.5px,#f6b42a 92.5px,#f5e52b 93.5px,#7cc24a 95.5px,#69c499 96.5px,#5bc3c6 97.5px,#3fb1e1 98.5px,#3fb1e1 101.5px,#44bde3 103.5px,#60c4c0 106.5px,#72c36c 109.5px,#75c155 110.5px,#92c845 113.5px,#d8dd35 115.5px,#efe32e 116.5px,#f7e62a 117.5px,#f8d82a 118.5px,#f6b02a 119.5px,#ef672a 120.5px,#e73428 121.5px,#e62528 123.5px,#e62c28 132.5px,#e73528 133.5px,#eb4c29 134.5px,#f06e2a 135.5px,#f8cb2a 137.5px,#f6e52b 139.5px,#ede32f 140.5px,#cbda38 141.5px,#9bcb43 142.5px,#85c448 143.5px,#75c153 151.5px,#70c47a 154.5px,#65c4ac 155.5px,#57c2cb 156.5px,#41b7e4 159.5px,#3ca3dc 162.5px,#3a8fd2 170.5px,#3a6ebe 174px)"></i><i style="background:linear-gradient(90deg,#3b56a8 0px,#3a67b8 7.5px,#3a6fbf 13.5px,#3a89ce 16.5px,#3fb0e1 18.5px,#56c1cc 19.5px,#6ac494 20.5px,#72c268 21.5px,#76c04f 23.5px,#85c448 30.5px,#a3cd41 31.5px,#d9dd35 32.5px,#f1e42d 33.5px,#f7e12a 34.5px,#f8d52a 35.5px,#f6ae2a 36.5px,#ed542a 38.5px,#e62c28 40.5px,#e62728 50.5px,#e62c28 51.5px,#ec4d29 52.5px,#f8d12a 54.5px,#f7e02a 55.5px,#e7e131 57.5px,#a3cd41 59.5px,#89c547 60.5px,#77c04c 62.5px,#71c477 64.5px,#63c4b3 66.5px,#50c0d4 68.5px,#42bbe5 70.5px,#3eacdf 73.5px,#3eade0 74.5px,#48bddf 75.5px,#67c4a2 76.5px,#75c155 77.5px,#93c844 78.5px,#ede32f 79.5px,#f8d62a 80.5px,#f1782a 81.5px,#e62828 82.5px,#e62728 83.5px,#ed542a 84.5px,#ceda38 85.5px,#5bc3c7 86.5px,#74c15c 87.5px,#f7e12a 88.5px,#e62b28 89.5px,#e62628 90.5px,#e62d28 91.5px,#f5a52a 92.5px,#f7e32a 93.5px,#d0db37 94.5px,#83c349 95.5px,#71c372 96.5px,#61c4bd 97.5px,#3fb1e1 98.5px,#3fb0e1 101.5px,#44bce4 103.5px,#5fc4c2 106.5px,#75c158 110.5px,#7ac14b 111.5px,#8dc646 113.5px,#d4dc36 115.5px,#eee32f 116.5px,#f6e62b 117.5px,#f8da2a 118.5px,#f6b92a 119.5px,#f0722a 120.5px,#e93c29 121.5px,#e62a28 122.5px,#e62928 131.5px,#e63028 133.5px,#ef612a 135.5px,#f7c02a 137.5px,#f8d92a 138.5px,#f6e62a 139.5px,#eee32f 140.5px,#c6d939 141.5px,#8bc646 142.5px,#7fc24a 145.5px,#75c052 150.5px,#74c15c 151.5px,#71c375 152.5px,#65c4ad 153.5px,#49bedd 154.5px,#3a92d3 156.5px,#3a6ebe 160.5px,#3b5cad 171.5px,#3b56a8 174px)"></i><i style="background:linear-gradient(90deg,#3b56a7 0px,#3b5bad 17.5px,#3b60b2 18.5px,#3b9eda 19.5px,#5fc4c1 20.5px,#70c479 21.5px,#74c15c 22.5px,#7ac14b 25.5px,#81c349 30.5px,#9ccb42 31.5px,#dbde34 32.5px,#f3e42c 33.5px,#f8cf2a 35.5px,#f06c2a 37.5px,#eb4a29 38.5px,#e73428 39.5px,#e62828 42.5px,#e62828 50.5px,#e62e28 51.5px,#ee582a 52.5px,#f5a22a 53.5px,#f8d52a 54.5px,#f7e32a 55.5px,#f1e42d 56.5px,#e1df33 57.5px,#9ccb43 59.5px,#87c547 60.5px,#76c04e 62.5px,#70c47c 64.5px,#62c4b9 66.5px,#46bde1 69.5px,#3eabdf 73.5px,#3eabdf 74.5px,#48bddf 75.5px,#6bc492 76.5px,#78c14b 77.5px,#a9cf40 78.5px,#f2e42d 79.5px,#f6b62a 80.5px,#ef652a 81.5px,#e62828 82.5px,#e62928 83.5px,#f7bd2a 84.5px,#a3cd41 85.5px,#56c1cc 86.5px,#72c36d 87.5px,#eee32f 88.5px,#ed562a 89.5px,#e62728 90.5px,#e62d28 91.5px,#f1782a 92.5px,#f8d92a 93.5px,#e3e032 94.5px,#88c547 95.5px,#73c263 96.5px,#62c4b6 97.5px,#3fb0e1 98.5px,#3fafe1 101.5px,#42bce6 103.5px,#5cc3c5 106.5px,#74c15c 110.5px,#79c14b 111.5px,#8ac646 113.5px,#ece230 116.5px,#f4e52c 117.5px,#f7dd2a 118.5px,#f7c52a 119.5px,#ea4629 121.5px,#e62b28 122.5px,#e62628 129.5px,#e62c28 133.5px,#ed552a 135.5px,#f6b22a 137.5px,#f8d62a 138.5px,#f7e42a 139.5px,#efe32f 140.5px,#c6d939 141.5px,#88c547 142.5px,#75c153 150.5px,#73c266 151.5px,#6bc491 152.5px,#4ebfd7 153.5px,#3a72c1 154.5px,#3b5eaf 155.5px,#3b56a8 162.5px,#3b56a7 174px)"></i><i style="background:linear-gradient(90deg,#3b57a8 0px,#3b5aac 16.5px,#3b62b3 18.5px,#3b9fda 19.5px,#5fc4c1 20.5px,#70c479 21.5px,#74c15c 22.5px,#7ac14b 25.5px,#81c349 30.5px,#a3cd41 31.5px,#e5e032 32.5px,#f5e52b 33.5px,#f8d92a 34.5px,#f7bc2a 35.5px,#ee592a 37.5px,#e62d28 39.5px,#e62628 49.5px,#e62a28 50.5px,#e83b29 51.5px,#f06e2a 52.5px,#f6b32a 53.5px,#f8d92a 54.5px,#f7e62a 55.5px,#efe32e 56.5px,#d8dd35 57.5px,#92c845 59.5px,#75c154 62.5px,#6ec484 64.5px,#60c4c0 66.5px,#44bde3 69.5px,#3ea9de 73.5px,#3eaadf 74.5px,#47bddf 75.5px,#6dc489 76.5px,#7cc24a 77.5px,#f6e62b 79.5px,#ea4529 81.5px,#e62728 82.5px,#e62b28 83.5px,#f8d82a 84.5px,#8bc646 85.5px,#53c1d1 86.5px,#71c478 87.5px,#dcde34 88.5px,#f2842a 89.5px,#e62728 90.5px,#e62b28 91.5px,#ec512a 92.5px,#f8d12a 93.5px,#ede32f 94.5px,#8fc745 95.5px,#74c159 96.5px,#63c4b1 97.5px,#3faee0 98.5px,#3eade0 101.5px,#41b9e5 103.5px,#59c2c8 106.5px,#63c4b5 107.5px,#70c479 109.5px,#77c04c 111.5px,#88c547 113.5px,#a1cd42 114.5px,#e5e032 116.5px,#f7e12a 118.5px,#f8d32a 119.5px,#f59b2a 120.5px,#ed542a 121.5px,#e62d28 122.5px,#e62528 127.5px,#e62b28 133.5px,#e73328 134.5px,#eb4929 135.5px,#f06b2a 136.5px,#f8d02a 138.5px,#f7df2a 139.5px,#f1e42d 140.5px,#cfdb37 141.5px,#89c547 142.5px,#75c050 149.5px,#75c154 150.5px,#73c266 151.5px,#6bc490 152.5px,#4ebfd6 153.5px,#3a74c2 154.5px,#3b60b1 155.5px,#3b57a8 162.5px,#3b57a9 174px)"></i><i style="background:linear-gradient(90deg,#3a7dc8 0px,#3a73c2 4.5px,#3a7ec8 13.5px,#3b9ed9 16.5px,#41b9e5 18.5px,#59c2c9 19.5px,#6bc492 20.5px,#72c268 21.5px,#75c158 22.5px,#7ac14b 25.5px,#87c547 30.5px,#efe32e 32.5px,#f7e22a 33.5px,#f8d32a 34.5px,#f06e2a 36.5px,#eb4a29 37.5px,#e73428 38.5px,#e62828 41.5px,#e62828 49.5px,#e62c28 50.5px,#ec4c29 51.5px,#f7c92a 53.5px,#f7de2a 54.5px,#f4e52c 55.5px,#ece230 56.5px,#8bc646 59.5px,#79c14b 61.5px,#71c373 63.5px,#5cc3c5 66.5px,#42bbe6 69.5px,#3da8de 73.5px,#3ea9de 74.5px,#4abedc 75.5px,#6ec483 76.5px,#7fc24a 77.5px,#c6d939 78.5px,#f7e42a 79.5px,#e62f28 81.5px,#e62728 82.5px,#e62c28 83.5px,#f7dd2a 84.5px,#87c547 85.5px,#51c0d4 86.5px,#6fc481 87.5px,#ceda38 88.5px,#f59d2a 89.5px,#e62728 90.5px,#e62928 91.5px,#eb4629 92.5px,#f7c72a 93.5px,#f0e32e 94.5px,#9ccb43 95.5px,#75c052 96.5px,#64c4ae 97.5px,#40b2e2 98.5px,#3da8de 100.5px,#44bde3 104.5px,#60c4bf 107.5px,#72c36a 110.5px,#75c153 111.5px,#85c448 113.5px,#95c944 114.5px,#dade34 116.5px,#efe32e 117.5px,#f7e62a 118.5px,#f8d82a 119.5px,#f6b22a 120.5px,#f06e2a 121.5px,#e93c29 122.5px,#e62a28 123.5px,#e62828 132.5px,#e62c28 134.5px,#ed552a 136.5px,#f6b82a 138.5px,#f8d92a 139.5px,#f5e52b 140.5px,#e3e032 141.5px,#9ecc42 142.5px,#84c448 143.5px,#76c04c 149.5px,#74c15c 151.5px,#71c375 152.5px,#65c4aa 153.5px,#4cbfd9 154.5px,#40b2e2 155.5px,#3a82ca 159.5px,#3a73c2 168.5px,#3a78c5 172.5px,#3a82ca 174px)"></i><i style="background:linear-gradient(90deg,#48bede 0px,#47bde0 11.5px,#4fc0d5 14.5px,#58c2ca 15.5px,#67c4a3 16.5px,#6cc48b 17.5px,#75c156 21.5px,#7cc24a 25.5px,#86c448 29.5px,#abd03f 30.5px,#e3e032 31.5px,#f5e52b 32.5px,#f8d92a 33.5px,#f6b82a 34.5px,#ed542a 36.5px,#e83b29 37.5px,#e62c28 38.5px,#e62628 48.5px,#e62a28 49.5px,#e83828 50.5px,#ef662a 51.5px,#f6ab2a 52.5px,#f8d62a 53.5px,#f7e42a 54.5px,#f1e42d 55.5px,#e0df33 56.5px,#9ccb43 58.5px,#87c547 59.5px,#76c04e 61.5px,#70c47c 63.5px,#61c4ba 65.5px,#45bde2 68.5px,#3da7dd 72.5px,#3eabdf 74.5px,#4ebfd6 75.5px,#70c47d 76.5px,#82c349 77.5px,#d0db37 78.5px,#f7e12a 79.5px,#e62c28 81.5px,#e62728 82.5px,#e62c28 83.5px,#f7e02a 84.5px,#85c448 85.5px,#4fbfd6 86.5px,#6dc488 87.5px,#c6d939 88.5px,#f5a72a 89.5px,#e62728 90.5px,#e62828 91.5px,#ea4329 92.5px,#f7c02a 93.5px,#f2e42d 94.5px,#a7cf40 95.5px,#76c04c 96.5px,#65c4ac 97.5px,#42bbe5 98.5px,#3da7dd 99.5px,#40b2e2 103.5px,#42bae5 104.5px,#5cc3c6 107.5px,#74c15c 111.5px,#79c14b 112.5px,#8bc646 114.5px,#ece230 117.5px,#f7de2a 119.5px,#f8cc2a 120.5px,#ec502a 122.5px,#e62d28 123.5px,#e62528 129.5px,#e62e28 135.5px,#ef622a 137.5px,#f8cd2a 139.5px,#f7df2a 140.5px,#f1e42d 141.5px,#cedb37 142.5px,#92c845 143.5px,#83c448 144.5px,#76c050 151.5px,#6cc48f 156.5px,#62c4b9 157.5px,#54c1cf 158.5px,#47bde0 162.5px,#47bde0 172.5px,#49bedd 174px)"></i><i style="background:linear-gradient(90deg,#6ec484 0px,#70c47b 13.5px,#71c371 15.5px,#75c153 17.5px,#81c349 28.5px,#99ca43 29.5px,#d8dd35 30.5px,#f2e42c 31.5px,#f7dd2a 32.5px,#f7c52a 33.5px,#ee5a2a 35.5px,#e62d28 37.5px,#e62628 47.5px,#e62d28 49.5px,#ec502a 50.5px,#f7c92a 52.5px,#f7dd2a 53.5px,#f4e52b 54.5px,#ede22f 55.5px,#8cc646 58.5px,#7ac14b 60.5px,#71c371 62.5px,#5cc3c5 65.5px,#41bae5 68.5px,#3ca4dc 72.5px,#3fade0 74.5px,#51c0d3 75.5px,#70c478 76.5px,#85c448 77.5px,#dbde34 78.5px,#f7de2a 79.5px,#e62c28 81.5px,#e62728 82.5px,#e62d28 83.5px,#f7e22a 84.5px,#83c448 85.5px,#4dbfd8 86.5px,#6cc48d 87.5px,#c0d73b 88.5px,#f6ae2a 89.5px,#e62728 90.5px,#e62828 91.5px,#ea4129 92.5px,#f6b72a 93.5px,#f4e52c 94.5px,#79c14b 96.5px,#65c4a9 97.5px,#45bde2 98.5px,#3da6dd 99.5px,#3fade0 103.5px,#43bce4 105.5px,#61c4bd 108.5px,#6fc47f 110.5px,#76c050 112.5px,#86c448 114.5px,#99ca43 115.5px,#ddde34 117.5px,#f0e32e 118.5px,#f7e52a 119.5px,#f8d82a 120.5px,#f6b32a 121.5px,#f0722a 122.5px,#e94029 123.5px,#e62b28 124.5px,#e62728 132.5px,#e73228 136.5px,#eb4929 137.5px,#f06d2a 138.5px,#f5a62a 139.5px,#f8d42a 140.5px,#f7e32a 141.5px,#eee32f 142.5px,#c2d73a 143.5px,#87c547 144.5px,#75c051 155.5px,#75c154 156.5px,#71c374 158.5px,#6ec485 167.5px,#6ec483 174px)"></i><i style="background:linear-gradient(90deg,#74c158 0px,#7dc24a 22.5px,#81c349 27.5px,#8ac547 28.5px,#cada38 29.5px,#f1e42d 30.5px,#f7de2a 31.5px,#f7c92a 32.5px,#ee5c2a 34.5px,#e62d28 36.5px,#e62628 46.5px,#e62c28 48.5px,#ea4629 49.5px,#f1792a 50.5px,#f6b62a 51.5px,#f8d82a 52.5px,#f7e52a 53.5px,#f0e32e 54.5px,#dede34 55.5px,#9acb43 57.5px,#86c448 58.5px,#76c04f 60.5px,#70c47e 62.5px,#61c4bd 64.5px,#42bce5 67.5px,#3ca3dc 71.5px,#3ca2db 73.5px,#41b7e4 74.5px,#57c2cc 75.5px,#71c372 76.5px,#89c547 77.5px,#eae230 78.5px,#f8d82a 79.5px,#f17a2a 80.5px,#e62b28 81.5px,#e62728 82.5px,#e62e28 83.5px,#f7e42a 84.5px,#82c349 85.5px,#4cbfda 86.5px,#6bc493 87.5px,#b9d53c 88.5px,#f6b62a 89.5px,#e62828 90.5px,#e62828 91.5px,#e93e29 92.5px,#f5a82a 93.5px,#f7e52a 94.5px,#c5d83a 95.5px,#7cc24a 96.5px,#66c4a5 97.5px,#51c0d3 98.5px,#3da6dd 99.5px,#3ca4dc 102.5px,#46bde1 106.5px,#5ac2c8 108.5px,#6bc492 110.5px,#74c15d 112.5px,#78c14b 113.5px,#8ac646 115.5px,#eae230 118.5px,#f7e02a 120.5px,#f8d32a 121.5px,#f5a22a 122.5px,#ee5e2a 123.5px,#e83728 124.5px,#e62a28 125.5px,#e62828 134.5px,#e73228 137.5px,#eb4a29 138.5px,#f0712a 139.5px,#f6aa2a 140.5px,#f8d52a 141.5px,#f7e52a 142.5px,#ece230 143.5px,#aad03f 144.5px,#85c448 145.5px,#75c152 162.5px,#74c158 174px)"></i><i style="background:linear-gradient(90deg,#76c04d 0px,#81c349 23.5px,#98ca43 26.5px,#a4ce41 27.5px,#d4dc36 28.5px,#f2e42d 29.5px,#f7dd2a 30.5px,#f7c22a 31.5px,#ed572a 33.5px,#e93c29 34.5px,#e62c28 35.5px,#e62828 46.5px,#e62b28 47.5px,#ea4129 48.5px,#f06d2a 49.5px,#f6ab2a 50.5px,#f8d52a 51.5px,#f2e42d 53.5px,#e8e131 54.5px,#8ac547 57.5px,#78c14b 59.5px,#71c376 61.5px,#63c4b4 63.5px,#4ebfd7 65.5px,#44bde3 66.5px,#3ba0da 70.5px,#3ca1db 73.5px,#45bde2 74.5px,#63c4b4 75.5px,#74c15d 76.5px,#99ca43 77.5px,#f1e42d 78.5px,#f7b92a 79.5px,#ef672a 80.5px,#e62928 81.5px,#e62628 82.5px,#e73428 83.5px,#f6e62b 84.5px,#7fc349 85.5px,#4abedc 86.5px,#69c49a 87.5px,#afd13f 88.5px,#f7c42a 89.5px,#e62828 90.5px,#e62728 91.5px,#e73428 92.5px,#f17a2a 93.5px,#f8da2a 94.5px,#dade34 95.5px,#83c448 96.5px,#60c4bf 98.5px,#3da7dd 99.5px,#3b9eda 102.5px,#41b8e4 106.5px,#52c0d2 108.5px,#5dc3c3 109.5px,#75c155 113.5px,#92c845 116.5px,#d6dc36 118.5px,#eee32f 119.5px,#f5e52b 120.5px,#f7dc2a 121.5px,#f7c92a 122.5px,#ed562a 124.5px,#e73428 125.5px,#e62728 127.5px,#e62b28 137.5px,#e62f28 138.5px,#ea4629 139.5px,#f0692a 140.5px,#f8d42a 142.5px,#f7e32a 143.5px,#eee32f 144.5px,#bcd63c 145.5px,#9fcc42 146.5px,#80c349 150.5px,#76c04e 174px)"></i><i style="background:linear-gradient(90deg,#79c14b 0px,#80c349 19.5px,#9fcc42 23.5px,#dcde34 25.5px,#ede230 26.5px,#f7e42a 28.5px,#f8d62a 29.5px,#f6ad2a 30.5px,#f1742a 31.5px,#eb4c29 32.5px,#e73328 33.5px,#e62728 37.5px,#e62c28 46.5px,#ea4129 47.5px,#f06a2a 48.5px,#f5a62a 49.5px,#f8d32a 50.5px,#f4e52c 52.5px,#ede230 53.5px,#8dc646 56.5px,#7ac14b 58.5px,#74c158 59.5px,#5bc3c6 63.5px,#45bde2 65.5px,#3a99d7 70.5px,#3b9eda 73.5px,#47bddf 74.5px,#6bc492 75.5px,#79c14b 76.5px,#f5e52b 78.5px,#ea4429 80.5px,#e62728 81.5px,#e62728 82.5px,#ec502a 83.5px,#f2e42d 84.5px,#7cc24a 85.5px,#48bedf 86.5px,#67c4a3 87.5px,#9fcc42 88.5px,#f8d72a 89.5px,#e62a28 90.5px,#e62b28 92.5px,#ec512a 93.5px,#f8d22a 94.5px,#ede230 95.5px,#8bc646 96.5px,#73c262 97.5px,#63c4b3 98.5px,#3ea9de 99.5px,#3a99d7 101.5px,#3b9fda 104.5px,#41b9e5 107.5px,#60c4c0 110.5px,#6fc47e 112.5px,#76c04e 114.5px,#87c547 116.5px,#9bcb43 117.5px,#ddde34 119.5px,#f0e32e 120.5px,#f7e62a 121.5px,#f8da2a 122.5px,#f7c32a 123.5px,#ed552a 125.5px,#e73528 126.5px,#e62728 128.5px,#e62c28 139.5px,#e93c29 140.5px,#ee572a 141.5px,#f7c12a 143.5px,#f8db2a 144.5px,#f5e52b 145.5px,#e8e131 147.5px,#d4dc36 148.5px,#afd13e 149.5px,#9ccb43 150.5px,#80c349 154.5px,#79c14b 174px)"></i><i style="background:linear-gradient(90deg,#7dc24a 0px,#7fc24a 6.5px,#94c944 13.5px,#a5ce41 19.5px,#e0df33 21.5px,#f0e32e 23.5px,#f8db2a 26.5px,#f8d32a 27.5px,#f6b02a 28.5px,#ed522a 30.5px,#e83929 31.5px,#e62c28 32.5px,#e62728 43.5px,#e62d28 45.5px,#ea4629 46.5px,#f06f2a 47.5px,#f5a82a 48.5px,#f8d32a 49.5px,#f4e52b 51.5px,#ede32f 52.5px,#b5d33d 54.5px,#92c845 55.5px,#75c154 58.5px,#6dc487 60.5px,#5cc3c5 62.5px,#45bde2 64.5px,#3a93d4 69.5px,#3a93d4 72.5px,#3b9dd9 73.5px,#4abedb 74.5px,#6fc482 75.5px,#80c349 76.5px,#cad939 77.5px,#f7e32a 78.5px,#e62c28 80.5px,#e62928 82.5px,#f3912a 83.5px,#ece230 84.5px,#78c14b 85.5px,#46bde1 86.5px,#64c4ae 87.5px,#8cc646 88.5px,#f7e22a 89.5px,#ea4329 90.5px,#e62728 91.5px,#e62828 92.5px,#ea4329 93.5px,#f7c52a 94.5px,#f1e42d 95.5px,#9fcc42 96.5px,#75c051 97.5px,#64c4af 98.5px,#3fb1e1 99.5px,#3a96d6 100.5px,#3a90d2 103.5px,#3eade0 107.5px,#41b9e5 108.5px,#55c1ce 110.5px,#61c4bc 111.5px,#70c47a 113.5px,#77c04c 115.5px,#88c547 117.5px,#a0cc42 118.5px,#e1df33 120.5px,#f7e62a 122.5px,#f8da2a 123.5px,#f7c32a 124.5px,#ee5a2a 126.5px,#e83a29 127.5px,#e62b28 128.5px,#e62728 138.5px,#e62d28 141.5px,#ef612a 143.5px,#f7c02a 145.5px,#f8d62a 146.5px,#f7e62a 148.5px,#eae230 151.5px,#d9dd35 152.5px,#b6d33d 153.5px,#a3cd41 154.5px,#7dc24a 169.5px,#7cc24a 174px)"></i><i style="background:linear-gradient(90deg,#8fc745 0px,#9bcb43 6.5px,#d3dc36 8.5px,#e9e131 11.5px,#f7e62a 20.5px,#f8d52a 23.5px,#f7c62a 24.5px,#f38e2a 26.5px,#eb4c29 28.5px,#e73528 29.5px,#e62928 31.5px,#e62828 42.5px,#e73528 44.5px,#ec502a 45.5px,#f6b02a 47.5px,#f8d52a 48.5px,#f4e52c 50.5px,#ede32f 51.5px,#b6d43d 53.5px,#94c944 54.5px,#75c152 57.5px,#6ec486 59.5px,#5cc3c5 61.5px,#45bde3 63.5px,#3a8cd0 68.5px,#3a88ce 71.5px,#3a8dd0 72.5px,#3b9fda 73.5px,#4cbfda 74.5px,#70c478 75.5px,#85c448 76.5px,#dcde34 77.5px,#f7de2a 78.5px,#e62928 80.5px,#e62a28 82.5px,#f7bb2a 83.5px,#d9dd35 84.5px,#75c153 85.5px,#43bce4 86.5px,#62c4b9 87.5px,#86c448 88.5px,#f4e52c 89.5px,#ef622a 90.5px,#e62728 91.5px,#e62728 92.5px,#e83628 93.5px,#f6b82a 94.5px,#f4e52b 95.5px,#79c14b 97.5px,#65c4ad 98.5px,#41b6e3 99.5px,#3a94d5 100.5px,#3a86cc 103.5px,#3ca1db 107.5px,#41b7e4 109.5px,#55c1ce 111.5px,#61c4bc 112.5px,#70c479 114.5px,#77c04c 116.5px,#89c547 118.5px,#e1df33 121.5px,#f7e62a 123.5px,#f8cb2a 125.5px,#f59f2a 126.5px,#ef682a 127.5px,#ea4529 128.5px,#e62d28 129.5px,#e62628 138.5px,#e62c28 143.5px,#ed552a 145.5px,#f59c2a 147.5px,#f8d02a 149.5px,#f6e52b 153.5px,#e3e032 163.5px,#ccda38 165.5px,#aad040 166.5px,#99ca43 167.5px,#8ec745 174px)"></i><i style="background:linear-gradient(90deg,#eae230 0px,#f7e22a 9.5px,#f8d42a 17.5px,#f8cd2a 18.5px,#ed572a 24.5px,#e62c28 27.5px,#e62828 40.5px,#e62e28 42.5px,#ef632a 44.5px,#f7bf2a 46.5px,#f8d82a 47.5px,#f3e52c 49.5px,#ece230 50.5px,#92c845 53.5px,#75c154 56.5px,#6dc488 58.5px,#5bc3c6 60.5px,#43bce5 62.5px,#3a86cc 67.5px,#3a7cc7 70.5px,#3a8ed1 72.5px,#3eaade 73.5px,#4ebfd7 74.5px,#72c36e 75.5px,#8dc646 76.5px,#eee32f 77.5px,#f8d62a 78.5px,#f17a2a 79.5px,#e62828 80.5px,#e62728 81.5px,#e73228 82.5px,#f8d62a 83.5px,#c5d83a 84.5px,#74c25e 85.5px,#42bbe5 86.5px,#5fc4c2 87.5px,#81c349 88.5px,#efe32e 89.5px,#f4952a 90.5px,#e62928 91.5px,#e62e28 93.5px,#f5a62a 94.5px,#f7e22a 95.5px,#d0db37 96.5px,#7fc349 97.5px,#66c4a8 98.5px,#44bce4 99.5px,#3a87cd 101.5px,#3a7dc8 104.5px,#3b9dd9 108.5px,#40b4e3 110.5px,#47bde0 111.5px,#60c4bf 113.5px,#70c47a 115.5px,#77c04c 117.5px,#88c547 119.5px,#9fcc42 120.5px,#ddde34 122.5px,#efe32e 123.5px,#f7de2a 125.5px,#f8d32a 126.5px,#f6af2a 127.5px,#ed552a 129.5px,#e83b29 130.5px,#e62c28 131.5px,#e62828 143.5px,#e62f28 146.5px,#f0712a 150.5px,#f8d22a 155.5px,#f2e42d 166.5px,#eae131 174px)"></i><i style="background:linear-gradient(90deg,#f7dc2a 0px,#f8d42a 6.5px,#f4982a 10.5px,#f06f2a 16.5px,#e83929 20.5px,#e62c28 23.5px,#e62a28 38.5px,#e73028 40.5px,#ee5a2a 42.5px,#f8d32a 45.5px,#f7e62a 47.5px,#e6e131 49.5px,#8cc646 52.5px,#7ac14b 54.5px,#75c158 55.5px,#6cc48e 57.5px,#63c4b2 58.5px,#4bbedb 60.5px,#41b8e4 61.5px,#3a7ec8 66.5px,#3a71c1 69.5px,#3a7ec8 71.5px,#3a9bd8 72.5px,#44bde3 73.5px,#62c4b8 74.5px,#76c04c 75.5px,#f5e52b 77.5px,#f6b12a 78.5px,#ea4629 79.5px,#e62728 80.5px,#e62828 81.5px,#ed552a 82.5px,#f7e02a 83.5px,#aed13f 84.5px,#72c36a 85.5px,#41b7e4 86.5px,#5ac2c8 87.5px,#7cc24a 88.5px,#e3e032 89.5px,#f7c32a 90.5px,#e62d28 91.5px,#e62728 92.5px,#e62a28 93.5px,#ef662a 94.5px,#f8d62a 95.5px,#ede22f 96.5px,#8bc646 97.5px,#71c375 98.5px,#57c2cb 99.5px,#3fafe1 100.5px,#3a8dd1 101.5px,#3a78c5 102.5px,#3a74c3 105.5px,#3a97d6 109.5px,#44bce4 112.5px,#5dc3c3 114.5px,#6fc480 116.5px,#76c04e 118.5px,#87c547 120.5px,#98ca43 121.5px,#d6dc36 123.5px,#ede22f 124.5px,#f7e22a 126.5px,#f7c52a 128.5px,#ec502a 131.5px,#e62d28 133.5px,#e62828 146.5px,#e73428 152.5px,#f0732a 157.5px,#f59d2a 163.5px,#f8cf2a 166.5px,#f7dc2a 174px)"></i><i style="background:linear-gradient(90deg,#f3902a 0px,#f2802a 4.5px,#e93e29 9.5px,#e62928 19.5px,#e62b28 36.5px,#e62d28 37.5px,#ef622a 40.5px,#f8cc2a 43.5px,#f7e22a 45.5px,#eee32f 47.5px,#c0d73b 49.5px,#89c547 51.5px,#78c14b 53.5px,#71c477 55.5px,#61c4bd 57.5px,#46bde1 59.5px,#3a96d6 62.5px,#3a6fbf 66.5px,#3a6fbf 70.5px,#3a85cc 71.5px,#3fb0e1 72.5px,#5fc4c1 73.5px,#73c266 74.5px,#89c547 75.5px,#e5e032 76.5px,#f8d92a 77.5px,#ef622a 78.5px,#e62928 79.5px,#e62928 81.5px,#f27e2a 82.5px,#f5e52b 83.5px,#98ca43 84.5px,#71c375 85.5px,#40b3e2 86.5px,#55c1ce 87.5px,#78c04c 88.5px,#d0db37 89.5px,#f8d72a 90.5px,#ea4329 91.5px,#e62728 92.5px,#e62d28 94.5px,#f5a12a 95.5px,#f7e62a 96.5px,#c1d73b 97.5px,#7dc24a 98.5px,#6ec485 99.5px,#4fbfd6 100.5px,#3b9fda 101.5px,#3a78c5 102.5px,#3a6bbb 104.5px,#3a79c5 108.5px,#41b8e4 113.5px,#59c2c9 115.5px,#72c36e 118.5px,#75c155 119.5px,#84c448 121.5px,#8dc646 122.5px,#e5e032 125.5px,#f6e62b 127.5px,#f8d62a 129.5px,#f59d2a 131.5px,#ed572a 133.5px,#e73528 135.5px,#e62928 138.5px,#e62e28 158.5px,#ea4129 164.5px,#f17b2a 168.5px,#f3912a 174px)"></i><i style="background:linear-gradient(90deg,#e83b29 0px,#e62928 12.5px,#e62c28 33.5px,#eb4b29 36.5px,#ee5b2a 37.5px,#f8d02a 41.5px,#f5e52b 44.5px,#e4e032 46.5px,#90c745 49.5px,#75c051 52.5px,#6ec484 54.5px,#5bc3c7 56.5px,#41b9e5 58.5px,#3a73c2 63.5px,#3a67b7 68.5px,#3a6aba 69.5px,#3a77c4 70.5px,#3ba0da 71.5px,#52c0d1 72.5px,#70c479 73.5px,#7fc24a 74.5px,#f5e52b 76.5px,#f6b22a 77.5px,#e83929 78.5px,#e62728 79.5px,#e62c28 81.5px,#f6aa2a 82.5px,#f1e42e 83.5px,#8ac547 84.5px,#6fc482 85.5px,#3fafe0 86.5px,#50c0d4 87.5px,#75c154 88.5px,#bbd53c 89.5px,#f7e02a 90.5px,#ef602a 91.5px,#e62828 92.5px,#e62928 94.5px,#ee5a2a 95.5px,#f8d72a 96.5px,#ede22f 97.5px,#96c944 98.5px,#76c04e 99.5px,#67c4a3 100.5px,#42bce6 101.5px,#3a8ed1 102.5px,#3a6ebe 103.5px,#3a67b8 106.5px,#3a77c4 110.5px,#45bde3 115.5px,#60c4be 117.5px,#71c478 119.5px,#78c04c 121.5px,#88c547 123.5px,#bbd53c 125.5px,#ece230 127.5px,#f7e62a 129.5px,#f8d62a 131.5px,#f5a82a 133.5px,#f06b2a 135.5px,#ea4529 137.5px,#e62e28 139.5px,#e62828 156.5px,#e62e28 167.5px,#e93b29 174px)"></i><i style="background:linear-gradient(90deg,#e62a28 0px,#e62c28 29.5px,#ed532a 33.5px,#f17b2a 35.5px,#f7c52a 38.5px,#f8dc2a 40.5px,#f0e32e 43.5px,#e6e131 44.5px,#99ca43 47.5px,#80c349 49.5px,#78c04c 50.5px,#71c477 52.5px,#61c4be 54.5px,#44bde3 56.5px,#3a7ec8 60.5px,#3a6bbc 62.5px,#3b63b4 67.5px,#3a70c0 69.5px,#3a96d5 70.5px,#48bedf 71.5px,#6ac496 72.5px,#78c04c 73.5px,#9aca43 74.5px,#ece230 75.5px,#f8da2a 76.5px,#f0722a 77.5px,#e62b28 78.5px,#e62828 80.5px,#e94029 81.5px,#f8d02a 82.5px,#ebe230 83.5px,#85c448 84.5px,#6bc493 85.5px,#3eabdf 86.5px,#4cbfda 87.5px,#73c260 88.5px,#a6ce40 89.5px,#f5e52b 90.5px,#f4922a 91.5px,#e62b28 92.5px,#e62828 94.5px,#e83929 95.5px,#f6aa2a 96.5px,#f7e62a 97.5px,#cfdb37 98.5px,#86c448 99.5px,#73c264 100.5px,#60c4bf 101.5px,#3fb0e1 102.5px,#3a84cb 103.5px,#3a6abb 104.5px,#3b62b4 108.5px,#3a76c3 112.5px,#40b4e3 116.5px,#4abedc 117.5px,#64c4b0 119.5px,#72c36e 121.5px,#75c156 122.5px,#83c349 124.5px,#8bc646 125.5px,#d9dd35 128.5px,#ede230 129.5px,#f7e02a 132.5px,#f8d32a 134.5px,#ee5b2a 139.5px,#e62e28 143.5px,#e62a28 174px)"></i><i style="background:linear-gradient(90deg,#e62a28 0px,#e62f28 23.5px,#eb4929 28.5px,#ef622a 30.5px,#f7c92a 35.5px,#f6e62a 39.5px,#eee32f 41.5px,#ceda38 43.5px,#89c547 46.5px,#79c14b 48.5px,#71c371 50.5px,#63c4b5 52.5px,#47bddf 54.5px,#3ba0db 56.5px,#3a6fbf 59.5px,#3b5cae 64.5px,#3a66b7 67.5px,#3a72c1 68.5px,#42bce5 70.5px,#65c4ac 71.5px,#74c15a 72.5px,#88c547 73.5px,#d1db37 74.5px,#f6e62a 75.5px,#f6b52a 76.5px,#ea4329 77.5px,#e62828 78.5px,#e62928 80.5px,#ee582a 81.5px,#f8da2a 82.5px,#d8dd35 83.5px,#80c349 84.5px,#67c4a2 85.5px,#3da7dd 86.5px,#47bddf 87.5px,#72c36c 88.5px,#91c845 89.5px,#f1e42d 90.5px,#f6b82a 91.5px,#e73428 92.5px,#e62728 93.5px,#e62b28 95.5px,#ef672a 96.5px,#f8d62a 97.5px,#f0e32e 98.5px,#b1d23e 99.5px,#7fc24a 100.5px,#71c374 101.5px,#58c2ca 102.5px,#3eabdf 103.5px,#3a84cb 104.5px,#3a6cbd 105.5px,#3b5cad 108.5px,#3a6bbc 113.5px,#3a84cc 115.5px,#41b8e4 118.5px,#5cc3c5 120.5px,#6fc481 122.5px,#75c050 124.5px,#8cc646 127.5px,#d6dd35 130.5px,#eae131 131.5px,#f7e52a 134.5px,#f8d32a 137.5px,#ee5b2a 143.5px,#e83828 147.5px,#e62a28 155.5px,#e62a28 174px)"></i><i style="background:linear-gradient(90deg,#e62c28 0px,#e73428 14.5px,#eb4929 20.5px,#f06a2a 25.5px,#f5a52a 29.5px,#f8d32a 32.5px,#f3e42c 37.5px,#e9e131 39.5px,#afd13f 42.5px,#96c944 43.5px,#79c14b 46.5px,#72c36f 48.5px,#57c2cb 51.5px,#49bede 52.5px,#40b2e2 53.5px,#3a6ebe 57.5px,#3b57a9 62.5px,#3b5fb0 65.5px,#3a76c3 67.5px,#42bce6 69.5px,#62c4b6 70.5px,#73c266 71.5px,#82c349 72.5px,#f0e32e 74.5px,#f8d72a 75.5px,#f1782a 76.5px,#e62c28 77.5px,#e62b28 80.5px,#f2812a 81.5px,#f7e22a 82.5px,#c6d83a 83.5px,#7bc14b 84.5px,#64c4b0 85.5px,#3ca3dc 86.5px,#43bce4 87.5px,#71c477 88.5px,#88c547 89.5px,#ece230 90.5px,#f8d42a 91.5px,#eb4b29 92.5px,#e62828 93.5px,#e62828 95.5px,#e94129 96.5px,#f6aa2a 97.5px,#f7e22a 98.5px,#e2e032 99.5px,#98ca44 100.5px,#7ac14b 101.5px,#6fc480 102.5px,#56c1cd 103.5px,#3eace0 104.5px,#3a6ebe 106.5px,#3b58aa 109.5px,#3b5eaf 113.5px,#3a72c1 116.5px,#41b9e5 120.5px,#5dc3c3 122.5px,#70c47e 124.5px,#76c04f 126.5px,#8bc646 129.5px,#dfdf33 133.5px,#ede22f 134.5px,#f7e02a 138.5px,#f8d12a 141.5px,#f0702a 147.5px,#ec4c29 152.5px,#e73528 158.5px,#e62b28 171.5px,#e62c28 174px)"></i><i style="background:linear-gradient(90deg,#e93d29 0px,#ea4329 8.5px,#f06d2a 17.5px,#f8d22a 27.5px,#f4e52c 33.5px,#e7e131 36.5px,#a0cc42 40.5px,#8bc646 41.5px,#78c04c 44.5px,#71c372 46.5px,#56c1cc 49.5px,#48bddf 50.5px,#3b9fda 52.5px,#3a6cbc 55.5px,#3b57a9 59.5px,#3b5daf 64.5px,#3a7bc6 66.5px,#45bde3 68.5px,#62c4b7 69.5px,#72c36d 70.5px,#7ec24a 71.5px,#a3ce41 72.5px,#e8e131 73.5px,#f7e22a 74.5px,#f6af2a 75.5px,#eb4a29 76.5px,#e62a28 77.5px,#e62728 79.5px,#e83728 80.5px,#f6ae2a 81.5px,#f4e52b 82.5px,#77c04c 84.5px,#61c4be 85.5px,#3b9fda 86.5px,#41b9e5 87.5px,#6ec485 88.5px,#83c448 89.5px,#d9dd35 90.5px,#f7dd2a 91.5px,#f0722a 92.5px,#e62b28 93.5px,#e62c28 96.5px,#f06b2a 97.5px,#f8d32a 98.5px,#f4e52c 99.5px,#cfdb37 100.5px,#8ac646 101.5px,#77c04c 102.5px,#6ec486 103.5px,#57c1cc 104.5px,#3fb1e1 105.5px,#3a70c0 107.5px,#3b5aac 109.5px,#3b5aac 115.5px,#3a6fbf 118.5px,#41b8e4 122.5px,#5dc3c4 124.5px,#6fc481 126.5px,#75c154 128.5px,#88c547 131.5px,#93c845 132.5px,#dedf33 136.5px,#ece230 137.5px,#f7e02a 142.5px,#f8cd2a 146.5px,#f06b2a 156.5px,#e93e29 167.5px,#e93d29 174px)"></i><i style="background:linear-gradient(90deg,#ef662a 0px,#f1762a 7.5px,#f8d52a 21.5px,#f3e52c 29.5px,#eae230 32.5px,#b1d23e 36.5px,#8cc646 38.5px,#75c051 42.5px,#70c47a 44.5px,#61c4bb 46.5px,#45bde2 48.5px,#3a85cc 51.5px,#3a68b9 53.5px,#3b57a9 56.5px,#3b59ab 62.5px,#3a6abb 64.5px,#3a81ca 65.5px,#3ca2db 66.5px,#48bede 67.5px,#63c4b3 68.5px,#72c36e 69.5px,#7cc24a 70.5px,#96c944 71.5px,#d8dd35 72.5px,#f5e52b 73.5px,#f8d32a 74.5px,#f0702a 75.5px,#e62d28 76.5px,#e62928 79.5px,#ec512a 80.5px,#f8d22a 81.5px,#f0e32e 82.5px,#9ccb43 83.5px,#75c157 84.5px,#5bc3c6 85.5px,#3a9cd9 86.5px,#40b4e3 87.5px,#6ac495 88.5px,#7ec24a 89.5px,#c7d939 90.5px,#f7e52a 91.5px,#f5a12a 92.5px,#e73328 93.5px,#e62728 94.5px,#e62928 96.5px,#ea4229 97.5px,#f59e2a 98.5px,#f8dc2a 99.5px,#efe32e 100.5px,#87c547 102.5px,#76c04f 103.5px,#6ec485 104.5px,#5ac2c8 105.5px,#41b6e4 106.5px,#3a75c3 108.5px,#3b5dae 110.5px,#3b57a8 116.5px,#3a6cbc 120.5px,#40b4e3 124.5px,#4bbedb 125.5px,#64c4ae 127.5px,#71c371 129.5px,#77c04c 131.5px,#93c844 135.5px,#d6dd35 139.5px,#ede230 141.5px,#f7e02a 147.5px,#f8d02a 153.5px,#f0702a 167.5px,#ef662a 174px)"></i><i style="background:linear-gradient(90deg,#f6ad2a 0px,#f7c52a 8.5px,#f8d52a 12.5px,#f4e52c 23.5px,#ece230 27.5px,#b3d33e 32.5px,#89c547 35.5px,#76c04f 39.5px,#6cc48c 42.5px,#5bc3c6 44.5px,#41b9e5 46.5px,#3a6dbd 50.5px,#3b57a9 53.5px,#3b5aac 61.5px,#3a6fbf 63.5px,#3eaadf 65.5px,#4dbfd8 66.5px,#65c4aa 67.5px,#72c36c 68.5px,#7bc14b 69.5px,#8ec646 70.5px,#ccda38 71.5px,#f1e42d 72.5px,#f8da2a 73.5px,#f59d2a 74.5px,#ea4429 75.5px,#e62a28 76.5px,#e62c28 79.5px,#f1772a 80.5px,#f8db2a 81.5px,#e8e131 82.5px,#8bc646 83.5px,#73c263 84.5px,#56c1cd 85.5px,#3a98d7 86.5px,#3fafe1 87.5px,#66c4a5 88.5px,#7ac14b 89.5px,#f3e42c 91.5px,#f7c52a 92.5px,#ec4c29 93.5px,#e62928 94.5px,#e62c28 97.5px,#ee5d2a 98.5px,#f7bf2a 99.5px,#f7e32a 100.5px,#ece230 101.5px,#86c448 103.5px,#76c04f 104.5px,#6fc47f 105.5px,#5ec3c3 106.5px,#43bce5 107.5px,#3a7ec8 109.5px,#3b60b1 111.5px,#3b56a8 113.5px,#3b58aa 120.5px,#3a72c1 123.5px,#3faee0 126.5px,#45bde2 127.5px,#60c4be 129.5px,#6fc480 131.5px,#77c04c 134.5px,#8bc646 138.5px,#d3dc36 143.5px,#ede22f 146.5px,#f7e12a 154.5px,#f8cf2a 163.5px,#f6b12a 170.5px,#f6ac2a 174px)"></i><i style="background:linear-gradient(90deg,#f8d82a 0px,#f2e42d 16.5px,#e9e131 21.5px,#b6d33d 27.5px,#8fc745 30.5px,#77c04c 35.5px,#71c376 38.5px,#5ec3c3 41.5px,#44bde3 43.5px,#3a89ce 46.5px,#3a69ba 48.5px,#3b57a9 50.5px,#3b57a9 59.5px,#3a68b8 61.5px,#3a79c5 62.5px,#40b4e3 64.5px,#54c1cf 65.5px,#73c267 67.5px,#7cc24a 68.5px,#8cc646 69.5px,#c6d83a 70.5px,#efe32e 71.5px,#f7e02a 72.5px,#f7ba2a 73.5px,#ee5d2a 74.5px,#e62c28 75.5px,#e62828 78.5px,#e83829 79.5px,#f5a22a 80.5px,#f7e32a 81.5px,#d5dc36 82.5px,#86c448 83.5px,#72c36f 84.5px,#50c0d4 85.5px,#3a94d4 86.5px,#3eaadf 87.5px,#63c4b4 88.5px,#76c04e 89.5px,#9dcb42 90.5px,#eee32f 91.5px,#f8d72a 92.5px,#f06b2a 93.5px,#e62b28 94.5px,#e62928 97.5px,#e83b29 98.5px,#f8d42a 100.5px,#f6e62b 101.5px,#e4e032 102.5px,#aed13f 103.5px,#85c448 104.5px,#76c04c 105.5px,#70c478 106.5px,#62c4b8 107.5px,#4abedc 108.5px,#3da8de 109.5px,#3a6fbf 111.5px,#3b59aa 113.5px,#3b5bac 123.5px,#3a7dc7 126.5px,#40b5e3 129.5px,#56c1cc 131.5px,#68c49d 133.5px,#72c36f 135.5px,#75c051 137.5px,#95c944 143.5px,#ceda38 148.5px,#ede32f 153.5px,#f7e12a 164.5px,#f8d82a 174px)"></i><i style="background:linear-gradient(90deg,#f5e52b 0px,#e6e032 13.5px,#b2d23e 21.5px,#8cc646 25.5px,#76c04c 31.5px,#6ec484 35.5px,#5bc3c6 38.5px,#44bde3 40.5px,#3a8dd0 43.5px,#3b63b4 46.5px,#3b56a8 49.5px,#3b59ab 58.5px,#3a6dbe 60.5px,#3ca3dc 62.5px,#45bde3 63.5px,#5cc3c5 64.5px,#74c260 66.5px,#7dc24a 67.5px,#8cc646 68.5px,#c2d73a 69.5px,#ede22f 70.5px,#f7e42a 71.5px,#f8d12a 72.5px,#f27e2a 73.5px,#e93b29 74.5px,#e62928 75.5px,#e62928 78.5px,#ec4e29 79.5px,#f7c32a 80.5px,#f4e52c 81.5px,#c2d73a 82.5px,#80c349 83.5px,#70c47b 84.5px,#4bbedb 85.5px,#3a8ed1 86.5px,#3da5dc 87.5px,#5ec4c2 88.5px,#74c15c 89.5px,#8bc646 90.5px,#e2df33 91.5px,#f7df2a 92.5px,#f4952a 93.5px,#e73328 94.5px,#e62728 95.5px,#e62b28 98.5px,#ec4f2a 99.5px,#f5a42a 100.5px,#f8d92a 101.5px,#f4e52c 102.5px,#dedf33 103.5px,#acd03f 104.5px,#86c448 105.5px,#78c04c 106.5px,#72c370 107.5px,#66c4a7 108.5px,#52c0d1 109.5px,#40b4e3 110.5px,#3a7bc6 112.5px,#3b5eaf 114.5px,#3b56a8 117.5px,#3b57a9 125.5px,#3a70c0 128.5px,#41b6e3 132.5px,#54c1cf 134.5px,#65c4a9 136.5px,#70c47b 138.5px,#78c14b 142.5px,#8fc745 148.5px,#ccda38 155.5px,#ede22f 162.5px,#f5e52b 174px)"></i><i style="background:linear-gradient(90deg,#e5e032 0px,#c2d73b 10.5px,#89c547 19.5px,#76c04c 26.5px,#70c479 30.5px,#5bc3c6 34.5px,#41b7e4 37.5px,#3a6cbc 42.5px,#3b57a9 45.5px,#3b59ab 56.5px,#3a6abb 58.5px,#3a97d6 60.5px,#3fb1e1 61.5px,#4fbfd6 62.5px,#63c4b4 63.5px,#70c47b 64.5px,#75c156 65.5px,#90c745 67.5px,#ece230 69.5px,#f6e62a 70.5px,#f8d62a 71.5px,#f49a2a 72.5px,#ec4d29 73.5px,#e62b28 74.5px,#e62728 77.5px,#e62c28 78.5px,#f1732a 79.5px,#f8d72a 80.5px,#efe32e 81.5px,#acd03f 82.5px,#7bc14b 83.5px,#6cc48e 84.5px,#45bde2 85.5px,#3a89ce 86.5px,#3b9fda 87.5px,#58c2cb 88.5px,#72c26a 89.5px,#85c448 90.5px,#cedb37 91.5px,#f6e62b 92.5px,#f7bb2a 93.5px,#ec4c29 94.5px,#e62a28 95.5px,#e62928 98.5px,#e73228 99.5px,#ef662a 100.5px,#f6b72a 101.5px,#f7dc2a 102.5px,#f2e42c 103.5px,#ddde34 104.5px,#88c547 106.5px,#7ac14b 107.5px,#73c265 108.5px,#5cc3c5 110.5px,#46bde1 111.5px,#3a8cd0 113.5px,#3a72c1 114.5px,#3b57a9 117.5px,#3b58aa 128.5px,#3a70c0 131.5px,#42bce6 136.5px,#5fc4c1 139.5px,#71c374 143.5px,#77c04c 147.5px,#96c944 156.5px,#d1db37 166.5px,#e6e032 174px)"></i><i style="background:linear-gradient(90deg,#b1d23e 0px,#88c547 11.5px,#75c050 20.5px,#70c47d 25.5px,#5ec4c2 29.5px,#45bde2 32.5px,#3a8dd1 36.5px,#3b62b3 40.5px,#3b56a8 43.5px,#3b5bad 54.5px,#3a79c5 57.5px,#3da8de 59.5px,#46bde1 60.5px,#5ac2c7 61.5px,#72c36e 63.5px,#77c04c 64.5px,#98ca44 66.5px,#ede230 68.5px,#f6e62b 69.5px,#f8d82a 70.5px,#f6ab2a 71.5px,#ee5e2a 72.5px,#e73228 73.5px,#e62628 76.5px,#e62928 77.5px,#e94029 78.5px,#f5a32a 79.5px,#f7e02a 80.5px,#e6e131 81.5px,#96c944 82.5px,#76c04c 83.5px,#67c4a2 84.5px,#41b9e5 85.5px,#3a83cb 86.5px,#3a99d7 87.5px,#51c0d3 88.5px,#71c477 89.5px,#80c349 90.5px,#f1e42d 92.5px,#f8d52a 93.5px,#f0712a 94.5px,#e62c28 95.5px,#e62728 98.5px,#e62b28 99.5px,#ea4129 100.5px,#f17d2a 101.5px,#f7c42a 102.5px,#f7de2a 103.5px,#f2e42d 104.5px,#dedf33 105.5px,#8ac547 107.5px,#7ec24a 108.5px,#74c159 109.5px,#70c47b 110.5px,#64c4b0 111.5px,#52c0d2 112.5px,#41b7e4 113.5px,#3a71c1 116.5px,#3b57a8 120.5px,#3b57a9 131.5px,#3a78c5 135.5px,#41b9e5 140.5px,#61c4bc 144.5px,#70c479 148.5px,#76c04d 153.5px,#91c745 165.5px,#b2d23e 174px)"></i><i style="background:linear-gradient(90deg,#85c448 0px,#76c04e 11.5px,#70c47b 18.5px,#5bc3c7 24.5px,#45bde2 27.5px,#3a93d4 31.5px,#3a67b7 35.5px,#3b56a7 40.5px,#3b57a9 51.5px,#3a6dbd 54.5px,#42bce6 58.5px,#64c4af 60.5px,#6fc47e 61.5px,#74c15e 62.5px,#7bc14b 63.5px,#86c448 64.5px,#a2cd41 65.5px,#ede22f 67.5px,#f6e62b 68.5px,#f8d92a 69.5px,#f6b42a 70.5px,#f06f2a 71.5px,#e93e29 72.5px,#e62b28 73.5px,#e62c28 77.5px,#ee5e2a 78.5px,#f7c92a 79.5px,#f5e52b 80.5px,#d1db37 81.5px,#88c547 82.5px,#74c15b 83.5px,#63c4b5 84.5px,#3fb1e1 85.5px,#3a7dc7 86.5px,#3a92d3 87.5px,#4abedc 88.5px,#6dc489 89.5px,#7ac14b 90.5px,#a1cd41 91.5px,#ece230 92.5px,#f7df2a 93.5px,#f5a32a 94.5px,#ea4329 95.5px,#e62928 96.5px,#e62c28 100.5px,#ec4d29 101.5px,#f8cc2a 103.5px,#f7df2a 104.5px,#f2e42d 105.5px,#e2e032 106.5px,#91c845 108.5px,#77c04c 110.5px,#6bc492 112.5px,#5fc4c1 113.5px,#4dbfd9 114.5px,#40b3e2 115.5px,#3a75c3 118.5px,#3b57a9 122.5px,#3b5aab 135.5px,#3a73c1 139.5px,#41bae5 145.5px,#62c4b7 150.5px,#70c478 155.5px,#76c04c 162.5px,#86c448 174px)"></i><i style="background:linear-gradient(90deg,#75c154 0px,#70c47d 9.5px,#5ac2c7 17.5px,#41b8e4 22.5px,#3a6fbf 29.5px,#3b56a8 35.5px,#3b5aab 49.5px,#3a70c0 52.5px,#42bce6 56.5px,#62c4b8 58.5px,#72c36a 60.5px,#76c04c 61.5px,#8bc646 63.5px,#d5dc36 65.5px,#efe32f 66.5px,#f6e62a 67.5px,#f8d92a 68.5px,#f6b82a 69.5px,#f1792a 70.5px,#ea4629 71.5px,#e62c28 72.5px,#e62928 76.5px,#e93c29 77.5px,#f3912a 78.5px,#f8d92a 79.5px,#f0e32e 80.5px,#82c349 82.5px,#72c36a 83.5px,#5dc3c4 84.5px,#3ea9de 85.5px,#3a77c4 86.5px,#3a8bcf 87.5px,#43bce4 88.5px,#68c49f 89.5px,#76c04f 90.5px,#8bc646 91.5px,#d6dd35 92.5px,#f6e62b 93.5px,#f8cb2a 94.5px,#ef652a 95.5px,#e62c28 96.5px,#e62a28 100.5px,#e73228 101.5px,#ed552a 102.5px,#f8ce2a 104.5px,#f7df2a 105.5px,#e9e131 107.5px,#9fcc42 109.5px,#86c448 110.5px,#7cc24a 111.5px,#74c158 112.5px,#71c376 113.5px,#5cc3c5 115.5px,#4cbfda 116.5px,#40b4e3 117.5px,#3a6dbd 121.5px,#3b57a9 124.5px,#3b57a9 139.5px,#3a74c2 144.5px,#42bbe6 151.5px,#63c4b1 158.5px,#71c374 165.5px,#75c152 174px)"></i><i style="background:linear-gradient(90deg,#6ac496 0px,#59c2c9 8.5px,#42bae5 14.5px,#3a67b8 25.5px,#3b56a7 31.5px,#3b57a9 46.5px,#3a77c4 50.5px,#3faee0 53.5px,#45bde2 54.5px,#62c4b8 56.5px,#72c370 58.5px,#75c155 59.5px,#86c448 61.5px,#9aca43 62.5px,#dfdf33 64.5px,#f0e42e 65.5px,#f7e52a 66.5px,#f8d82a 67.5px,#f6b72a 68.5px,#eb4a29 70.5px,#e62d28 71.5px,#e62828 75.5px,#e62c28 76.5px,#ee5e2a 77.5px,#f7bf2a 78.5px,#f7e42a 79.5px,#e6e032 80.5px,#a0cd42 81.5px,#7cc24a 82.5px,#70c479 83.5px,#54c1cf 84.5px,#3ca2db 85.5px,#3a71c1 86.5px,#3a83cb 87.5px,#40b5e3 88.5px,#63c4b4 89.5px,#74c260 90.5px,#85c448 91.5px,#f0e42e 93.5px,#f8da2a 94.5px,#f59c2a 95.5px,#ea4629 96.5px,#e62a28 97.5px,#e62b28 101.5px,#e83728 102.5px,#ee592a 103.5px,#f8cc2a 105.5px,#f5e52b 107.5px,#ede32f 108.5px,#b0d13e 110.5px,#8cc646 111.5px,#79c14b 113.5px,#70c47a 115.5px,#5dc3c4 117.5px,#41b9e5 119.5px,#3a71c0 123.5px,#3b57a9 127.5px,#3b57a9 144.5px,#3a70c0 149.5px,#42bce6 159.5px,#65c4ac 169.5px,#6bc493 174px)"></i><i style="background:linear-gradient(90deg,#4abedb 0px,#41b9e5 4.5px,#3a6dbe 17.5px,#3b56a8 25.5px,#3b5bad 44.5px,#3a70c0 47.5px,#40b5e3 51.5px,#4abedc 52.5px,#63c4b2 54.5px,#71c370 56.5px,#75c158 57.5px,#7ac14b 58.5px,#8cc646 60.5px,#ebe230 63.5px,#f7e22a 65.5px,#f8d62a 66.5px,#f6b32a 67.5px,#eb4c29 69.5px,#e62e28 70.5px,#e62828 74.5px,#e62b28 75.5px,#eb4829 76.5px,#f4972a 77.5px,#f8d82a 78.5px,#f3e42c 79.5px,#ceda38 80.5px,#8bc646 81.5px,#76c04c 82.5px,#6bc491 83.5px,#4cbfd9 84.5px,#3a9ad8 85.5px,#3a6ebe 86.5px,#3a7cc7 87.5px,#3eacdf 88.5px,#5cc3c5 89.5px,#71c371 90.5px,#7ec24a 91.5px,#a4ce41 92.5px,#e6e032 93.5px,#f7e52a 94.5px,#f7c92a 95.5px,#f0702a 96.5px,#e83628 97.5px,#e62728 99.5px,#e62b28 102.5px,#e83929 103.5px,#ee592a 104.5px,#f7c62a 106.5px,#f7e62a 108.5px,#dfdf33 110.5px,#a0cc42 112.5px,#88c547 113.5px,#77c04c 115.5px,#70c47a 117.5px,#60c4c0 119.5px,#44bde3 121.5px,#3a8cd0 124.5px,#3a6dbd 126.5px,#3b57a9 130.5px,#3b5aab 150.5px,#3a6fbf 156.5px,#42bae5 169.5px,#4cbfda 174px)"></i><i style="background:linear-gradient(90deg,#3a91d3 0px,#3b5fb1 12.5px,#3a55a6 26.5px,#3b58aa 40.5px,#3a6fbf 44.5px,#43bce4 49.5px,#5dc3c4 51.5px,#72c36d 54.5px,#75c156 55.5px,#82c349 57.5px,#8ac547 58.5px,#dede34 61.5px,#efe32e 62.5px,#f7de2a 64.5px,#f8d32a 65.5px,#f6ab2a 66.5px,#eb4b29 68.5px,#e63028 69.5px,#e62828 73.5px,#e62a28 74.5px,#e83a29 75.5px,#f0732a 76.5px,#f7c62a 77.5px,#f7e32a 78.5px,#ede230 79.5px,#83c448 81.5px,#74c25e 82.5px,#65c4a9 83.5px,#44bde3 84.5px,#3a91d3 85.5px,#3a6bbb 86.5px,#3a75c3 87.5px,#3ca3dc 88.5px,#53c0d1 89.5px,#6ec484 90.5px,#78c14b 91.5px,#8bc646 92.5px,#cdda38 93.5px,#f2e42d 94.5px,#f8db2a 95.5px,#f5a82a 96.5px,#ed552a 97.5px,#e62d28 98.5px,#e62b28 103.5px,#e83a29 104.5px,#ee582a 105.5px,#f7bd2a 107.5px,#f8d82a 108.5px,#f3e42c 110.5px,#ece230 111.5px,#97ca44 114.5px,#7fc24a 116.5px,#77c04c 117.5px,#71c375 119.5px,#63c4b4 121.5px,#4bbedb 123.5px,#41b7e4 124.5px,#3a6dbd 129.5px,#3b57a9 134.5px,#3b5bad 158.5px,#3a6fbf 165.5px,#3a93d4 174px)"></i><i style="background:linear-gradient(90deg,#3b62b3 0px,#3b56a7 15.5px,#3b5bac 36.5px,#3a74c3 41.5px,#42bae5 46.5px,#62c4b6 49.5px,#70c47a 51.5px,#75c051 53.5px,#8ac547 56.5px,#ede230 60.5px,#f7e42a 62.5px,#f7c92a 64.5px,#f5a12a 65.5px,#f06e2a 66.5px,#eb4929 67.5px,#e63028 68.5px,#e62928 73.5px,#e62f28 74.5px,#ee592a 75.5px,#f6aa2a 76.5px,#f8da2a 77.5px,#f3e42c 78.5px,#d5dc36 79.5px,#96c944 80.5px,#7cc24a 81.5px,#71c370 82.5px,#60c4c1 83.5px,#40b4e3 84.5px,#3a88ce 85.5px,#3a68b9 86.5px,#3a6fbf 87.5px,#3a9bd8 88.5px,#4abedc 89.5px,#68c49f 90.5px,#74c15a 91.5px,#84c448 92.5px,#b1d23e 93.5px,#eae131 94.5px,#f7e62a 95.5px,#f8d32a 96.5px,#eb4729 98.5px,#e62b28 99.5px,#e62b28 104.5px,#e83929 105.5px,#ed552a 106.5px,#f6b12a 108.5px,#f8d42a 109.5px,#f6e62b 111.5px,#e5e032 113.5px,#95c944 116.5px,#78c14b 119.5px,#72c36e 121.5px,#5fc4c1 124.5px,#47bddf 126.5px,#3da6dd 128.5px,#3a70c0 132.5px,#3b57a9 139.5px,#3b5aac 167.5px,#3b63b4 174px)"></i><i style="background:linear-gradient(90deg,#3b56a7 0px,#3b59ab 30.5px,#3a78c5 37.5px,#43bce5 43.5px,#61c4ba 46.5px,#72c36f 49.5px,#77c04c 51.5px,#8bc646 54.5px,#e9e131 58.5px,#f6e62b 60.5px,#f8d52a 62.5px,#f6b92a 63.5px,#ef632a 65.5px,#e62f28 67.5px,#e62928 72.5px,#e62c28 73.5px,#ec4d29 74.5px,#f8d42a 76.5px,#f7e52a 77.5px,#ece230 78.5px,#87c547 80.5px,#76c04d 81.5px,#6ec487 82.5px,#55c1ce 83.5px,#3eaadf 84.5px,#3a7fc9 85.5px,#3a65b6 86.5px,#3a6cbc 87.5px,#42bbe6 89.5px,#62c4b9 90.5px,#72c36e 91.5px,#7cc24a 92.5px,#93c844 93.5px,#cfdb37 94.5px,#f1e42d 95.5px,#f7de2a 96.5px,#f7bd2a 97.5px,#f0712a 98.5px,#e93d29 99.5px,#e62b28 100.5px,#e62c28 105.5px,#e83728 106.5px,#ec4f2a 107.5px,#f7c82a 110.5px,#f7e22a 112.5px,#efe32f 114.5px,#cad939 116.5px,#97ca44 118.5px,#81c349 120.5px,#75c050 122.5px,#6cc48f 125.5px,#5ec3c3 127.5px,#41b8e4 130.5px,#3a6dbe 137.5px,#3b57a8 145.5px,#3b56a7 174px)"></i><i style="background:linear-gradient(90deg,#3a55a6 0px,#3b5bad 25.5px,#3a7bc6 32.5px,#42bbe6 39.5px,#5bc3c6 42.5px,#71c371 46.5px,#76c04f 48.5px,#90c745 52.5px,#e8e131 56.5px,#f7e12a 59.5px,#f8ca2a 61.5px,#ed562a 64.5px,#e62d28 66.5px,#e62c28 72.5px,#ea4629 73.5px,#f27f2a 74.5px,#f7c52a 75.5px,#f7df2a 76.5px,#f1e42d 77.5px,#d2db37 78.5px,#99ca43 79.5px,#7fc24a 80.5px,#73c263 81.5px,#67c4a4 82.5px,#4bbedb 83.5px,#3ba0da 84.5px,#3a76c4 85.5px,#3b62b3 86.5px,#3a68b9 87.5px,#3a86cd 88.5px,#3fafe1 89.5px,#58c2ca 90.5px,#6ec484 91.5px,#76c04e 92.5px,#86c448 93.5px,#e4e032 95.5px,#f5e52b 96.5px,#f8d82a 97.5px,#f6ab2a 98.5px,#ef622a 99.5px,#e83828 100.5px,#e62b28 101.5px,#e62b28 106.5px,#e73328 107.5px,#ef632a 109.5px,#f6b52a 111.5px,#f8d32a 112.5px,#f7e52a 114.5px,#eee32f 116.5px,#b5d33d 119.5px,#8ac646 121.5px,#78c14b 124.5px,#71c477 127.5px,#61c4bd 130.5px,#46bde1 133.5px,#3ca4dc 136.5px,#3a6cbc 143.5px,#3b57a9 151.5px,#3a55a6 174px)"></i><i style="background:linear-gradient(90deg,#3a55a6 0px,#3b5cad 18.5px,#3a79c5 26.5px,#41b9e5 34.5px,#5cc3c5 38.5px,#72c36d 43.5px,#76c050 45.5px,#8ac646 49.5px,#eae230 54.5px,#f7e32a 57.5px,#f8d32a 59.5px,#f4912a 61.5px,#ef682a 62.5px,#e83728 64.5px,#e62a28 66.5px,#e62c28 71.5px,#ea4429 72.5px,#f1762a 73.5px,#f6b82a 74.5px,#f8db2a 75.5px,#f4e52c 76.5px,#e3e032 77.5px,#87c547 79.5px,#77c04c 80.5px,#71c478 81.5px,#60c4c0 82.5px,#42bbe6 83.5px,#3a6fbf 85.5px,#3b5fb1 86.5px,#3a65b6 87.5px,#3a7cc7 88.5px,#3ca4dc 89.5px,#4dbfd8 90.5px,#67c4a3 91.5px,#73c265 92.5px,#7ec24a 93.5px,#91c845 94.5px,#c8d939 95.5px,#eee32f 96.5px,#f7e52a 97.5px,#f8d52a 98.5px,#f5a12a 99.5px,#ee5b2a 100.5px,#e83828 101.5px,#e62b28 102.5px,#e62d28 108.5px,#ed542a 110.5px,#f7c22a 113.5px,#f8d62a 114.5px,#f7e62a 116.5px,#e3e032 119.5px,#92c845 123.5px,#78c14b 127.5px,#6ec483 131.5px,#60c4bf 134.5px,#44bce4 138.5px,#3a6fbf 148.5px,#3b57a9 158.5px,#3a55a6 174px)"></i><i style="background:linear-gradient(90deg,#3b56a8 0px,#3b5dae 10.5px,#3a78c5 19.5px,#44bde4 29.5px,#61c4bc 34.5px,#72c36f 39.5px,#77c04c 42.5px,#89c547 46.5px,#a8cf40 48.5px,#ede230 52.5px,#f7e32a 55.5px,#f8d42a 57.5px,#f5a12a 59.5px,#ed572a 61.5px,#e62f28 63.5px,#e62a28 69.5px,#e62d28 70.5px,#eb4729 71.5px,#f1752a 72.5px,#f6b32a 73.5px,#f8d82a 74.5px,#f6e62b 75.5px,#ede230 76.5px,#c5d83a 77.5px,#91c845 78.5px,#7ec24a 79.5px,#74c25f 80.5px,#6ac496 81.5px,#54c1d0 82.5px,#3faee0 83.5px,#3a6abb 85.5px,#3b5dae 86.5px,#3b62b3 87.5px,#3a72c1 88.5px,#42bce6 90.5px,#60c4c0 91.5px,#70c47a 92.5px,#76c04d 93.5px,#84c448 94.5px,#a6ce40 95.5px,#d6dd35 96.5px,#f1e42e 97.5px,#f7e12a 98.5px,#f8d32a 99.5px,#f59d2a 100.5px,#ee5c2a 101.5px,#e83b29 102.5px,#e62b28 103.5px,#e62c28 109.5px,#e83628 110.5px,#ef632a 112.5px,#f8ca2a 115.5px,#f7e62a 118.5px,#e8e131 121.5px,#8dc646 126.5px,#76c04f 131.5px,#6bc493 136.5px,#5fc4c1 139.5px,#42bce6 144.5px,#3a6cbd 156.5px,#3b57a9 167.5px,#3b56a7 174px)"></i><i style="background:linear-gradient(90deg,#3b5aac 0px,#3a76c4 11.5px,#42bae5 22.5px,#60c4c0 28.5px,#71c373 34.5px,#76c04c 38.5px,#8ac646 43.5px,#e6e131 49.5px,#f7e22a 53.5px,#f8d52a 55.5px,#f5a82a 57.5px,#ef652a 59.5px,#e83a29 61.5px,#e62c28 62.5px,#e62b28 68.5px,#e73328 69.5px,#ec4d29 70.5px,#f17b2a 71.5px,#f6b42a 72.5px,#f8d82a 73.5px,#f7e62a 74.5px,#efe32f 75.5px,#d0db37 76.5px,#a1cd41 77.5px,#84c448 78.5px,#76c04c 79.5px,#71c477 80.5px,#62c4b7 81.5px,#48bddf 82.5px,#3ca1db 83.5px,#3a7cc7 84.5px,#3b5aab 86.5px,#3a6cbd 88.5px,#3faee0 90.5px,#53c0d1 91.5px,#68c49d 92.5px,#73c266 93.5px,#7cc24a 94.5px,#8ac547 95.5px,#e0df33 97.5px,#f2e42d 98.5px,#f8d22a 100.5px,#f5a12a 101.5px,#ef652a 102.5px,#ea4229 103.5px,#e62d28 104.5px,#e62b28 110.5px,#e62f28 111.5px,#ed542a 113.5px,#f8ce2a 117.5px,#f7e42a 120.5px,#ede230 123.5px,#8fc745 129.5px,#76c04f 135.5px,#6bc490 141.5px,#5ec3c3 145.5px,#44bce4 150.5px,#3a74c2 162.5px,#3b59ab 174px)"></i><i style="background:linear-gradient(90deg,#3a6cbc 0px,#3a95d5 9.5px,#44bce4 16.5px,#61c4bc 22.5px,#71c477 28.5px,#78c14b 34.5px,#8dc646 40.5px,#ede230 47.5px,#f7e62a 50.5px,#f8d42a 53.5px,#f6ac2a 55.5px,#ed552a 58.5px,#e73328 60.5px,#e62928 65.5px,#e62d28 67.5px,#ee592a 69.5px,#f7bc2a 71.5px,#f8d82a 72.5px,#f7e62a 73.5px,#efe32e 74.5px,#d6dc36 75.5px,#88c547 77.5px,#7bc14b 78.5px,#73c266 79.5px,#56c1cd 81.5px,#40b4e3 82.5px,#3a71c0 84.5px,#3b57a9 86.5px,#3a67b8 88.5px,#3a7ec8 89.5px,#3ca0db 90.5px,#46bde1 91.5px,#60c4bf 92.5px,#6fc480 93.5px,#75c156 94.5px,#90c745 96.5px,#e5e032 98.5px,#f7e02a 100.5px,#f8d42a 101.5px,#f6a92a 102.5px,#f1752a 103.5px,#ec4e29 104.5px,#e83728 105.5px,#e62a28 107.5px,#e62d28 112.5px,#ee5e2a 115.5px,#f6b52a 118.5px,#f8cd2a 119.5px,#f5e52b 123.5px,#e9e131 126.5px,#8bc646 133.5px,#75c051 140.5px,#6ec485 146.5px,#5ac3c7 152.5px,#42bce6 157.5px,#3a6fbf 171.5px,#3a6bbb 174px)"></i><i style="background:linear-gradient(90deg,#3a8cd0 0px,#44bde3 10.5px,#61c4bc 16.5px,#71c476 22.5px,#77c04c 28.5px,#8cc646 36.5px,#ece230 44.5px,#f7e52a 48.5px,#f8d42a 51.5px,#f4952a 54.5px,#ee5e2a 56.5px,#e62f28 59.5px,#e62c28 65.5px,#ec4d29 67.5px,#f06f2a 68.5px,#f7c92a 70.5px,#f6e62a 72.5px,#efe32e 73.5px,#d8dd35 74.5px,#8ac547 76.5px,#7ec24a 77.5px,#74c15a 78.5px,#6ec482 79.5px,#60c4be 80.5px,#48bedf 81.5px,#3ca4dc 82.5px,#3a6bbb 84.5px,#3b57a9 86.5px,#3b58aa 87.5px,#3a71c1 89.5px,#3fb1e1 91.5px,#51c0d2 92.5px,#66c4a7 93.5px,#71c371 94.5px,#76c04c 95.5px,#97c944 97.5px,#e5e032 99.5px,#f7e22a 101.5px,#f8d62a 102.5px,#f6b82a 103.5px,#ee5e2a 105.5px,#e73128 107.5px,#e62a28 112.5px,#e73528 114.5px,#ed522a 116.5px,#f8cd2a 121.5px,#f6e62a 125.5px,#e8e131 129.5px,#8bc646 137.5px,#76c04d 145.5px,#6ec484 152.5px,#5bc3c7 158.5px,#42bce6 163.5px,#3a8acf 174px)"></i><i style="background:linear-gradient(90deg,#3ea9de 0px,#45bde2 5.5px,#61c4bc 11.5px,#71c374 17.5px,#76c04d 22.5px,#91c845 32.5px,#ece230 41.5px,#f7e32a 46.5px,#f8d52a 49.5px,#f6b12a 51.5px,#ed562a 55.5px,#e62e28 58.5px,#e62d28 63.5px,#eb4a29 65.5px,#ef622a 66.5px,#f6b42a 68.5px,#f8d42a 69.5px,#f5e52b 71.5px,#eee32f 72.5px,#d5dc36 73.5px,#8bc646 75.5px,#75c153 77.5px,#71c477 78.5px,#65c4ac 79.5px,#51c0d3 80.5px,#40b2e2 81.5px,#3a75c3 83.5px,#3b5aac 85.5px,#3b57a9 87.5px,#3a6abb 89.5px,#43bce5 92.5px,#5ac2c7 93.5px,#72c268 95.5px,#78c14b 96.5px,#98ca43 98.5px,#e2df33 100.5px,#f7e52a 102.5px,#f8cb2a 104.5px,#ed562a 107.5px,#e73328 109.5px,#e62b28 113.5px,#e73228 115.5px,#ee5b2a 118.5px,#f8d02a 123.5px,#f5e52b 128.5px,#e7e131 132.5px,#8dc646 141.5px,#76c050 151.5px,#6fc482 157.5px,#5ac3c7 163.5px,#41b9e5 169.5px,#3da8de 174px)"></i><i style="background:linear-gradient(90deg,#42bce5 0px,#60c4bf 7.5px,#71c375 13.5px,#77c04c 18.5px,#8fc745 27.5px,#ede22f 39.5px,#f7e22a 44.5px,#f8ce2a 48.5px,#ee5e2a 53.5px,#e62f28 58.5px,#e62d28 61.5px,#ef612a 64.5px,#f8cc2a 67.5px,#f7e32a 69.5px,#ece230 71.5px,#8ac646 74.5px,#75c050 76.5px,#71c372 77.5px,#57c2cb 79.5px,#42bbe6 80.5px,#3a6cbc 83.5px,#3b57a9 85.5px,#3b5aac 88.5px,#3a72c1 90.5px,#3eabdf 92.5px,#4abedc 93.5px,#60c4c0 94.5px,#6cc48b 95.5px,#73c264 96.5px,#79c14b 97.5px,#95c944 99.5px,#dbde34 101.5px,#efe32f 102.5px,#f7df2a 104.5px,#f8d62a 105.5px,#f59d2a 107.5px,#ed572a 109.5px,#e73528 111.5px,#e62c28 113.5px,#e83929 116.5px,#ed552a 119.5px,#f8d32a 125.5px,#f4e52c 131.5px,#e4e032 135.5px,#8cc646 146.5px,#76c04d 155.5px,#6ec484 161.5px,#5ec4c2 166.5px,#42bbe6 174px)"></i><i style="background:linear-gradient(90deg,#4abedb 0px,#61c4bb 5.5px,#72c370 11.5px,#76c04c 15.5px,#90c745 23.5px,#ece230 36.5px,#f7e22a 42.5px,#f8d32a 46.5px,#f5a42a 49.5px,#f1762a 51.5px,#ee582a 53.5px,#e93f29 57.5px,#eb4729 60.5px,#ed522a 61.5px,#ef682a 62.5px,#f7c82a 65.5px,#f7e02a 67.5px,#efe32e 69.5px,#e0df33 70.5px,#88c547 73.5px,#75c052 75.5px,#71c371 76.5px,#5ac2c7 78.5px,#46bde1 79.5px,#3a8cd0 81.5px,#3a72c1 82.5px,#3b57a8 85.5px,#3b57a9 88.5px,#3a6aba 90.5px,#3a98d7 92.5px,#3fb1e1 93.5px,#4ebfd7 94.5px,#61c4ba 95.5px,#6dc488 96.5px,#73c264 97.5px,#78c14b 98.5px,#8dc646 100.5px,#ebe230 103.5px,#f7e62a 105.5px,#f8d42a 107.5px,#f59f2a 109.5px,#ee5d2a 111.5px,#ea4429 113.5px,#ea4129 116.5px,#ee5d2a 120.5px,#f17c2a 122.5px,#f7be2a 125.5px,#f8ce2a 126.5px,#f6e62b 132.5px,#e3e032 138.5px,#8ac547 151.5px,#76c04e 158.5px,#6cc48b 164.5px,#60c4c0 168.5px,#49bedd 174px)"></i><i style="background:linear-gradient(90deg,#4bbedb 0px,#61c4bb 4.5px,#72c36d 10.5px,#78c14b 14.5px,#8cc646 20.5px,#cbda38 28.5px,#eee32f 35.5px,#f7e12a 41.5px,#f8ca2a 46.5px,#f49a2a 49.5px,#f2832a 50.5px,#ef642a 53.5px,#ee5f2a 57.5px,#f2822a 60.5px,#f8cd2a 63.5px,#f6e62b 66.5px,#eae230 68.5px,#95c944 71.5px,#7cc24a 73.5px,#75c157 74.5px,#71c374 75.5px,#5bc3c7 77.5px,#47bddf 78.5px,#3eaadf 79.5px,#3a78c5 81.5px,#3b57a9 84.5px,#3b59ab 89.5px,#3a6dbd 91.5px,#40b4e3 94.5px,#4fbfd6 95.5px,#61c4ba 96.5px,#6cc48b 97.5px,#76c04c 99.5px,#89c547 101.5px,#dcde34 104.5px,#eee32f 105.5px,#f7e42a 107.5px,#f8d52a 109.5px,#f17b2a 113.5px,#ef622a 115.5px,#ef612a 119.5px,#f1792a 122.5px,#f7c12a 126.5px,#f8d02a 127.5px,#f4e52c 134.5px,#e6e131 140.5px,#a5ce41 150.5px,#8ac646 153.5px,#77c04c 159.5px,#6dc489 165.5px,#60c4c0 169.5px,#48bede 174px)"></i><i style="background:linear-gradient(90deg,#48bedf 0px,#61c4bc 4.5px,#72c36a 10.5px,#76c04c 13.5px,#8bc646 19.5px,#bdd63c 24.5px,#ede230 33.5px,#f7e12a 41.5px,#f8ce2a 46.5px,#f4942a 50.5px,#f3902a 54.5px,#f6ab2a 58.5px,#f8d52a 61.5px,#f5e52b 64.5px,#ece230 66.5px,#8ac547 70.5px,#79c14b 72.5px,#70c47b 74.5px,#58c2ca 76.5px,#46bde1 77.5px,#3a93d4 79.5px,#3a6abb 81.5px,#3b57a8 84.5px,#3b5cad 90.5px,#3a6fbf 92.5px,#40b3e2 95.5px,#4dbfd8 96.5px,#60c4c0 97.5px,#72c370 99.5px,#75c155 100.5px,#85c448 102.5px,#90c745 103.5px,#e0df33 106.5px,#f3e42c 108.5px,#f7df2a 110.5px,#f8d32a 112.5px,#f5a72a 115.5px,#f38e2a 119.5px,#f38f2a 122.5px,#f8d22a 127.5px,#f5e52b 134.5px,#e8e131 141.5px,#b3d23e 150.5px,#8ac547 154.5px,#76c04f 160.5px,#6dc488 165.5px,#5fc4c1 169.5px,#45bde2 174px)"></i><i style="background:linear-gradient(90deg,#4bbedb 0px,#61c4bc 4.5px,#72c36b 10.5px,#76c04c 13.5px,#8bc646 19.5px,#b7d43d 23.5px,#ede230 33.5px,#f7e12a 42.5px,#f8cd2a 48.5px,#f7ba2a 51.5px,#f7e62a 61.5px,#eae131 64.5px,#a7cf40 67.5px,#8cc646 68.5px,#75c052 71.5px,#6dc48a 73.5px,#63c4b4 74.5px,#43bce5 76.5px,#3a79c5 79.5px,#3b59ab 82.5px,#3b57a9 90.5px,#3a6ebe 93.5px,#3fb0e1 96.5px,#49bedd 97.5px,#5bc3c7 98.5px,#70c47b 100.5px,#77c04c 102.5px,#97c944 105.5px,#dedf33 108.5px,#ede22f 109.5px,#f7df2a 113.5px,#f7ba2a 122.5px,#f8d42a 126.5px,#f4e52b 134.5px,#e7e131 141.5px,#aad03f 151.5px,#8ac547 154.5px,#76c04f 160.5px,#6dc488 165.5px,#5fc4c1 169.5px,#49bedd 174px)"></i><i style="background:linear-gradient(90deg,#50c0d4 0px,#63c4b4 4.5px,#71c373 9.5px,#76c04c 13.5px,#90c745 20.5px,#b2d23e 23.5px,#ede32f 35.5px,#f7e02a 45.5px,#f8db2a 53.5px,#f3e42c 59.5px,#ede230 61.5px,#bbd53c 64.5px,#8cc646 66.5px,#76c04c 69.5px,#70c47a 71.5px,#5ec3c3 73.5px,#41b6e3 75.5px,#3a75c3 78.5px,#3b58aa 81.5px,#3b5bad 92.5px,#3a6cbd 94.5px,#44bce4 98.5px,#62c4b6 100.5px,#71c371 102.5px,#79c14b 104.5px,#96c944 107.5px,#d6dc36 110.5px,#eee32f 112.5px,#f7e12a 117.5px,#f8db2a 125.5px,#f2e42d 134.5px,#e5e032 140.5px,#b0d23e 150.5px,#8cc646 153.5px,#76c04f 160.5px,#6bc491 166.5px,#5dc3c4 170.5px,#4ebfd6 174px)"></i><i style="background:linear-gradient(90deg,#53c0d1 0px,#63c4b2 4.5px,#71c374 9.5px,#78c14b 14.5px,#91c745 21.5px,#bbd53c 27.5px,#eee32f 38.5px,#f4e52b 53.5px,#e8e131 58.5px,#aed13f 62.5px,#8ac547 64.5px,#76c04c 67.5px,#71c375 69.5px,#62c4b8 71.5px,#45bde2 73.5px,#3a83cb 76.5px,#3a6fbf 77.5px,#3b57a9 80.5px,#3b59ab 93.5px,#3a76c4 96.5px,#40b4e3 99.5px,#4bbedb 100.5px,#5ac2c7 101.5px,#72c36d 104.5px,#79c14b 106.5px,#8dc646 109.5px,#d5dc36 113.5px,#ece230 115.5px,#f6e52b 126.5px,#e7e131 137.5px,#97ca44 151.5px,#89c547 153.5px,#77c04c 159.5px,#6ec483 165.5px,#5fc4c1 170.5px,#51c0d3 174px)"></i><i style="background:linear-gradient(90deg,#53c1d1 0px,#63c4b4 4.5px,#71c371 10.5px,#78c04c 15.5px,#96c944 24.5px,#e5e032 40.5px,#ede32f 50.5px,#dfdf33 54.5px,#b8d43d 58.5px,#8bc646 61.5px,#76c050 65.5px,#71c476 67.5px,#57c2cb 70.5px,#49bedd 71.5px,#40b2e2 72.5px,#3a6bbb 76.5px,#3b57a9 79.5px,#3b57a9 94.5px,#3a6ebe 97.5px,#42bae5 101.5px,#5dc3c4 103.5px,#72c36e 106.5px,#77c04c 108.5px,#8fc745 112.5px,#c9d939 116.5px,#ece230 121.5px,#e7e131 132.5px,#9fcc42 147.5px,#85c448 153.5px,#75c152 159.5px,#6dc489 165.5px,#5ec4c2 170.5px,#51c0d3 174px)"></i><i style="background:linear-gradient(90deg,#51c0d3 0px,#63c4b2 5.5px,#71c372 11.5px,#76c04c 16.5px,#97ca44 29.5px,#c9d939 41.5px,#cbda38 49.5px,#add13f 54.5px,#8cc646 57.5px,#76c04c 62.5px,#70c47d 65.5px,#62c4b8 67.5px,#49bedd 69.5px,#40b5e3 70.5px,#3a6ebe 74.5px,#3b57a9 77.5px,#3b59ab 96.5px,#3a73c2 99.5px,#42bce6 103.5px,#5cc3c6 105.5px,#71c376 108.5px,#75c154 110.5px,#7dc24a 112.5px,#91c845 116.5px,#c0d73b 121.5px,#ceda38 127.5px,#bfd63b 135.5px,#8ac646 147.5px,#76c04f 157.5px,#6dc489 164.5px,#5cc3c6 170.5px,#4fc0d5 174px)"></i><i style="background:linear-gradient(90deg,#4dbfd8 0px,#62c4b6 6.5px,#71c372 13.5px,#77c04c 19.5px,#96c944 37.5px,#a0cc42 45.5px,#75c050 59.5px,#70c479 62.5px,#5ec3c2 65.5px,#47bde0 67.5px,#3ca3dc 69.5px,#3a6fbf 72.5px,#3b57a8 76.5px,#3b57a9 97.5px,#3a75c3 101.5px,#41b9e5 105.5px,#61c4ba 108.5px,#71c374 111.5px,#76c04c 114.5px,#a0cc42 128.5px,#91c845 137.5px,#76c04c 154.5px,#6ec486 162.5px,#5fc4c2 168.5px,#4cbfda 174px)"></i><i style="background:linear-gradient(90deg,#47bde0 0px,#62c4b8 8.5px,#71c373 16.5px,#77c04c 24.5px,#83c349 46.5px,#76c04c 54.5px,#6fc482 59.5px,#5fc4c1 62.5px,#42bae5 65.5px,#3a6fbf 70.5px,#3b57a9 74.5px,#3b57a9 99.5px,#3a74c2 103.5px,#40b2e2 107.5px,#45bde2 108.5px,#62c4b9 111.5px,#70c47b 114.5px,#77c04c 119.5px,#84c448 133.5px,#76c04e 150.5px,#6ec484 159.5px,#5ec3c2 166.5px,#46bde1 174px)"></i><i style="background:linear-gradient(90deg,#41b8e4 0px,#5bc3c6 9.5px,#71c372 21.5px,#76c04d 35.5px,#75c052 46.5px,#71c375 53.5px,#69c49a 56.5px,#5ac3c7 59.5px,#42bbe5 62.5px,#3a6cbd 68.5px,#3b57a8 72.5px,#3b57a9 101.5px,#3a6fbf 105.5px,#40b3e2 110.5px,#45bde3 111.5px,#63c4b4 115.5px,#70c479 119.5px,#75c154 126.5px,#76c04c 136.5px,#72c36c 150.5px,#6cc48e 156.5px,#5ac2c8 164.5px,#42bae5 172.5px,#41b6e4 174px)"></i><i style="background:linear-gradient(90deg,#3eabdf 0px,#45bde2 6.5px,#62c4b6 17.5px,#6fc482 27.5px,#71c373 39.5px,#6fc482 46.5px,#64c4b1 52.5px,#43bce5 58.5px,#3a7ac6 64.5px,#3b57a9 69.5px,#3b57a9 103.5px,#3a72c1 108.5px,#41b7e4 114.5px,#62c4b8 120.5px,#6ec485 126.5px,#71c374 133.5px,#6fc480 145.5px,#63c4b2 155.5px,#44bde4 167.5px,#3eaadf 174px)"></i><i style="background:linear-gradient(90deg,#3b9dd9 0px,#45bde2 12.5px,#62c4b7 29.5px,#63c4b5 40.5px,#4fbfd6 50.5px,#42bce6 53.5px,#3a80c9 60.5px,#3b5eaf 65.5px,#3a55a6 74.5px,#3b5aac 107.5px,#3a7ac6 112.5px,#41b8e4 119.5px,#61c4bc 130.5px,#63c4b2 139.5px,#56c1cd 153.5px,#41b9e5 163.5px,#3a9cd9 174px)"></i><i style="background:linear-gradient(90deg,#3a8acf 0px,#44bde3 22.5px,#49bedd 37.5px,#40b4e3 46.5px,#3a8cd0 54.5px,#3a65b6 60.5px,#3b56a8 65.5px,#3b57a9 109.5px,#3a77c4 116.5px,#3da6dd 123.5px,#45bde2 131.5px,#48bede 147.5px,#40b5e3 155.5px,#3a89ce 174px)"></i><i style="background:linear-gradient(90deg,#3a75c3 0px,#3ca4dc 26.5px,#3a99d7 42.5px,#3b57a9 60.5px,#3b57a9 113.5px,#3a9cd9 132.5px,#3ca3dc 148.5px,#3a74c3 174px)"></i><i style="background:linear-gradient(90deg,#3a68b9 0px,#3a7fc9 30.5px,#3b5dae 52.5px,#3a55a5 80.5px,#3b5bad 120.5px,#3a7fc8 142.5px,#3a76c3 157.5px,#3a68b9 174px)"></i><i style="background:linear-gradient(90deg,#3b5eb0 0px,#3b63b4 33.5px,#3b56a7 57.5px,#3b59aa 128.5px,#3a66b7 151.5px,#3b5eaf 174px)"></i><i style="background:linear-gradient(90deg,#3b57a9 0px,#3b57a9 174px)"></i><i style="background:linear-gradient(90deg,#3b56a8 0px,#3b56a8 174px)"></i><i style="background:linear-gradient(90deg,#3b56a7 0px,#3b56a7 174px)"></i><i style="background:linear-gradient(90deg,#3a55a6 0px,#3a55a6 174px)"></i><i style="background:linear-gradient(90deg,#3a55a5 0px,#3a55a5 174px)"></i><i style="background:linear-gradient(90deg,#3a55a5 0px,#3a55a5 174px)"></i><i style="background:linear-gradient(90deg,#3a55a5 0px,#3a55a5 174px)"></i><i style="background:linear-gradient(90deg,#3a55a5 0px,#3a55a5 174px)"></i><i style="background:linear-gradient(90deg,#3a55a5 0px,#3a55a5 174px)"></i><i style="background:linear-gradient(90deg,#3a55a5 0px,#3a55a5 174px)"></i><i style="background:linear-gradient(90deg,#3a55a5 0px,#3a55a5 174px)"></i><i style="background:linear-gradient(90deg,#3a55a5 0px,#3a55a5 174px)"></i><i style="background:linear-gradient(90deg,#3a55a5 0px,#3a55a5 174px)"></i><i style="background:linear-gradient(90deg,#3a55a5 0px,#3a55a5 174px)"></i><i style="background:linear-gradient(90deg,#3a55a5 0px,#3a55a5 174px)"></i><i style="background:linear-gradient(90deg,#3a55a5 0px,#3a55a5 174px)"></i><i style="background:linear-gradient(90deg,#3a55a5 0px,#3a55a5 174px)"></i><i style="background:linear-gradient(90deg,#3a55a5 0px,#3a55a5 174px)"></i><i style="background:linear-gradient(90deg,#3a55a5 0px,#3a55a5 174px)"></i><i style="background:linear-gradient(90deg,#3a55a5 0px,#3a55a5 174px)"></i><i style="background:linear-gradient(90deg,#3a55a5 0px,#3a55a5 174px)"></i><i style="background:linear-gradient(90deg,#3a55a5 0px,#3a55a5 174px)"></i><i style="background:linear-gradient(90deg,#3a55a5 0px,#3a55a5 174px)"></i><i style="background:linear-gradient(90deg,#3a55a5 0px,#3a55a5 174px)"></i><i style="background:linear-gradient(90deg,#3a55a5 0px,#3a55a5 174px)"></i><i style="background:linear-gradient(90deg,#3a55a5 0px,#3a55a5 174px)"></i><i style="background:linear-gradient(90deg,#3a55a5 0px,#3a55a5 174px)"></i><i style="background:linear-gradient(90deg,#3a55a5 0px,#3a55a5 174px)"></i><i style="background:linear-gradient(90deg,#3a55a5 0px,#3a55a5 174px)"></i><i style="background:linear-gradient(90deg,#3a55a5 0px,#3a55a5 174px)"></i><i style="background:linear-gradient(90deg,#3a55a5 0px,#3a55a5 174px)"></i></div>
<svg width="550" height="298" viewBox="0 0 550 298">
<defs><clipPath id="ca"><rect x="51" y="24" width="172.5" height="212.5"/></clipPath><clipPath id="cb"><rect x="267" y="24" width="173.5" height="212.5"/></clipPath></defs>
<path class="c3" clip-path="url(#ca)" d="M51.0,41.9 72.6,43.7 95.0,45.0 115.5,45.7 137.0,45.9 158.7,45.7 179.0,45.0 201.6,43.7 223.0,41.9 M223.0,58.7 201.0,60.5 179.3,61.7 158.0,62.4 137.0,62.7 116.3,62.4 95.0,61.7 73.3,60.5 51.0,58.7 M51.0,93.0 72.7,95.1 95.3,96.7 116.3,97.5 137.0,97.8 157.7,97.5 178.8,96.7 201.3,95.1 223.0,93.0 M223.0,111.2 202.7,112.6 181.0,113.6 159.0,114.2 137.0,114.4 115.0,114.2 93.0,113.6 71.3,112.5 51.0,111.2 M51.0,144.0 73.0,146.6 93.0,148.4 115.0,149.5 137.0,149.9 159.0,149.5 181.0,148.4 200.8,146.7 223.0,144.0 M223.0,156.1 212.3,158.6 201.3,160.8 191.3,162.6 180.0,164.2 169.0,165.4 158.7,166.2 147.7,166.7 137.0,166.9 126.3,166.7 115.3,166.2 105.3,165.4 94.0,164.1 83.0,162.6 72.7,160.8 61.7,158.5 51.0,156.0 M137.3,220.3 129.3,219.9 121.7,218.7 114.0,216.7 106.7,213.9 103.0,212.2 99.3,210.2 96.0,208.0 93.3,206.0 91.1,204.0 89.4,202.0 88.7,200.3 88.6,199.7 88.8,199.0 89.4,198.3 90.7,197.8 92.3,197.6 95.0,197.5 99.7,197.9 122.0,200.1 130.7,200.6 139.0,200.7 146.3,200.5 153.7,200.0 178.0,197.6 182.0,197.6 184.3,198.1 185.4,199.0 185.6,199.7 185.5,200.3 184.8,202.0 183.1,204.0 180.5,206.3 177.3,208.7 173.4,211.0 169.3,213.1 161.7,216.2 153.7,218.5 145.7,219.8 137.3,220.3"/>
<path class="c6" clip-path="url(#ca)" d="M51.0,45.0 72.3,46.7 94.0,48.0 115.3,48.7 137.0,49.0 158.7,48.7 180.0,48.0 201.7,46.7 223.0,45.0 M223.0,55.6 201.3,57.4 180.0,58.6 158.3,59.4 137.0,59.6 115.7,59.4 94.0,58.6 72.7,57.4 51.0,55.6 M51.0,96.9 73.0,98.6 94.7,99.9 116.0,100.7 137.0,100.9 158.0,100.7 179.3,99.9 201.0,98.6 223.0,96.9 M223.0,107.3 202.3,109.0 180.7,110.3 159.0,111.0 137.0,111.3 115.0,111.0 93.3,110.3 71.7,109.0 51.0,107.3 M51.0,147.9 76.7,150.4 96.3,151.9 116.7,152.8 137.0,153.1 157.3,152.8 177.7,151.9 197.3,150.4 223.0,148.0 M223.0,152.1 213.4,154.7 203.0,157.0 192.5,159.0 181.3,160.7 170.3,162.0 159.3,162.9 148.3,163.5 137.0,163.7 125.7,163.5 114.7,162.9 103.7,162.0 92.7,160.7 81.7,159.0 71.2,157.0 60.8,154.7 51.0,152.0 M142.0,216.7 136.0,216.9 130.3,216.5 124.7,215.6 119.3,214.3 113.9,212.3 109.4,210.0 107.5,208.7 106.5,207.7 105.8,206.7 105.7,205.7 106.3,204.9 107.7,204.3 109.7,204.0 113.0,203.8 137.3,204.1 160.3,203.8 164.3,203.9 166.7,204.4 167.7,204.8 168.3,205.3 168.5,206.0 168.2,207.0 167.4,208.0 166.3,209.0 162.5,211.3 157.8,213.3 153.0,214.8 147.7,216.0 142.0,216.7"/>
<path class="c9" clip-path="url(#ca)" d="M51.0,48.0 73.3,49.8 93.0,50.9 115.7,51.7 137.0,52.0 158.3,51.7 181.3,50.9 201.0,49.8 223.0,48.0 M223.0,52.6 202.2,54.3 179.2,55.7 159.0,56.4 137.0,56.6 115.3,56.4 95.0,55.7 72.0,54.3 51.0,52.6 M149.7,108.0 124.3,108.0 112.1,107.7 98.0,107.0 88.2,106.3 77.3,105.3 69.5,104.3 66.0,103.7 65.2,103.3 66.8,103.0 73.0,102.9 112.7,103.9 140.0,104.1 164.0,103.8 198.7,103.0 207.4,103.0 209.0,103.3 206.7,104.0 199.8,105.0 190.0,106.0 170.0,107.3 149.7,108.0 M142.7,160.3 130.3,160.3 117.7,159.7 105.4,158.3 100.2,157.3 99.1,157.0 98.8,156.7 100.6,156.3 106.0,156.2 134.7,156.4 166.3,156.2 173.6,156.3 175.4,156.7 175.1,157.0 174.0,157.3 166.4,158.7 156.0,159.7 142.7,160.3 M141.7,213.0 136.0,213.3 130.1,212.7 127.3,212.0 125.4,211.3 123.8,210.3 123.4,209.7 123.8,209.0 125.0,208.5 127.3,208.1 130.3,207.9 141.0,207.8 145.7,208.0 148.3,208.3 149.7,208.7 150.7,209.3 150.7,210.0 150.0,210.7 148.8,211.3 146.9,212.0 141.7,213.0"/>
<path class="c3" clip-path="url(#cb)" d="M302.9,24.0 304.0,32.0 304.3,32.3 305.8,33.3 307.7,33.9 310.3,34.3 313.7,34.4 319.7,34.2 325.7,33.5 330.0,32.7 334.0,31.4 337.3,29.7 339.3,28.0 340.2,26.3 340.4,24.0 M367.2,24.0 367.4,26.3 368.3,28.1 370.3,29.8 373.7,31.4 377.6,32.7 382.0,33.5 388.0,34.2 393.7,34.4 397.0,34.3 400.0,33.9 401.8,33.3 403.3,32.3 403.6,32.0 404.7,24.0 M441.0,93.0 440.7,94.0 437.0,94.0 435.7,95.0 432.7,95.1 431.7,96.0 428.0,96.1 427.7,97.0 425.0,97.0 424.7,97.8 421.9,98.0 421.6,98.7 421.3,98.9 417.9,99.0 417.3,99.8 415.0,100.0 414.3,100.9 412.0,101.1 411.7,101.7 411.3,101.9 408.7,102.0 407.7,102.9 404.9,103.0 404.4,103.7 404.0,103.8 401.0,104.0 400.3,104.8 398.0,105.0 397.3,105.8 394.0,106.1 393.6,106.7 393.3,106.8 390.7,107.0 389.7,107.9 387.0,108.0 386.7,108.1 385.7,108.9 383.0,109.1 382.7,109.8 380.9,110.0 380.3,110.8 378.7,111.1 377.7,111.9 376.7,112.1 375.7,112.9 374.0,113.0 373.7,113.9 373.4,114.0 373.4,115.0 372.2,118.0 367.9,125.7 366.8,127.0 366.7,129.0 366.0,129.1 365.7,132.0 365.0,132.1 364.7,135.0 364.0,135.0 363.8,146.0 364.0,147.0 364.7,147.0 365.0,154.0 365.1,154.3 365.8,155.0 365.9,160.0 366.7,160.7 368.9,163.7 370.7,165.7 373.7,168.4 376.6,170.7 380.7,173.3 384.7,175.4 390.9,178.0 396.3,179.8 400.7,181.0 406.0,182.1 425.5,185.3 430.6,186.3 435.7,187.7 437.2,188.3 438.0,189.0 438.2,190.0 437.6,191.0 439.1,193.0 439.4,194.0 439.3,194.7 438.7,195.7 437.9,196.3 435.3,197.6 430.6,199.0 423.7,200.2 416.0,200.9 408.0,201.1 399.3,201.0 391.7,200.4 385.7,199.6 379.7,198.3 373.7,196.2 368.7,193.8 364.6,191.0 361.3,187.8 359.3,184.9 357.7,181.3 356.5,177.0 355.5,172.0 354.4,160.0 354.0,148.0 354.0,139.7 353.7,135.3 353.6,148.0 353.2,160.0 352.4,169.3 351.4,175.7 350.0,181.0 348.0,185.3 345.5,188.7 342.0,191.8 339.3,193.5 336.0,195.3 332.3,196.8 328.7,198.1 324.7,199.1 320.7,199.8 316.0,200.4 310.7,200.8 304.7,201.1 296.3,201.0 290.7,200.8 285.0,200.3 279.3,199.5 275.0,198.5 271.6,197.3 269.3,196.0 268.4,195.0 268.2,193.7 268.7,192.7 270.0,191.0 269.4,190.0 269.6,189.0 271.1,188.0 274.2,187.0 278.6,186.0 301.7,182.1 307.0,181.0 311.7,179.7 317.7,177.6 324.4,174.7 328.6,172.3 332.8,169.3 337.3,165.3 338.7,163.7 340.9,160.7 341.7,160.0 341.8,155.0 342.3,154.6 342.6,154.0 342.9,147.3 343.0,146.9 343.7,147.0 343.7,146.7 343.7,136.0 343.7,135.0 342.9,135.0 342.7,132.1 341.9,132.0 341.7,129.1 340.9,129.0 340.8,127.0 339.5,125.3 335.4,118.0 334.2,115.0 334.2,114.0 333.8,113.7 333.7,113.0 331.7,112.8 330.8,112.0 329.7,111.8 328.8,111.0 327.3,110.8 327.0,110.6 326.7,110.0 325.0,109.9 324.7,109.2 324.3,109.0 322.0,108.9 320.7,108.0 318.0,107.9 316.7,107.0 314.3,106.9 314.0,106.7 313.7,106.1 310.3,105.9 310.0,105.7 309.7,105.0 307.3,104.8 306.7,104.0 303.7,103.8 303.2,103.7 302.7,103.0 300.0,102.9 298.7,102.0 296.3,101.9 296.0,101.8 295.7,101.1 293.3,100.9 293.0,100.7 292.7,100.0 290.3,99.9 290.0,99.7 289.7,99.0 286.3,98.9 286.0,98.7 285.7,98.0 283.0,97.9 282.7,97.0 280.0,97.0 279.7,96.1 276.0,96.0 274.7,95.0 271.9,95.0 270.7,94.0 267.0,94.0 M267.0,103.3 278.0,104.7 280.6,105.3 281.8,106.0 281.9,106.3 281.7,106.7 280.7,107.0 278.3,107.2 267.0,106.3 M441.0,106.3 429.3,107.2 426.9,107.0 425.9,106.7 425.7,106.3 425.8,106.0 427.0,105.3 429.7,104.7 441.0,103.3 M267.0,108.0 279.0,110.8 301.7,117.5 311.0,120.8 315.2,122.7 318.7,124.5 322.2,126.7 325.3,129.0 328.2,131.7 330.5,134.3 332.3,137.0 333.8,140.0 334.7,143.0 335.1,146.0 334.8,149.0 333.9,152.0 332.1,155.0 330.3,157.2 327.3,160.0 324.1,162.3 320.0,164.8 315.0,167.2 310.7,169.0 306.0,170.5 300.7,171.8 294.7,173.1 282.7,174.8 267.0,176.3 M441.0,176.3 425.0,174.8 412.7,173.0 401.7,170.5 397.0,169.0 392.7,167.2 387.4,164.7 383.5,162.3 380.3,160.0 377.3,157.2 375.5,155.0 373.7,152.0 372.8,149.0 372.5,146.0 372.9,143.0 373.8,140.0 375.3,137.0 377.1,134.3 379.3,131.7 382.3,129.0 385.4,126.7 389.0,124.4 392.4,122.7 396.7,120.8 406.0,117.5 428.7,110.8 441.0,107.9 M267.0,152.8 276.7,152.8 281.7,152.6 286.0,151.7 287.0,151.0 287.5,150.0 287.0,149.0 286.3,148.4 283.7,147.4 279.0,146.6 270.0,146.3 267.0,145.9 M441.0,145.8 437.7,146.3 428.7,146.6 423.7,147.5 421.3,148.3 420.6,149.0 420.1,150.0 420.6,151.0 421.5,151.7 426.0,152.6 432.7,152.8 441.0,152.7"/>
<path class="c6" clip-path="url(#cb)" d="M267.0,27.8 273.3,28.2 278.3,29.0 281.4,30.0 282.0,30.4 282.4,31.0 282.0,31.6 281.4,32.0 278.3,33.0 273.3,33.8 267.0,34.2 M441.0,34.2 434.7,33.8 429.7,33.1 426.2,32.0 425.6,31.7 425.2,31.0 425.6,30.3 426.2,30.0 429.7,28.9 434.7,28.2 441.0,27.8 M267.0,45.9 300.7,46.0 301.0,45.3 301.7,45.1 314.7,45.1 315.0,45.0 315.3,44.5 316.0,44.3 324.3,44.0 324.7,43.8 325.0,43.3 325.7,43.1 331.7,43.1 333.0,42.3 339.3,42.0 339.7,41.8 340.0,41.3 340.7,41.0 352.0,40.9 353.0,40.6 354.0,40.7 354.7,40.6 355.7,40.9 367.0,41.0 367.7,41.3 368.0,41.9 368.3,42.0 374.7,42.3 375.3,42.6 375.6,43.0 376.0,43.1 382.0,43.1 382.6,43.3 383.0,43.9 383.3,44.0 391.7,44.3 392.3,44.5 392.6,45.0 393.0,45.1 406.0,45.1 406.6,45.3 406.8,46.0 407.0,46.0 441.0,45.9 M441.0,82.1 440.7,82.8 440.3,83.0 437.0,83.0 435.7,84.0 433.0,84.0 431.7,85.0 428.3,85.0 428.0,85.1 427.7,85.9 425.0,86.0 423.7,87.0 421.0,87.0 419.7,88.0 417.0,88.2 416.7,88.8 416.3,88.9 411.3,89.1 411.0,89.2 410.7,89.8 410.0,90.0 405.0,90.0 403.7,91.0 400.3,91.1 400.0,91.2 399.7,91.8 399.3,91.9 396.3,92.1 396.0,92.2 395.7,92.8 395.3,92.9 393.0,93.1 392.7,93.7 392.3,93.9 390.0,94.1 389.7,94.8 388.0,95.0 387.7,95.7 387.3,95.9 385.0,96.1 384.7,96.8 383.0,97.0 382.7,97.8 381.0,98.1 380.7,98.9 380.0,99.0 379.7,99.8 379.0,100.0 378.0,100.9 377.0,101.0 376.7,101.9 376.0,102.0 375.7,102.9 375.0,103.0 374.7,103.9 374.0,104.0 373.7,104.9 373.0,105.0 372.7,105.9 372.0,106.0 371.7,106.9 371.0,107.0 370.7,107.9 370.0,108.0 369.9,109.0 369.4,109.7 368.9,110.0 369.3,111.0 368.7,114.0 367.7,117.0 363.2,127.7 362.0,132.0 361.4,136.0 361.3,143.0 361.5,147.0 362.1,150.0 362.6,154.0 363.6,159.0 364.2,160.7 365.1,162.3 368.5,167.3 372.2,171.3 376.7,175.0 381.7,178.1 386.7,180.6 392.7,182.9 402.0,185.9 414.2,189.0 416.6,190.0 417.6,191.0 417.7,192.1 414.3,193.4 411.0,194.4 403.7,195.7 396.0,196.1 390.0,195.9 384.7,195.1 379.0,193.7 374.0,191.7 369.7,189.2 366.0,186.3 363.3,183.3 360.9,179.3 359.3,175.3 358.0,170.7 356.6,163.7 355.6,156.0 355.3,151.0 354.9,147.0 354.8,129.0 355.0,125.0 354.9,117.0 354.5,112.0 354.0,109.7 353.7,109.5 353.0,113.0 352.7,117.0 352.6,125.0 352.8,129.0 352.7,147.0 351.7,158.7 350.2,167.7 348.7,174.2 346.7,179.3 345.4,181.7 344.0,183.7 342.3,185.7 340.0,187.7 337.3,189.6 334.3,191.3 331.3,192.7 328.0,193.9 324.7,194.8 321.0,195.5 317.0,195.9 313.0,196.1 308.0,196.0 304.0,195.7 299.7,195.1 296.2,194.3 292.9,193.3 290.0,192.1 290.0,191.0 290.1,190.7 291.0,190.0 292.4,189.3 295.7,188.3 304.7,186.1 312.0,183.9 317.7,181.9 323.0,179.6 327.0,177.5 330.7,175.2 334.0,172.6 337.0,169.7 339.7,166.6 341.7,163.7 343.2,161.0 344.0,159.0 345.0,154.0 346.2,146.0 346.2,137.0 346.1,135.0 345.6,132.0 343.9,126.3 339.2,115.0 338.3,111.0 338.7,110.0 337.9,109.3 337.7,108.1 337.0,108.0 336.7,107.0 336.0,106.9 335.7,106.0 335.0,105.9 334.7,105.0 334.0,104.9 333.7,104.0 333.0,103.9 332.7,103.0 332.0,102.9 331.7,102.0 331.0,101.9 330.7,101.1 329.7,100.9 328.7,100.0 328.0,99.9 327.7,99.0 327.0,98.9 326.7,98.1 325.0,97.9 324.7,97.1 323.0,96.9 322.7,96.2 322.3,96.0 320.0,95.8 319.7,95.0 318.0,94.8 317.7,94.1 315.3,93.9 315.0,93.8 314.7,93.1 314.3,93.0 312.0,92.9 311.7,92.2 311.3,92.1 308.0,91.9 307.7,91.3 307.0,91.0 303.7,90.9 302.7,90.0 297.3,89.9 297.0,89.8 296.7,89.2 296.3,89.1 291.3,88.9 291.0,88.9 290.7,88.2 290.3,88.1 288.0,88.0 286.7,87.0 284.0,87.0 282.7,86.0 280.0,85.9 279.7,85.2 279.3,85.1 276.0,85.0 274.7,84.0 272.0,84.0 270.7,83.0 267.0,82.9 M267.0,111.2 280.3,114.6 294.1,119.0 304.9,123.0 308.7,124.7 312.4,126.7 315.5,128.7 318.3,130.9 320.6,133.0 322.5,135.3 324.2,138.0 325.3,140.7 325.9,143.0 326.2,146.0 325.9,149.0 325.2,151.7 324.1,154.0 322.2,156.7 320.0,159.0 317.6,161.0 314.5,163.0 311.0,164.8 307.7,166.1 303.7,167.4 298.7,168.7 293.7,169.7 281.4,171.3 267.0,172.5 M441.0,172.5 426.2,171.3 413.9,169.7 408.9,168.7 404.0,167.4 400.0,166.1 396.7,164.8 393.1,163.0 390.0,161.0 387.6,159.0 385.4,156.7 383.5,154.0 382.4,151.7 381.7,149.0 381.4,146.0 381.7,143.0 382.3,140.7 383.4,138.0 385.1,135.3 387.0,133.0 389.3,130.8 392.1,128.7 395.2,126.7 398.7,124.8 402.7,123.0 413.5,119.0 427.7,114.5 441.0,111.1 M267.0,158.9 273.7,158.7 275.7,158.1 277.0,157.9 286.7,157.6 288.7,156.9 290.7,156.7 292.7,155.9 294.7,155.6 295.3,155.3 296.3,154.4 298.3,151.7 298.6,151.0 298.9,149.0 298.2,145.7 297.0,143.2 294.7,140.8 291.7,138.9 287.3,137.2 281.7,135.5 272.7,133.6 267.0,132.8 M441.0,132.7 435.0,133.6 425.7,135.6 420.0,137.3 416.0,138.9 413.0,140.8 410.7,143.1 409.4,145.7 408.8,149.0 409.0,151.0 409.3,151.7 411.2,154.3 412.7,155.5 415.0,156.0 416.7,156.6 419.0,156.9 421.0,157.6 430.7,157.9 432.0,158.1 434.0,158.7 441.0,158.9"/>
<path class="c9" clip-path="url(#cb)" d="M384.7,189.4 382.7,189.4 380.7,189.1 379.1,188.7 377.4,188.0 372.3,185.3 370.0,183.7 368.3,182.3 365.7,179.3 363.0,175.3 361.3,171.6 359.3,165.5 356.9,156.0 356.6,150.0 355.9,148.0 355.9,129.0 356.0,128.0 356.7,128.0 356.9,120.0 357.8,119.0 357.9,115.0 358.7,114.0 359.0,110.0 359.7,110.0 359.8,106.0 360.7,105.0 360.8,99.7 361.0,99.0 361.7,99.0 361.7,95.1 361.0,95.0 360.9,94.7 360.7,92.2 360.0,92.0 359.7,91.0 359.0,91.0 358.7,90.0 358.0,90.0 357.7,89.2 357.3,89.1 355.0,89.0 353.7,88.6 352.7,89.0 350.0,89.2 349.7,89.9 349.0,90.0 348.7,90.9 348.0,91.0 347.7,92.0 347.0,92.1 346.7,95.0 346.0,95.1 346.0,99.0 346.7,99.0 346.8,100.0 346.9,105.0 347.8,106.0 348.0,110.0 348.7,110.0 348.9,114.0 349.7,115.0 349.8,119.0 350.7,120.0 350.9,127.3 351.0,128.0 351.7,128.0 351.7,130.0 351.8,148.0 351.2,149.0 351.0,150.0 350.7,156.1 348.3,165.2 346.7,170.5 344.7,175.0 342.3,178.8 339.7,181.9 336.8,184.3 333.0,186.7 328.0,188.8 324.7,189.4 321.0,189.2 320.4,189.0 320.3,188.0 320.7,187.5 332.3,179.8 335.0,177.5 337.7,174.9 339.7,172.3 341.8,169.0 343.5,166.0 345.6,161.3 346.7,160.0 346.9,156.3 347.0,156.1 347.7,155.9 347.9,150.7 348.0,150.0 348.7,149.8 348.8,147.0 348.7,128.7 348.7,128.1 348.0,128.0 347.9,127.7 347.7,124.0 347.0,123.9 346.9,123.7 346.7,121.0 345.8,120.0 345.7,118.0 344.8,117.0 344.6,115.3 344.0,115.0 343.9,114.7 343.7,112.3 343.0,112.0 342.7,110.0 341.8,109.0 339.0,103.4 336.0,98.6 333.0,94.7 330.0,91.6 327.7,89.6 324.7,87.4 321.7,85.7 319.0,84.5 315.7,83.3 312.0,82.6 309.3,82.6 308.3,82.9 307.7,83.3 306.0,82.9 305.3,82.2 304.0,82.0 303.0,81.2 301.9,81.0 301.0,80.2 299.3,79.9 298.3,79.1 297.0,78.8 296.6,78.3 295.7,78.0 295.0,77.4 293.7,77.0 293.0,76.3 291.8,76.0 291.0,75.3 289.9,75.0 289.3,74.3 288.0,73.8 287.4,73.3 285.9,73.0 285.0,72.3 283.7,72.0 283.0,71.3 281.9,71.0 281.4,70.3 278.5,68.0 278.3,65.3 278.7,63.0 278.4,61.7 279.0,60.0 280.7,59.8 281.3,59.4 281.6,59.0 282.0,58.9 293.0,58.8 294.0,58.7 294.7,58.0 295.7,57.9 368.7,58.1 400.7,57.9 412.7,57.9 413.6,58.7 414.3,58.8 417.7,58.9 425.7,58.9 426.0,59.0 426.7,59.7 428.7,60.0 429.2,61.7 428.9,63.0 429.3,65.3 429.1,68.0 426.2,70.3 425.7,71.0 424.5,71.3 423.9,72.0 422.6,72.3 421.8,73.0 420.2,73.3 419.3,74.0 418.3,74.3 417.7,75.0 416.7,75.3 415.8,76.0 414.7,76.3 413.9,77.0 412.7,77.3 411.8,78.0 411.0,78.3 410.7,78.7 409.0,79.2 408.3,79.9 406.7,80.2 405.7,81.0 404.4,81.3 403.7,82.0 402.3,82.2 401.7,82.9 400.0,83.2 399.0,82.7 398.0,82.5 395.7,82.5 392.3,83.2 388.7,84.5 386.0,85.7 383.3,87.2 378.7,90.6 376.5,92.7 374.0,95.4 371.8,98.3 369.8,101.3 365.8,109.0 364.9,110.0 364.7,112.0 364.0,112.2 363.7,115.0 363.0,115.3 362.8,117.0 361.9,118.0 361.8,120.0 360.9,121.0 360.7,123.9 360.0,124.0 359.7,127.7 359.7,127.9 359.0,128.0 358.9,130.0 358.9,149.0 359.0,149.9 359.7,150.1 359.9,155.0 360.0,155.9 360.7,156.1 360.9,160.0 362.0,161.4 364.3,166.3 366.2,169.7 368.7,173.3 370.7,175.6 373.3,178.2 375.7,180.1 387.1,187.7 387.3,188.0 387.2,189.0 386.7,189.2 384.7,189.4 M441.0,167.3 432.0,167.0 422.7,166.2 413.7,165.1 405.9,163.3 400.0,161.4 397.7,160.3 395.0,158.6 392.9,157.0 391.0,155.0 389.5,153.0 388.6,151.0 387.7,148.0 387.6,146.0 387.9,144.0 388.6,141.7 389.7,139.7 391.3,137.5 393.4,135.3 395.7,133.3 398.5,131.3 401.7,129.3 404.9,127.7 411.0,125.0 420.5,121.3 428.5,118.7 441.0,115.3 M267.0,115.4 279.1,118.7 288.0,121.7 298.9,126.0 302.7,127.7 306.0,129.4 309.1,131.3 312.0,133.4 314.3,135.4 316.3,137.6 318.0,139.8 319.0,141.8 319.7,144.0 320.0,146.0 319.9,148.0 319.0,151.0 318.1,153.0 316.7,155.0 314.7,157.0 312.7,158.6 310.0,160.2 307.7,161.3 301.7,163.3 294.0,165.1 285.0,166.2 275.7,167.0 267.0,167.3 M267.0,162.0 272.0,161.8 277.0,161.0 285.0,160.5 292.7,159.2 295.7,158.2 298.0,157.1 300.0,155.8 302.1,154.0 304.2,151.0 305.1,149.0 305.7,147.0 306.2,144.0 306.4,141.0 306.3,140.0 305.9,139.0 304.0,137.1 300.0,134.4 294.3,131.5 290.0,129.6 281.0,126.1 267.0,121.9 M441.0,121.8 426.7,126.1 417.7,129.5 413.7,131.3 407.7,134.3 403.7,137.0 402.5,138.0 401.8,139.0 401.3,140.0 401.2,141.0 401.4,144.0 401.9,147.0 402.5,149.0 403.4,151.0 404.7,153.0 405.9,154.3 407.8,156.0 409.7,157.1 412.0,158.2 415.0,159.2 422.7,160.5 430.7,161.1 435.7,161.8 441.0,162.0"/>
<rect class="fr" x="50.5" y="23.5" width="173" height="213"/>
<rect class="fr" x="267" y="23.5" width="173.5" height="213"/>
<path class="tk" d="M50.5,23.5v-3.5M50.5,236.5v3.5M78.9,23.5v-3.5M78.9,236.5v3.5M108.2,23.5v-3.5M108.2,236.5v3.5M137.2,23.5v-3.5M137.2,236.5v3.5M165.6,23.5v-3.5M165.6,236.5v3.5M194.6,23.5v-3.5M194.6,236.5v3.5M223.5,23.5v-3.5M223.5,236.5v3.5M50.5,23.5h-3.5M223.5,23.5h3.5M50.5,62.3h-3.5M223.5,62.3h3.5M50.5,98.0h-3.5M223.5,98.0h3.5M50.5,132.0h-3.5M223.5,132.0h3.5M50.5,168.6h-3.5M223.5,168.6h3.5M50.5,200.5h-3.5M223.5,200.5h3.5M50.5,236.5h-3.5M223.5,236.5h3.5M267.0,23.5v-3.5M267.0,236.5v3.5M295.4,23.5v-3.5M295.4,236.5v3.5M324.3,23.5v-3.5M324.3,236.5v3.5M353.7,23.5v-3.5M353.7,236.5v3.5M382.4,23.5v-3.5M382.4,236.5v3.5M411.4,23.5v-3.5M411.4,236.5v3.5M440.5,23.5v-3.5M440.5,236.5v3.5M267.0,23.5h-3.5M440.5,23.5h3.5M267.0,62.3h-3.5M440.5,62.3h3.5M267.0,98.0h-3.5M440.5,98.0h3.5M267.0,132.0h-3.5M440.5,132.0h3.5M267.0,168.6h-3.5M440.5,168.6h3.5M267.0,200.5h-3.5M440.5,200.5h3.5M267.0,236.5h-3.5M440.5,236.5h3.5"/>
<g class="tl"><text class="tlx" x="51.5" y="264.3" text-anchor="middle">-15</text><text class="tlx" x="79.9" y="264.3" text-anchor="middle">-10</text><text class="tlx" x="109.2" y="264.3" text-anchor="middle">-5</text><text class="tlx" x="137.2" y="264.3" text-anchor="middle">0</text><text class="tlx" x="165.6" y="264.3" text-anchor="middle">5</text><text class="tlx" x="194.6" y="264.3" text-anchor="middle">10</text><text class="tlx" x="223.5" y="264.3" text-anchor="middle">15</text><text class="tlx" x="268.0" y="264.3" text-anchor="middle">-15</text><text class="tlx" x="296.4" y="264.3" text-anchor="middle">-10</text><text class="tlx" x="325.3" y="264.3" text-anchor="middle">-5</text><text class="tlx" x="353.7" y="264.3" text-anchor="middle">0</text><text class="tlx" x="382.4" y="264.3" text-anchor="middle">5</text><text class="tlx" x="411.4" y="264.3" text-anchor="middle">10</text><text class="tlx" x="440.5" y="264.3" text-anchor="middle">15</text><text x="451.6" y="23.7" dy="0.36em">30</text><text x="451.6" y="97.8" dy="0.36em">20</text><text x="451.6" y="168.5" dy="0.36em">10</text><text x="451.6" y="236.3" dy="0.36em">0</text></g>
<defs><linearGradient id="cbg" x1="0" y1="1" x2="0" y2="0"><stop offset="0.000" stop-color="#3a54a4"/><stop offset="0.100" stop-color="#3b57a9"/><stop offset="0.160" stop-color="#3a70c0"/><stop offset="0.210" stop-color="#3a9ad8"/><stop offset="0.260" stop-color="#42bce6"/><stop offset="0.320" stop-color="#60c4c0"/><stop offset="0.380" stop-color="#70c47c"/><stop offset="0.450" stop-color="#76c04c"/><stop offset="0.550" stop-color="#8cc646"/><stop offset="0.620" stop-color="#c4d83a"/><stop offset="0.680" stop-color="#ece230"/><stop offset="0.750" stop-color="#f7e62a"/><stop offset="0.820" stop-color="#f8d22a"/><stop offset="0.860" stop-color="#f5a02a"/><stop offset="0.900" stop-color="#ee5a2a"/><stop offset="0.940" stop-color="#e62d28"/><stop offset="1.000" stop-color="#e62328"/></linearGradient></defs>
<rect x="497.5" y="47" width="17.5" height="169.5" fill="url(#cbg)" stroke="#333" stroke-width="0.8"/>
<g class="tl"><text class="tlx" x="516.3" y="45.6" dy="0.36em">100</text><text class="tlx" x="516.3" y="89.6" dy="0.36em">75</text><text class="tlx" x="516.3" y="129.9" dy="0.36em">50</text><text class="tlx" x="516.3" y="177.4" dy="0.36em">25</text><text class="tlx" x="516.3" y="214.3" dy="0.36em">1</text></g>
<text class="ttl" x="137.4" y="18">(a)</text>
<text class="ttl" x="355.1" y="18">(b)</text>
<text class="ax" x="270.5" y="289">Phase Mismatch (units of 1/L)</text>
<text class="ax" transform="translate(21.8,129.5) rotate(-90)" x="0" y="0">Coupling (units of 1/L)</text>
<text class="lb" x="69.5" y="53" fill="#e62328">60</text>
<text class="lb" x="129.4" y="161.8" fill="#000">90</text>
<text class="lb" x="106" y="207.6" fill="#3a56b2">30</text>
<text class="lb" x="324" y="63" fill="#000">90</text>
<text class="lb" x="294.5" y="92.5" fill="#e62328">60</text>
<text class="lb" x="425" y="205" fill="#3a56b2">30</text>
<circle class="pt" cx="138.9" cy="64.9" r="3.9"/>
<text class="pl pa" x="126.6" y="76.3">P1</text>
<circle class="pt" cx="194.4" cy="65.7" r="3.9"/>
<text class="pl pa" x="180.5" y="75.3">P2</text>
<circle class="pt" cx="154.1" cy="97.1" r="3.9"/>
<text class="pl pa" x="154.0" y="90.0">P3</text>
<circle class="pt" cx="354.2" cy="64.2" r="3.9"/>
<text class="pl pb" x="342.5" y="75.4">P1</text>
<circle class="pt" cx="410.4" cy="65.1" r="3.9"/>
<text class="pl pb" x="396.4" y="74.6">P2</text>
<circle class="pt" cx="369.3" cy="95.7" r="3.9"/>
<text class="pl pb" x="370.0" y="89.0">P3</text>
</svg>
</body></html>
